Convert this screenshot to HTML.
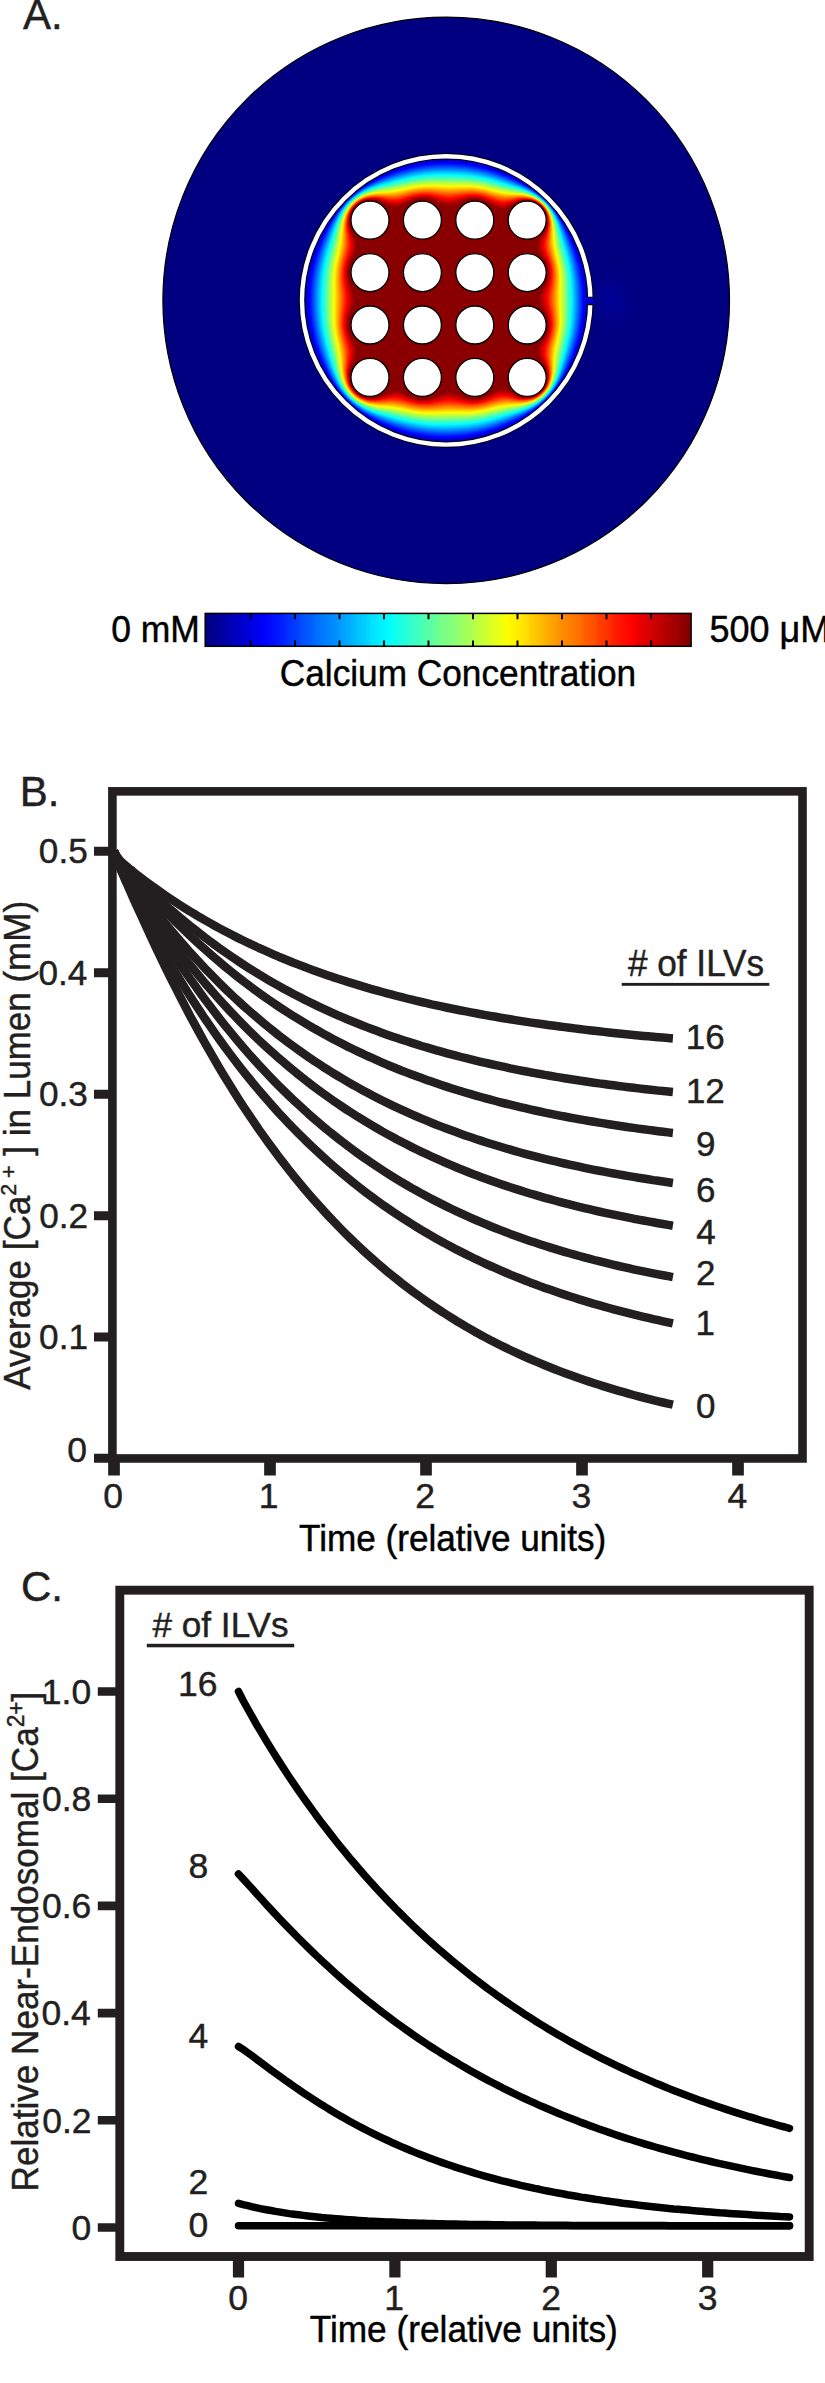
<!DOCTYPE html><html><head><meta charset="utf-8"><title>Figure</title><style>html,body{margin:0;padding:0;background:#fff;overflow:hidden}svg{display:block}text{font-family:'Liberation Sans', Arial, Helvetica, sans-serif;stroke-width:0.45px}</style></head><body>
<svg width="825" height="2383" viewBox="0 0 825 2383">
<rect width="825" height="2383" fill="#fff"/>
<text x="23.12" y="29.10" font-size="42" fill="#231f20" stroke="#231f20">A.</text>
<defs><clipPath id="cin"><circle cx="446.2" cy="300.4" r="142.2"/></clipPath>
<radialGradient id="glow" cx="0.5" cy="0.5" r="0.5"><stop offset="0" stop-color="#0000b0" stop-opacity="0.55"/><stop offset="1" stop-color="#000080" stop-opacity="0"/></radialGradient>
<filter id="sm" x="-5%" y="-5%" width="110%" height="110%"><feGaussianBlur stdDeviation="0.5"/></filter>
<linearGradient id="jetg" x1="0" y1="0" x2="1" y2="0"><stop offset="0" stop-color="#000080"/><stop offset="0.02" stop-color="#00008f"/><stop offset="0.03" stop-color="#00009f"/><stop offset="0.05" stop-color="#0000af"/><stop offset="0.06" stop-color="#0000bf"/><stop offset="0.08" stop-color="#0000cf"/><stop offset="0.09" stop-color="#0000df"/><stop offset="0.11" stop-color="#0000ef"/><stop offset="0.12" stop-color="#0000ff"/><stop offset="0.14" stop-color="#0010ff"/><stop offset="0.16" stop-color="#0020ff"/><stop offset="0.17" stop-color="#0030ff"/><stop offset="0.19" stop-color="#0040ff"/><stop offset="0.2" stop-color="#0050ff"/><stop offset="0.22" stop-color="#0060ff"/><stop offset="0.23" stop-color="#0070ff"/><stop offset="0.25" stop-color="#0080ff"/><stop offset="0.27" stop-color="#008fff"/><stop offset="0.28" stop-color="#009fff"/><stop offset="0.3" stop-color="#00afff"/><stop offset="0.31" stop-color="#00bfff"/><stop offset="0.33" stop-color="#00cfff"/><stop offset="0.34" stop-color="#00dfff"/><stop offset="0.36" stop-color="#00efff"/><stop offset="0.38" stop-color="#00ffff"/><stop offset="0.39" stop-color="#10ffef"/><stop offset="0.41" stop-color="#20ffdf"/><stop offset="0.42" stop-color="#30ffcf"/><stop offset="0.44" stop-color="#40ffbf"/><stop offset="0.45" stop-color="#50ffaf"/><stop offset="0.47" stop-color="#60ff9f"/><stop offset="0.48" stop-color="#70ff8f"/><stop offset="0.5" stop-color="#80ff80"/><stop offset="0.52" stop-color="#8fff70"/><stop offset="0.53" stop-color="#9fff60"/><stop offset="0.55" stop-color="#afff50"/><stop offset="0.56" stop-color="#bfff40"/><stop offset="0.58" stop-color="#cfff30"/><stop offset="0.59" stop-color="#dfff20"/><stop offset="0.61" stop-color="#efff10"/><stop offset="0.62" stop-color="#ffff00"/><stop offset="0.64" stop-color="#ffef00"/><stop offset="0.66" stop-color="#ffdf00"/><stop offset="0.67" stop-color="#ffcf00"/><stop offset="0.69" stop-color="#ffbf00"/><stop offset="0.7" stop-color="#ffaf00"/><stop offset="0.72" stop-color="#ff9f00"/><stop offset="0.73" stop-color="#ff8f00"/><stop offset="0.75" stop-color="#ff8000"/><stop offset="0.77" stop-color="#ff7000"/><stop offset="0.78" stop-color="#ff6000"/><stop offset="0.8" stop-color="#ff5000"/><stop offset="0.81" stop-color="#ff4000"/><stop offset="0.83" stop-color="#ff3000"/><stop offset="0.84" stop-color="#ff2000"/><stop offset="0.86" stop-color="#ff1000"/><stop offset="0.88" stop-color="#ff0000"/><stop offset="0.89" stop-color="#ef0000"/><stop offset="0.91" stop-color="#df0000"/><stop offset="0.92" stop-color="#cf0000"/><stop offset="0.94" stop-color="#bf0000"/><stop offset="0.95" stop-color="#af0000"/><stop offset="0.97" stop-color="#9f0000"/><stop offset="0.98" stop-color="#8f0000"/><stop offset="1" stop-color="#800000"/></linearGradient></defs>
<circle cx="446.2" cy="300.4" r="283.3" fill="#000080" stroke="#000" stroke-width="1.2"/>
<ellipse cx="612" cy="301" rx="40" ry="45" fill="url(#glow)"/>
<g clip-path="url(#cin)"><g filter="url(#sm)">
<circle cx="446.2" cy="300.4" r="143" fill="#00009e"/>
<path fill="#0000b5" d="M453.1 441.3 449.1 441.5 440.6 441.4 438.1 441.1 433.6 440.9 432.1 440.6 429.1 440.4 427.6 440.1 425.1 439.9 417.1 438.4 416.1 438.2 414.6 437.9 410.6 436.9 405.6 435.5 396.6 432.5 391.1 430.4 388.6 429.3 387.6 428.9 383.6 427.0 378.6 424.5 377.6 423.8 375.1 422.5 374.1 421.9 372.6 421.1 371.6 420.4 370.1 419.6 367.6 417.9 367.1 417.7 366.1 416.9 365.6 416.7 364.1 415.5 363.6 415.2 362.6 414.5 362.1 414.2 360.6 413.0 360.1 412.8 358.5 411.3 358.1 411.0 357.6 410.8 355.9 409.3 355.6 409.0 355.1 408.8 351.9 405.8 351.6 405.6 351.1 405.4 342.0 396.3 341.5 395.8 341.3 395.3 341.1 395.0 338.5 392.3 338.1 391.8 337.9 391.3 337.6 390.9 335.6 388.8 335.4 388.3 334.1 386.8 333.9 386.3 332.7 384.8 332.4 384.3 331.2 382.8 331.0 382.3 330.2 381.3 330.0 380.8 329.2 379.8 329.0 379.3 326.3 375.3 325.5 373.8 324.9 372.8 324.1 371.3 323.4 370.3 321.1 365.8 320.0 363.8 318.7 360.8 317.0 357.3 314.4 350.8 311.9 343.8 309.5 335.3 308.0 328.8 307.0 323.3 306.8 321.3 306.5 319.8 306.3 317.3 306.0 315.8 305.8 312.8 305.5 310.3 305.4 303.8 305.4 291.8 305.5 289.8 305.8 287.8 306.0 284.8 306.3 283.3 306.5 281.3 306.8 279.8 307.0 277.3 308.5 269.8 310.0 263.8 310.7 261.3 310.9 260.3 312.4 255.8 314.1 250.8 317.5 242.3 322.4 232.3 323.1 231.3 324.4 228.8 325.1 227.8 325.8 226.3 327.5 223.8 328.3 222.3 329.0 221.3 329.3 220.8 330.5 219.3 330.7 218.8 331.5 217.8 331.7 217.3 332.9 215.8 333.1 215.3 334.4 213.8 334.6 213.3 336.1 211.7 336.4 211.3 336.6 210.8 338.6 208.6 338.8 208.3 339.0 207.8 343.6 203.1 343.8 202.8 344.0 202.3 344.4 201.8 347.6 198.6 348.1 198.1 348.6 198.0 348.8 197.8 353.1 193.6 353.6 193.2 354.1 193.0 354.4 192.8 356.6 190.7 357.1 190.5 359.1 188.7 359.6 188.5 361.1 187.2 361.6 187.1 363.1 185.8 363.6 185.6 364.6 184.8 365.1 184.6 366.6 183.3 367.1 183.1 368.1 182.4 369.6 181.6 372.1 179.9 373.6 179.2 374.6 178.5 377.1 177.2 378.1 176.5 380.1 175.5 387.1 172.1 391.6 170.2 397.1 168.0 406.1 165.1 407.1 164.9 409.6 164.1 415.6 162.6 423.1 161.2 425.6 160.9 426.6 160.7 429.1 160.4 430.6 160.1 433.6 160.0 436.1 159.6 444.6 159.5 455.6 159.6 457.1 159.7 458.6 160.0 461.6 160.1 463.1 160.4 465.6 160.6 467.1 160.9 469.1 161.2 470.1 161.4 472.1 161.7 473.1 161.9 474.6 162.1 477.6 162.9 479.1 163.1 484.6 164.6 487.1 165.4 488.1 165.6 492.6 167.0 499.6 169.7 502.1 170.8 503.1 171.2 507.6 173.3 508.6 173.6 510.6 174.6 511.6 175.3 516.1 177.5 517.1 178.2 518.6 179.0 519.6 179.7 521.1 180.4 523.6 182.2 524.1 182.4 525.1 183.1 525.6 183.3 526.6 184.1 527.1 184.3 528.1 185.1 528.6 185.3 530.1 186.6 530.6 186.8 532.1 188.0 532.6 188.2 534.1 189.5 534.6 189.7 536.9 191.8 537.1 192.0 537.6 192.1 540.9 195.3 541.1 195.5 541.6 195.6 551.3 205.3 551.5 205.8 551.6 206.0 554.8 209.3 554.9 209.8 555.1 210.0 556.8 211.8 556.9 212.3 557.1 212.6 558.7 214.3 558.9 214.8 560.2 216.3 560.3 216.8 561.1 217.8 561.3 218.3 562.6 219.8 562.8 220.3 563.6 221.3 563.8 221.8 565.5 224.3 566.2 225.8 567.0 226.8 567.7 228.3 568.4 229.3 569.7 231.8 570.3 232.8 570.9 233.8 574.8 241.8 575.1 242.8 576.2 245.3 577.2 247.8 578.9 252.3 581.8 261.3 582.0 262.3 582.8 264.8 583.8 268.8 585.2 276.3 585.5 278.3 585.8 279.8 586.0 281.8 586.2 282.8 586.5 286.3 586.8 287.8 586.9 292.3 587.3 294.8 587.3 300.8 587.3 306.3 586.9 308.8 586.8 313.3 586.5 314.8 586.3 317.3 586.0 318.8 585.7 321.3 585.5 322.3 584.7 327.3 584.5 328.3 584.3 329.8 583.3 333.8 581.3 341.3 579.4 347.3 578.6 349.3 577.7 351.8 576.7 354.3 575.6 356.8 575.3 357.8 569.4 369.8 568.7 370.8 567.9 372.3 567.2 373.3 566.5 374.8 564.8 377.3 564.0 378.8 563.3 379.8 563.1 380.3 561.8 381.8 561.6 382.3 560.8 383.3 560.6 383.8 559.4 385.3 559.2 385.8 557.9 387.3 557.7 387.8 555.9 389.8 555.7 390.3 553.1 393.1 552.9 393.3 552.8 393.8 552.3 394.3 540.1 406.5 539.6 406.9 539.1 407.1 538.8 407.3 536.1 409.8 535.6 410.0 533.6 411.8 533.1 412.0 531.6 413.3 531.1 413.5 529.6 414.7 529.1 415.0 528.1 415.7 527.6 415.9 526.1 417.2 525.6 417.4 524.6 418.1 523.1 418.9 520.6 420.6 519.1 421.3 518.1 422.0 516.6 422.8 515.6 423.5 504.6 428.9 497.6 431.8 491.6 434.0 487.1 435.5 486.1 435.7 483.6 436.4 477.6 437.9 473.1 438.9 471.1 439.1 470.1 439.4 468.1 439.6 466.6 439.9 464.6 440.1 463.1 440.4 460.6 440.6 459.1 440.9 454.6 441.1 453.1 441.3Z"/>
<path fill="#0000c5" d="M454.6 440.3 452.1 440.6 450.1 440.6 441.1 440.6 433.6 440.1 425.6 439.1 422.1 438.6 417.1 437.6 411.1 436.3 405.6 434.8 397.6 432.2 391.1 429.7 387.6 428.2 384.6 426.8 379.6 424.4 375.6 422.2 370.5 419.3 365.6 416.2 360.1 412.3 358.6 411.1 357.6 410.4 356.1 409.1 355.1 408.4 352.2 405.8 350.6 404.6 342.3 396.3 341.1 394.7 338.5 391.8 337.8 390.8 336.0 388.8 334.6 386.8 331.6 382.7 326.9 375.3 323.5 369.3 320.4 363.3 317.7 357.3 316.3 353.8 313.7 346.8 312.2 342.3 310.3 335.3 308.8 328.8 307.8 322.8 306.8 315.8 306.3 310.3 306.2 303.8 306.2 292.8 306.3 290.3 306.9 284.3 307.9 277.3 309.3 269.8 310.7 263.8 311.9 259.8 313.1 255.8 314.8 250.8 318.2 242.3 322.0 234.3 324.4 229.8 328.8 222.3 332.2 217.3 335.0 213.3 336.3 211.8 337.0 210.8 338.7 208.8 339.8 207.3 343.6 203.3 344.7 201.8 347.6 198.9 348.1 198.4 349.1 197.8 353.6 193.5 354.6 192.8 356.6 191.0 357.6 190.4 359.1 189.1 360.1 188.4 363.1 186.2 368.1 182.8 375.1 178.7 381.1 175.6 388.1 172.3 396.6 168.9 404.6 166.2 409.1 164.9 415.6 163.4 423.1 161.9 430.6 160.9 436.1 160.4 443.1 160.3 454.6 160.3 461.1 160.9 465.6 161.4 472.1 162.4 479.1 163.9 484.6 165.3 491.6 167.4 499.1 170.1 503.1 171.8 508.6 174.2 515.1 177.6 518.6 179.5 521.1 181.0 525.6 183.8 528.6 185.7 529.6 186.5 530.6 187.1 533.6 189.4 534.6 190.0 536.6 191.8 537.6 192.4 538.1 192.8 540.7 195.3 541.6 195.8 542.1 196.3 550.6 204.8 551.1 205.3 551.3 205.8 551.6 206.2 554.5 209.3 555.1 210.3 556.4 211.8 557.1 212.8 558.4 214.3 559.0 215.3 559.8 216.3 561.4 218.8 562.2 219.8 565.0 224.3 567.9 229.3 570.3 233.8 573.9 241.3 575.8 245.8 578.2 252.3 581.0 260.8 582.6 266.8 584.0 273.8 585.0 279.8 586.0 287.8 586.2 292.3 586.5 294.8 586.6 300.8 586.5 306.3 586.2 308.8 586.0 313.3 585.0 320.8 584.0 327.3 582.6 333.8 580.6 341.3 578.7 347.3 576.3 353.8 574.4 358.3 569.9 367.8 567.6 372.0 563.6 378.8 560.3 383.8 558.0 386.8 557.4 387.8 556.1 389.3 555.4 390.3 553.1 392.8 552.5 393.8 552.0 394.3 546.1 400.3 540.1 406.1 538.6 407.2 536.1 409.5 535.1 410.1 533.6 411.4 529.6 414.3 526.1 416.6 520.6 420.0 514.6 423.4 506.6 427.3 503.6 428.7 500.1 430.1 493.1 432.8 487.6 434.6 481.6 436.2 475.1 437.7 467.1 439.1 459.1 440.1 454.6 440.3Z"/>
<path fill="#0000d4" d="M450.6 439.8 442.6 439.8 435.1 439.4 429.1 438.8 422.6 437.9 415.6 436.6 410.6 435.4 404.6 433.7 396.6 431.1 388.1 427.8 383.1 425.5 380.1 424.1 376.1 422.0 370.6 418.9 366.1 416.1 360.1 411.9 355.1 408.1 352.6 405.8 350.6 404.2 346.6 400.3 342.7 396.3 341.1 394.3 338.8 391.8 336.4 388.8 335.0 386.8 331.8 382.3 327.4 375.3 324.1 369.3 320.8 362.8 318.2 356.8 315.3 349.3 313.3 343.3 311.0 335.3 309.5 328.3 308.5 322.3 307.6 315.8 307.1 309.3 307.0 301.3 307.1 292.3 307.6 285.8 308.0 281.8 309.0 275.3 310.4 268.3 312.3 260.8 314.0 255.3 316.3 248.8 318.9 242.3 322.4 234.8 325.0 229.8 329.0 222.8 332.3 217.8 335.4 213.3 340.1 207.3 343.6 203.6 345.0 201.8 347.6 199.2 349.3 197.8 353.6 193.8 354.6 193.1 356.6 191.3 357.6 190.6 359.1 189.4 363.1 186.5 368.1 183.2 375.1 179.2 381.1 176.1 388.1 172.9 396.6 169.5 404.1 167.0 409.6 165.5 415.6 164.1 423.1 162.6 430.6 161.6 437.1 161.1 444.6 161.0 454.1 161.1 460.6 161.6 465.6 162.1 472.1 163.1 479.1 164.6 485.1 166.1 491.6 168.1 499.1 170.8 503.1 172.4 508.6 174.8 515.1 178.1 520.1 180.8 527.1 185.1 532.6 188.9 534.6 190.3 536.6 192.0 537.6 192.7 540.5 195.3 542.1 196.5 546.1 200.4 550.4 204.8 551.6 206.4 554.2 209.3 554.9 210.3 556.2 211.8 559.5 216.3 562.8 221.3 566.3 227.3 570.0 234.3 573.3 241.3 575.9 247.8 577.7 252.8 580.3 260.8 582.0 267.3 583.4 274.3 584.4 280.3 585.2 287.8 585.7 295.3 585.8 301.3 585.7 306.3 585.2 313.3 584.2 321.3 583.2 327.8 581.9 333.8 579.9 341.3 578.2 346.8 575.6 353.8 573.3 359.3 569.1 368.3 565.8 374.3 562.6 379.8 558.5 385.8 555.1 390.3 553.1 392.6 552.2 393.8 551.3 394.8 545.6 400.6 540.1 405.8 538.2 407.3 536.1 409.1 531.6 412.4 525.6 416.5 519.6 420.0 513.6 423.3 504.6 427.6 497.6 430.4 491.1 432.7 484.1 434.8 477.6 436.4 472.1 437.5 463.6 438.7 458.6 439.3 450.6 439.8Z"/>
<path fill="#0000e4" d="M454.1 438.8 448.1 439.1 441.1 439.0 433.6 438.5 425.6 437.6 418.6 436.4 412.1 435.0 406.1 433.4 398.6 431.1 391.6 428.5 384.6 425.6 379.1 423.0 371.1 418.7 366.6 416.0 360.6 411.9 355.1 407.7 352.6 405.5 351.1 404.3 347.4 400.8 343.0 396.3 339.2 391.8 335.4 386.8 331.9 381.8 327.9 375.3 324.6 369.3 321.4 362.8 318.7 356.3 316.2 349.8 314.0 343.3 312.1 336.3 310.5 329.3 309.4 323.3 308.6 316.8 308.0 310.3 307.8 303.8 307.8 294.3 308.0 289.8 308.6 283.3 309.5 276.8 310.8 269.8 312.4 263.3 314.4 256.3 316.6 249.8 319.4 242.8 322.8 235.3 325.6 229.8 329.5 222.8 332.7 217.8 335.8 213.3 340.5 207.3 343.6 203.9 345.3 201.8 347.6 199.5 349.6 197.8 353.6 194.0 359.1 189.7 363.6 186.5 368.6 183.3 375.1 179.7 381.1 176.6 388.1 173.5 395.1 170.7 401.6 168.5 408.6 166.4 415.6 164.7 422.6 163.4 430.1 162.4 436.1 161.9 443.6 161.7 453.6 161.8 460.1 162.2 465.1 162.8 472.1 163.8 478.6 165.1 484.6 166.6 491.1 168.6 499.1 171.4 508.1 175.2 514.6 178.4 520.1 181.3 527.1 185.5 532.6 189.2 534.6 190.6 536.6 192.2 537.6 192.9 540.3 195.3 542.1 196.7 546.1 200.6 550.2 204.8 551.6 206.6 554.0 209.3 557.8 214.3 561.8 220.3 564.5 224.8 567.7 230.8 569.7 234.8 571.4 238.3 574.3 245.3 576.6 251.3 579.0 258.8 580.7 264.8 581.9 270.3 583.2 277.3 584.0 283.3 584.6 289.8 585.0 296.3 585.0 303.3 584.6 311.8 584.1 316.8 583.1 323.8 582.0 330.3 580.3 337.3 578.3 344.3 575.9 351.3 573.4 357.8 569.3 366.8 567.0 371.3 563.1 378.3 559.9 383.3 556.8 387.8 554.8 390.3 553.1 392.3 551.5 394.3 546.6 399.3 540.6 405.1 536.1 408.8 533.1 411.0 529.1 413.8 525.6 416.0 520.6 418.9 514.1 422.5 507.6 425.5 501.1 428.3 494.6 430.8 488.1 432.9 481.6 434.7 475.1 436.2 468.1 437.4 460.6 438.3 454.1 438.8Z"/>
<path fill="#0000f3" d="M457.1 437.8 450.1 438.2 443.6 438.3 436.1 437.9 430.1 437.4 423.6 436.5 416.6 435.3 410.6 433.9 404.1 432.1 397.1 429.9 389.6 427.1 383.1 424.3 377.1 421.4 371.1 418.2 366.6 415.5 360.6 411.5 355.1 407.4 350.1 403.1 344.8 397.8 342.9 395.8 340.0 392.3 337.2 388.8 334.0 384.3 330.8 379.3 327.9 374.3 324.7 368.3 321.9 362.3 318.9 355.3 316.5 348.8 314.4 342.3 312.4 334.8 311.0 328.3 309.9 321.3 309.1 314.8 308.7 308.3 308.6 300.3 308.7 292.3 309.2 285.8 310.0 278.8 311.2 271.8 312.6 265.3 314.4 258.8 316.6 251.8 319.4 244.3 322.4 237.3 325.6 230.8 329.7 223.3 332.8 218.3 335.8 213.8 340.4 207.8 343.6 204.2 345.6 201.8 347.5 199.8 349.9 197.8 353.1 194.8 356.7 191.8 361.6 188.2 367.6 184.3 373.1 181.2 379.1 178.1 386.1 174.9 392.1 172.4 398.6 170.1 405.6 167.9 412.1 166.2 418.6 164.8 424.6 163.8 431.6 163.0 438.1 162.5 446.1 162.4 454.1 162.6 460.6 163.0 467.1 163.8 474.1 164.9 480.1 166.2 487.1 168.0 493.1 169.9 500.1 172.4 508.1 175.8 514.6 178.9 520.6 182.0 527.6 186.1 534.1 190.5 537.6 193.2 540.1 195.3 542.1 196.9 546.1 200.8 550.0 204.8 551.6 206.8 553.8 209.3 557.8 214.8 562.0 221.3 564.9 226.3 568.7 233.8 571.9 240.8 574.3 246.8 576.6 253.3 578.9 260.8 580.5 266.8 581.8 273.3 582.9 279.8 583.6 286.8 584.2 294.8 584.3 300.8 584.2 306.3 583.6 314.8 582.7 321.8 581.6 328.8 580.0 335.8 578.1 342.8 575.7 350.3 573.2 356.8 569.5 365.3 566.8 370.8 562.7 378.3 559.6 383.3 556.5 387.8 554.6 390.3 551.7 393.8 547.1 398.6 541.1 404.3 539.6 405.7 536.1 408.4 533.6 410.3 529.1 413.4 524.1 416.5 517.1 420.3 511.1 423.3 503.6 426.7 497.6 429.0 490.6 431.4 484.6 433.2 477.6 434.9 471.6 436.0 464.1 437.1 457.1 437.8Z"/>
<path fill="#0004ff" d="M452.6 437.3 446.1 437.5 439.6 437.3 432.1 436.8 424.6 435.9 417.6 434.7 411.6 433.4 405.1 431.7 398.1 429.6 391.1 427.0 384.1 424.2 377.6 421.1 371.1 417.7 366.6 415.1 361.1 411.5 355.6 407.4 351.1 403.7 347.1 399.8 343.2 395.8 339.5 391.3 335.8 386.3 332.4 381.3 328.9 375.3 325.8 369.3 322.7 362.8 319.8 355.8 317.4 349.3 315.3 342.8 313.5 336.3 312.1 329.8 311.0 323.3 310.1 316.8 309.6 310.3 309.4 303.3 309.4 294.8 309.7 289.3 310.3 282.8 311.2 276.3 312.5 269.3 314.0 262.8 315.8 256.3 318.0 249.8 320.7 242.8 323.7 235.8 326.9 229.3 330.4 222.8 333.5 217.8 337.6 211.8 341.1 207.3 345.6 202.1 347.8 199.8 353.6 194.6 359.1 190.3 363.6 187.2 368.6 184.1 374.1 181.1 380.6 177.9 388.1 174.6 394.6 172.1 401.6 169.8 408.6 167.8 415.1 166.2 422.1 164.9 429.1 164.0 436.1 163.4 443.1 163.2 452.1 163.2 457.6 163.5 464.6 164.2 471.6 165.2 478.1 166.4 484.6 168.0 490.6 169.7 498.6 172.5 506.6 175.7 514.1 179.1 520.1 182.2 527.1 186.2 532.1 189.4 534.6 191.1 537.6 193.4 542.1 197.1 546.1 201.0 549.8 204.8 553.5 209.3 557.5 214.8 561.4 220.8 563.9 225.3 567.2 231.8 570.4 238.8 573.1 245.3 575.5 251.8 577.7 258.8 579.4 265.3 580.7 271.3 581.9 278.3 582.7 284.8 583.3 291.8 583.5 298.3 583.5 304.8 583.1 312.3 582.4 318.8 581.5 325.3 580.4 331.3 578.7 338.3 576.9 344.8 574.5 351.8 571.8 358.8 568.3 366.8 565.1 373.3 561.8 379.3 557.9 385.3 554.3 390.3 551.0 394.3 546.1 399.3 540.6 404.5 536.1 408.1 532.6 410.7 526.6 414.5 521.1 417.7 514.1 421.3 507.1 424.5 500.6 427.2 493.6 429.7 487.1 431.8 480.6 433.5 474.1 434.8 467.1 436.0 459.6 436.8 452.6 437.3Z"/>
<path fill="#0013ff" d="M456.1 436.3 449.1 436.7 442.6 436.6 434.6 436.2 427.6 435.5 421.1 434.6 414.1 433.3 407.6 431.7 400.6 429.7 393.6 427.3 386.6 424.6 379.6 421.5 372.6 418.1 367.1 415.0 361.6 411.5 356.1 407.5 351.6 403.8 348.1 400.5 344.0 396.3 340.2 391.8 337.2 387.8 333.8 382.8 330.8 377.8 327.8 372.3 324.9 366.3 322.2 360.3 319.5 353.3 317.3 346.8 315.4 340.8 313.8 334.3 312.5 327.8 311.4 321.3 310.7 314.8 310.3 308.3 310.1 300.8 310.3 292.8 310.7 286.3 311.5 279.3 312.5 272.8 313.9 266.3 315.7 259.3 317.8 252.3 320.5 244.8 323.4 237.8 326.7 230.8 330.3 223.8 333.6 218.3 336.9 213.3 341.0 207.8 345.7 202.3 347.6 200.3 353.6 194.9 357.1 192.1 361.6 188.8 367.1 185.3 372.1 182.6 377.1 180.0 383.6 177.1 390.6 174.2 397.6 171.7 404.6 169.5 411.6 167.7 418.1 166.3 424.6 165.2 431.6 164.4 438.1 164.0 445.6 163.9 453.6 164.0 460.1 164.4 467.1 165.2 473.6 166.2 480.1 167.5 486.6 169.2 493.1 171.2 500.1 173.7 508.1 176.9 515.1 180.1 521.1 183.2 527.6 186.8 533.6 190.7 538.1 194.0 542.1 197.3 546.2 201.3 549.6 204.8 553.3 209.3 557.3 214.8 560.7 220.3 563.5 225.3 566.5 231.3 569.7 238.3 572.5 245.3 575.0 252.3 577.3 259.8 579.0 266.3 580.3 272.8 581.4 279.3 582.1 286.3 582.7 294.3 582.8 300.8 582.7 307.3 582.1 314.8 581.3 321.8 580.2 328.8 578.7 335.8 577.0 342.3 574.7 349.3 572.0 356.8 568.3 365.8 565.4 371.8 562.0 378.3 559.0 383.3 555.9 387.8 554.0 390.3 551.2 393.8 546.6 398.6 541.1 403.8 539.1 405.5 533.6 409.6 529.1 412.6 523.6 415.8 516.6 419.5 510.6 422.3 503.6 425.3 497.1 427.8 490.1 430.2 483.6 432.0 477.1 433.5 470.6 434.7 463.1 435.7 456.1 436.3Z"/>
<path fill="#0023ff" d="M451.1 435.8 444.6 435.9 437.6 435.7 430.6 435.1 423.6 434.3 417.1 433.2 411.1 431.9 404.6 430.2 397.6 428.0 390.6 425.6 383.6 422.8 376.6 419.6 370.6 416.5 365.6 413.7 360.6 410.4 355.6 406.8 350.8 402.8 347.1 399.2 343.6 395.5 339.8 390.8 336.2 385.8 333.0 380.8 329.9 375.3 326.8 369.3 323.9 362.8 321.3 356.3 318.8 349.3 316.7 342.8 315.0 336.3 313.6 329.8 312.5 323.3 311.7 316.8 311.1 309.8 310.9 302.3 311.0 294.3 311.3 287.8 312.1 280.8 313.1 273.8 314.5 266.8 316.2 259.8 318.2 253.3 320.8 245.8 323.8 238.3 327.2 230.8 330.8 223.8 334.3 217.8 337.9 212.3 341.3 207.8 345.6 202.7 348.1 200.1 353.6 195.1 357.6 192.0 362.1 188.8 367.6 185.4 372.1 183.0 377.6 180.3 383.6 177.6 390.1 175.0 397.1 172.5 404.1 170.3 410.6 168.6 416.6 167.3 423.1 166.2 429.6 165.3 436.1 164.8 443.1 164.6 451.6 164.7 458.1 165.0 464.6 165.6 471.1 166.5 477.6 167.7 484.1 169.2 490.6 171.0 498.1 173.5 506.1 176.7 513.6 179.9 520.6 183.3 527.1 186.8 532.6 190.3 537.6 193.9 542.1 197.5 546.1 201.3 549.8 205.3 553.5 209.8 557.0 214.8 560.4 220.3 562.9 224.8 566.0 231.3 569.1 238.3 571.9 245.3 574.4 252.3 576.5 259.3 578.2 265.8 579.6 272.3 580.6 278.8 581.3 285.3 581.8 292.3 582.1 298.8 582.0 305.3 581.6 312.3 580.9 319.3 580.0 325.8 578.9 331.8 577.4 338.3 575.6 344.8 573.3 351.8 570.4 359.3 567.1 367.3 564.0 373.8 561.1 379.3 557.4 385.3 554.2 389.8 550.5 394.3 545.6 399.3 540.6 404.0 536.1 407.5 532.6 410.0 527.1 413.4 521.1 416.7 513.6 420.4 506.1 423.7 499.1 426.4 492.1 428.8 485.6 430.8 479.1 432.3 472.6 433.6 465.6 434.6 458.6 435.4 451.1 435.8Z"/>
<path fill="#0032ff" d="M455.6 434.8 448.6 435.1 442.1 435.1 435.1 434.7 428.1 434.1 421.1 433.1 414.6 431.9 408.1 430.4 401.6 428.6 394.1 426.2 386.6 423.4 379.6 420.4 372.6 417.1 367.6 414.4 362.1 411.1 356.6 407.2 352.4 403.8 348.6 400.4 344.7 396.3 340.9 391.8 337.9 387.8 334.9 383.3 332.2 378.8 329.3 373.3 326.7 367.8 323.9 361.3 321.2 354.3 319.0 347.8 317.0 341.3 315.4 334.8 314.1 328.8 313.1 322.3 312.4 315.8 311.9 308.8 311.7 301.8 311.8 293.8 312.2 286.8 312.9 279.8 313.9 273.3 315.2 266.8 316.8 260.3 318.9 253.3 321.5 245.8 324.4 238.3 327.8 230.8 331.2 223.8 334.3 218.3 337.5 213.3 341.2 208.3 345.8 202.8 347.7 200.8 353.1 195.8 356.6 193.0 360.6 190.1 365.6 186.9 370.1 184.4 375.6 181.6 382.1 178.7 389.6 175.8 397.1 173.1 404.1 171.0 410.6 169.3 417.1 167.9 423.6 166.8 430.6 165.9 437.1 165.5 444.1 165.3 452.1 165.4 459.1 165.8 466.1 166.5 472.6 167.4 479.1 168.7 485.1 170.1 491.6 172.0 499.1 174.5 507.1 177.6 515.1 181.1 521.6 184.2 527.6 187.5 533.1 190.9 537.6 194.1 542.1 197.7 545.9 201.3 549.2 204.8 552.9 209.3 555.4 212.8 558.3 217.3 561.4 222.8 563.9 227.8 567.3 235.3 570.4 242.8 573.1 250.3 575.3 257.3 577.2 264.3 578.6 270.8 579.7 277.8 580.6 284.8 581.1 292.3 581.3 299.3 581.2 305.8 580.8 313.3 580.1 320.3 579.1 327.3 577.8 333.8 576.1 340.8 573.8 348.3 571.0 356.3 567.5 365.3 564.3 372.3 561.3 378.3 558.4 383.3 555.0 388.3 551.1 393.3 549.3 395.3 547.1 397.6 542.1 402.4 539.1 404.9 534.1 408.6 529.1 411.8 523.6 414.9 517.6 418.0 511.1 421.0 503.6 424.1 497.1 426.5 490.1 428.8 483.6 430.6 476.6 432.1 470.1 433.3 463.1 434.2 455.6 434.8Z"/>
<path fill="#0041ff" d="M449.1 434.3 442.6 434.3 435.6 434.0 428.6 433.4 422.1 432.6 415.6 431.4 409.6 430.1 403.1 428.4 396.1 426.2 389.1 423.8 382.1 421.0 375.6 418.1 369.6 415.1 364.1 412.0 359.6 409.1 355.6 406.1 350.6 401.9 346.9 398.3 343.7 394.8 340.1 390.3 336.6 385.3 333.5 380.3 330.6 374.8 327.7 368.8 324.9 362.3 322.2 355.3 319.8 348.3 317.9 341.8 316.1 334.8 314.8 328.3 313.8 321.8 313.1 315.3 312.6 308.3 312.5 300.8 312.6 293.3 313.0 286.8 313.7 279.8 314.7 273.3 315.9 266.8 317.5 260.3 319.6 253.3 322.3 245.3 325.2 237.8 328.5 230.3 331.9 223.3 335.3 217.3 338.5 212.3 341.8 207.8 346.0 202.8 348.4 200.3 354.1 195.2 358.1 192.1 362.6 189.1 367.6 186.1 372.1 183.8 377.6 181.2 384.1 178.4 391.1 175.8 398.1 173.4 405.1 171.3 411.6 169.7 418.1 168.3 424.6 167.3 431.1 166.6 437.6 166.2 444.6 166.0 452.6 166.1 459.1 166.5 465.6 167.1 472.1 168.0 478.1 169.1 484.6 170.6 490.6 172.3 498.1 174.8 506.6 178.0 514.6 181.4 521.6 184.6 527.1 187.5 533.1 191.1 537.1 193.9 542.1 197.9 546.1 201.7 549.5 205.3 553.0 209.8 556.8 215.3 559.7 220.3 562.3 225.3 565.3 231.8 568.2 238.8 570.9 245.8 573.3 252.8 575.4 259.8 577.0 266.3 578.3 272.8 579.3 279.8 580.0 286.8 580.5 293.8 580.6 300.8 580.5 307.3 580.0 314.3 579.3 320.8 578.4 327.3 577.2 333.3 575.7 339.8 573.8 346.3 571.2 354.3 568.0 362.8 565.3 369.3 562.0 376.3 559.0 381.8 555.8 386.8 552.9 390.8 550.9 393.3 549.1 395.3 544.6 399.8 540.1 403.9 535.6 407.3 531.1 410.3 525.6 413.4 519.6 416.5 512.1 419.9 504.1 423.2 497.1 425.8 490.1 428.1 483.6 429.9 477.1 431.3 470.6 432.4 463.6 433.4 456.6 434.0 449.1 434.3Z"/>
<path fill="#0051ff" d="M454.6 433.3 447.6 433.6 441.1 433.5 434.1 433.1 427.1 432.5 420.6 431.6 414.1 430.4 407.6 428.9 401.1 427.1 393.6 424.7 386.1 422.0 378.6 418.9 372.1 416.0 366.6 413.1 361.6 410.0 356.6 406.6 352.6 403.4 349.1 400.2 345.3 396.3 341.9 392.3 338.9 388.3 336.3 384.3 333.6 379.8 331.0 374.8 328.4 369.3 325.5 362.3 322.9 355.3 320.5 348.3 318.6 341.8 316.9 335.3 315.7 329.3 314.7 322.8 313.9 316.3 313.4 309.3 313.2 302.3 313.3 294.8 313.7 287.8 314.3 280.8 315.2 274.3 316.4 267.8 318.0 261.3 319.9 254.3 322.4 246.8 325.4 238.8 328.8 230.8 331.9 224.3 334.8 218.8 338.2 213.3 341.7 208.3 345.9 203.3 347.7 201.3 352.6 196.8 355.6 194.3 360.1 191.0 364.1 188.5 369.1 185.6 374.1 183.2 381.1 180.1 388.6 177.3 396.1 174.7 403.6 172.4 410.6 170.6 417.1 169.2 423.6 168.1 430.1 167.4 436.6 166.9 443.6 166.7 451.6 166.8 458.6 167.2 465.6 167.8 472.1 168.7 478.6 169.9 484.6 171.3 491.6 173.2 499.1 175.7 507.6 178.9 516.1 182.5 522.6 185.5 528.1 188.4 533.6 191.7 538.1 194.9 542.1 198.1 546.0 201.8 549.3 205.3 552.5 209.3 554.9 212.8 557.7 217.3 560.2 221.8 562.7 226.8 565.9 234.3 569.0 242.3 571.9 250.3 574.0 257.3 575.7 263.8 577.1 270.3 578.3 277.3 579.1 284.3 579.6 291.8 579.9 298.8 579.8 305.8 579.4 312.8 578.8 319.8 577.8 326.8 576.6 333.3 575.0 339.8 572.7 347.8 569.9 356.3 566.3 365.8 563.3 372.8 560.3 378.8 557.5 383.8 554.1 388.8 550.6 393.3 546.9 397.3 542.1 401.9 538.6 404.8 534.1 408.0 529.1 411.1 523.6 414.1 517.6 417.0 511.1 419.8 503.1 423.0 496.1 425.5 489.1 427.7 482.6 429.4 476.1 430.8 469.1 431.9 462.1 432.8 454.6 433.3Z"/>
<path fill="#0060ff" d="M458.6 432.3 451.6 432.7 445.1 432.8 438.6 432.6 431.6 432.2 425.1 431.5 418.6 430.5 412.6 429.4 406.1 427.8 398.6 425.7 390.6 423.1 383.1 420.3 376.1 417.4 370.1 414.5 364.6 411.5 360.1 408.7 355.6 405.5 351.6 402.2 348.5 399.3 345.2 395.8 341.9 391.8 338.9 387.8 336.3 383.8 333.8 379.3 331.2 374.3 328.5 368.3 325.7 361.3 323.0 353.8 320.7 346.8 318.9 340.3 317.4 334.3 316.3 328.3 315.3 321.8 314.6 314.8 314.1 307.8 314.0 299.8 314.2 291.8 314.7 284.8 315.4 278.3 316.5 271.3 317.8 264.8 319.6 257.8 321.9 250.3 324.7 242.3 327.8 234.3 330.9 227.3 333.8 221.3 337.2 215.3 340.6 210.3 342.8 207.3 347.1 202.2 349.5 199.8 354.1 195.7 357.6 193.0 361.6 190.3 365.6 187.9 370.1 185.5 376.1 182.7 382.6 180.0 390.6 177.1 398.6 174.5 405.6 172.5 412.1 170.9 418.1 169.7 424.6 168.7 431.1 168.0 438.1 167.6 446.1 167.4 454.1 167.6 461.1 168.1 468.1 168.8 474.6 169.8 481.1 171.1 488.1 172.8 495.6 175.1 504.1 178.1 513.1 181.7 520.6 184.9 526.6 187.9 532.1 191.0 536.6 194.0 541.1 197.5 543.1 199.2 546.8 202.8 549.5 205.8 552.6 209.8 555.3 213.8 557.8 217.8 560.4 222.8 563.3 229.3 566.4 236.8 569.4 244.8 572.1 252.8 573.9 259.3 575.6 265.8 576.7 271.8 577.7 278.3 578.5 285.3 579.0 292.8 579.1 300.3 579.0 307.3 578.6 314.3 577.9 321.3 576.9 328.3 575.6 334.8 573.7 342.3 571.3 350.3 568.2 359.3 564.8 368.3 562.0 374.8 559.2 380.3 555.9 385.8 552.8 390.3 550.0 393.8 546.2 397.8 541.6 402.0 538.1 404.9 533.6 408.0 529.1 410.7 523.6 413.7 517.6 416.5 510.1 419.6 501.1 423.1 494.1 425.5 487.1 427.5 480.1 429.2 473.1 430.6 466.1 431.6 458.6 432.3Z"/>
<path fill="#0070ff" d="M454.6 431.8 447.6 432.0 441.1 432.0 434.1 431.6 427.6 431.1 421.1 430.2 415.1 429.2 408.6 427.8 402.1 426.0 394.1 423.6 386.6 421.0 379.1 418.1 372.1 415.1 367.1 412.6 362.1 409.7 357.6 406.7 353.1 403.2 349.6 400.1 346.1 396.5 343.4 393.3 340.3 389.3 337.9 385.8 335.3 381.3 332.9 376.8 330.3 371.3 327.6 364.8 325.0 357.8 322.5 350.3 320.4 343.3 318.7 336.8 317.4 330.3 316.4 324.3 315.6 317.8 315.0 310.8 314.8 303.8 314.8 295.8 315.1 288.8 315.7 281.8 316.6 275.3 317.7 268.8 319.1 262.3 321.1 254.8 323.7 246.8 326.8 238.3 330.0 230.3 333.0 223.8 335.9 218.3 338.8 213.3 342.3 208.3 346.0 203.8 348.1 201.5 352.1 197.7 355.1 195.2 359.1 192.2 363.1 189.7 367.6 187.1 372.6 184.7 379.1 181.9 386.6 179.1 395.1 176.2 402.6 173.9 409.1 172.2 415.6 170.8 422.1 169.7 428.6 168.9 435.1 168.4 442.1 168.2 450.1 168.2 457.6 168.5 464.6 169.1 471.1 169.9 477.6 171.0 483.6 172.3 490.6 174.2 498.6 176.8 507.6 180.0 517.1 183.8 523.6 186.7 529.1 189.5 533.6 192.2 538.1 195.3 542.1 198.5 545.6 201.8 548.9 205.3 551.7 208.8 554.1 212.3 556.6 216.3 559.1 220.8 561.2 225.3 564.1 232.3 567.4 240.8 570.3 249.3 572.6 256.8 574.3 263.3 575.7 269.8 576.8 276.3 577.6 282.8 578.1 289.8 578.4 297.3 578.4 304.3 578.1 311.8 577.5 318.8 576.7 325.3 575.5 331.8 574.1 338.3 571.9 346.3 569.2 354.8 565.7 364.8 562.7 372.3 559.9 378.3 556.9 383.8 554.0 388.3 550.6 392.8 547.1 396.6 542.6 400.9 539.1 403.9 534.6 407.1 530.1 409.8 525.1 412.5 519.6 415.1 512.6 418.1 504.1 421.4 496.6 424.0 489.6 426.2 483.1 427.9 476.6 429.2 469.6 430.4 462.1 431.3 454.6 431.8Z"/>
<path fill="#007fff" d="M458.1 430.8 451.1 431.2 444.6 431.3 437.6 431.1 431.1 430.7 424.6 430.0 418.6 429.1 412.6 428.0 406.6 426.6 399.1 424.5 391.1 422.0 383.1 419.2 375.6 416.2 369.6 413.4 364.6 410.8 360.1 408.1 355.6 404.9 352.1 402.0 349.1 399.3 345.8 395.8 342.9 392.3 340.3 388.8 337.7 384.8 335.4 380.8 332.8 375.8 330.2 369.8 327.4 362.8 324.8 355.3 322.4 347.8 320.5 341.3 319.1 335.3 317.9 329.3 316.9 322.8 316.1 315.8 315.7 308.8 315.5 301.3 315.7 293.3 316.1 286.3 316.8 279.3 317.8 272.3 319.0 265.8 320.8 258.3 323.0 250.8 325.9 242.3 329.3 233.3 332.3 226.3 335.2 220.3 337.9 215.3 341.1 210.3 343.8 206.8 347.6 202.3 350.1 199.8 354.1 196.2 357.6 193.6 361.1 191.2 365.1 188.8 369.6 186.5 375.1 184.0 382.1 181.2 390.1 178.4 398.1 175.8 404.6 174.0 411.1 172.4 417.6 171.1 423.6 170.2 430.6 169.4 437.6 169.0 445.6 168.9 453.6 169.0 460.6 169.4 467.6 170.1 474.1 171.0 480.6 172.3 487.6 174.0 495.1 176.2 504.1 179.3 514.1 183.1 521.1 185.9 526.6 188.5 532.1 191.5 536.6 194.4 540.6 197.4 543.1 199.6 546.4 202.8 549.1 205.8 552.2 209.8 554.6 213.3 556.9 217.3 559.2 221.8 561.9 227.8 564.8 235.3 568.2 244.8 570.8 252.8 572.7 259.3 574.1 265.3 575.3 271.3 576.2 277.3 577.0 284.3 577.5 291.8 577.7 299.3 577.6 306.8 577.2 314.3 576.5 321.3 575.6 327.8 574.4 334.3 572.6 341.8 570.1 350.3 566.4 361.3 563.3 369.8 560.8 375.8 558.0 381.3 555.1 386.3 553.4 388.8 551.9 390.8 549.0 394.3 545.7 397.8 541.6 401.6 538.1 404.4 533.6 407.4 529.1 410.0 524.1 412.6 518.6 415.1 510.1 418.5 501.1 421.8 493.6 424.3 486.6 426.3 479.6 427.9 472.6 429.2 465.6 430.2 458.1 430.8Z"/>
<path fill="#008fff" d="M454.1 430.3 447.1 430.5 440.6 430.4 433.6 430.1 427.1 429.6 421.1 428.8 415.1 427.8 409.1 426.5 402.6 424.8 394.6 422.5 386.6 419.9 379.1 417.1 372.6 414.4 367.1 411.8 362.1 409.0 357.6 406.0 353.6 403.0 350.5 400.3 347.0 396.8 344.4 393.8 341.3 389.8 338.6 385.8 336.3 381.8 334.2 377.8 331.9 372.8 329.3 366.3 326.7 359.3 324.1 351.3 321.9 343.8 320.2 337.3 319.0 331.3 318.0 325.3 317.2 319.3 316.6 312.3 316.4 305.3 316.3 297.8 316.6 290.3 317.1 283.3 317.8 276.8 318.8 270.3 320.2 263.8 322.1 256.3 324.5 248.3 327.4 239.8 330.8 230.8 333.6 224.3 336.3 218.8 339.5 213.3 342.5 208.8 345.6 204.8 348.3 201.8 351.6 198.7 355.1 195.7 358.6 193.1 362.6 190.5 367.1 188.0 371.1 186.1 377.1 183.6 384.1 181.0 393.1 178.0 401.6 175.4 408.1 173.7 414.6 172.3 420.6 171.3 427.1 170.4 433.6 169.9 440.6 169.6 448.6 169.6 456.6 169.8 463.6 170.4 470.1 171.1 476.6 172.1 482.6 173.4 489.6 175.1 497.6 177.6 507.6 181.1 518.1 185.1 524.1 187.6 529.1 190.1 533.6 192.7 538.1 195.7 541.6 198.5 544.6 201.2 547.6 204.3 550.1 207.3 552.7 210.8 555.2 214.8 557.4 218.8 559.8 223.8 562.5 230.3 565.8 239.3 568.8 248.3 571.2 256.3 572.9 262.8 574.2 268.8 575.2 274.8 576.0 280.8 576.6 288.3 576.9 295.8 577.0 303.3 576.7 310.3 576.3 317.3 575.5 323.8 574.5 330.3 573.2 336.8 571.1 344.8 568.4 353.8 564.7 364.8 561.7 372.8 559.3 378.3 556.3 383.8 553.5 388.3 550.1 392.8 546.6 396.6 542.6 400.4 539.1 403.3 535.1 406.2 530.6 408.9 525.6 411.5 520.1 414.0 513.6 416.6 504.6 420.0 496.6 422.7 489.6 424.8 483.1 426.5 476.1 427.9 469.1 429.0 461.6 429.8 454.1 430.3Z"/>
<path fill="#009eff" d="M458.6 429.3 451.6 429.7 445.1 429.8 438.1 429.6 431.6 429.2 425.6 428.7 419.6 427.9 413.6 426.8 407.6 425.5 400.1 423.5 391.6 420.9 383.1 418.1 375.6 415.2 370.1 412.9 365.1 410.4 360.6 407.7 356.1 404.6 352.6 401.9 349.6 399.1 346.4 395.8 343.9 392.8 341.3 389.3 339.0 385.8 336.7 381.8 334.4 377.3 332.0 371.8 329.4 365.3 326.8 357.8 324.4 350.3 322.6 343.8 321.1 337.8 319.8 331.8 318.8 325.8 317.9 318.8 317.4 311.8 317.1 303.8 317.1 295.8 317.4 288.3 318.0 281.3 318.9 274.3 320.0 267.8 321.7 260.3 323.7 252.8 326.4 244.3 329.8 234.8 332.7 227.3 335.4 221.3 338.3 215.8 341.0 211.3 343.9 207.3 347.2 203.3 349.6 200.8 353.1 197.6 356.1 195.2 359.6 192.7 363.6 190.2 367.6 188.1 372.6 185.8 378.6 183.4 386.6 180.6 395.1 177.9 402.6 175.8 409.1 174.1 415.1 172.8 421.1 171.8 428.1 171.0 435.1 170.5 442.6 170.3 450.6 170.3 458.1 170.6 465.1 171.2 472.1 172.0 478.6 173.1 486.1 174.8 493.6 176.9 502.6 179.9 514.1 184.0 521.1 186.7 526.6 189.1 531.6 191.7 536.1 194.5 540.1 197.4 542.6 199.5 545.6 202.4 548.3 205.3 551.4 209.3 553.5 212.3 555.8 216.3 557.9 220.3 560.1 225.3 562.4 231.3 565.9 241.3 569.0 250.8 570.8 256.8 572.3 262.8 573.5 268.3 574.5 274.3 575.3 281.3 575.9 288.3 576.2 296.3 576.2 304.3 576.0 311.8 575.4 318.8 574.6 325.8 573.5 332.3 571.8 339.8 569.5 348.3 565.7 360.3 562.5 369.8 559.8 376.3 557.4 381.3 554.9 385.8 553.3 388.3 551.8 390.3 549.0 393.8 546.1 396.9 542.1 400.6 538.6 403.5 534.6 406.2 530.6 408.6 525.6 411.1 520.6 413.3 512.1 416.7 502.1 420.2 494.1 422.8 487.1 424.8 480.1 426.4 473.1 427.7 466.1 428.6 458.6 429.3Z"/>
<path fill="#00aeff" d="M454.1 428.8 447.1 429.0 440.6 428.9 434.1 428.7 427.6 428.2 421.6 427.4 415.6 426.5 409.6 425.2 403.6 423.8 395.6 421.6 386.6 418.7 379.1 416.1 372.6 413.6 367.1 411.0 362.6 408.6 358.1 405.8 354.1 402.8 350.6 399.8 347.6 396.8 345.0 393.8 342.3 390.3 339.9 386.8 337.6 382.8 335.5 378.8 333.5 374.3 330.9 367.8 328.4 360.8 325.7 352.3 323.5 344.8 322.0 338.8 320.7 332.8 319.6 326.8 318.9 320.8 318.2 313.8 317.9 306.8 317.8 298.8 318.0 291.3 318.5 284.3 319.1 277.8 320.1 271.3 321.3 264.8 323.1 257.3 325.4 249.3 328.7 239.3 332.2 229.8 334.7 223.8 337.3 218.3 340.1 213.3 343.0 208.8 345.7 205.3 348.4 202.3 351.6 199.2 355.1 196.2 358.6 193.6 362.1 191.4 366.1 189.2 370.1 187.3 375.6 185.0 382.6 182.5 392.1 179.4 401.1 176.8 407.6 175.1 413.6 173.8 419.6 172.7 425.6 171.9 432.1 171.3 439.1 171.0 447.1 171.0 455.1 171.2 462.1 171.6 468.6 172.2 475.1 173.2 481.1 174.3 488.1 176.0 496.1 178.3 507.6 182.2 518.6 186.1 524.6 188.5 529.1 190.7 533.6 193.1 537.6 195.8 541.1 198.4 543.6 200.6 546.6 203.6 549.0 206.3 551.6 209.8 553.9 213.3 556.1 217.3 558.3 221.8 560.5 227.3 563.2 234.8 567.0 246.3 569.7 255.3 571.3 261.3 572.6 267.3 573.6 272.8 574.4 278.8 575.0 285.8 575.4 293.8 575.5 301.8 575.4 309.3 575.0 316.3 574.3 322.8 573.4 329.3 572.2 335.3 570.4 342.8 567.9 351.8 563.8 364.8 560.9 372.8 558.4 378.8 555.8 383.8 553.0 388.3 550.0 392.3 547.1 395.6 543.6 399.1 539.6 402.4 536.1 404.9 532.1 407.4 527.6 409.8 522.6 412.0 516.6 414.4 507.1 417.9 497.6 421.1 490.6 423.2 483.6 425.0 476.6 426.4 469.6 427.5 462.1 428.3 454.1 428.8Z"/>
<path fill="#00bdff" d="M458.6 427.8 452.1 428.1 445.1 428.2 438.6 428.1 432.1 427.8 426.1 427.3 420.1 426.5 414.6 425.6 408.6 424.3 401.1 422.5 392.1 419.9 383.1 417.0 375.6 414.3 370.1 412.1 365.1 409.6 360.6 407.1 356.6 404.4 353.1 401.7 350.4 399.3 347.5 396.3 344.9 393.3 342.2 389.8 339.9 386.3 337.9 382.8 335.9 378.8 333.7 373.8 331.4 367.8 328.8 360.3 326.3 352.3 324.3 345.3 322.8 339.3 321.5 333.3 320.4 327.3 319.5 320.3 318.9 313.3 318.6 305.8 318.6 297.8 318.8 290.3 319.3 282.8 320.1 275.8 321.1 269.3 322.7 261.8 324.6 254.3 327.3 245.3 330.7 235.3 333.4 227.8 336.0 221.8 338.4 216.8 341.3 211.8 343.7 208.3 346.8 204.3 349.6 201.3 352.6 198.5 355.6 196.0 359.1 193.5 363.1 191.1 367.1 189.0 372.1 186.7 377.6 184.6 384.1 182.5 393.1 179.7 400.6 177.5 407.1 175.8 413.1 174.5 419.1 173.4 425.6 172.6 432.6 172.0 440.1 171.7 448.1 171.7 456.6 171.9 464.1 172.4 471.1 173.2 477.6 174.2 485.1 175.8 492.6 177.9 501.6 180.7 515.1 185.2 521.6 187.6 526.6 189.7 531.1 192.0 535.6 194.6 539.1 197.1 542.1 199.4 545.1 202.3 547.9 205.3 550.7 208.8 552.7 211.8 554.8 215.3 556.6 218.8 558.8 223.8 560.9 229.3 563.7 237.8 567.4 249.3 569.3 255.8 570.7 261.3 571.9 266.8 572.9 272.3 573.8 279.3 574.4 286.3 574.7 294.3 574.8 302.8 574.6 310.8 574.2 317.8 573.4 324.8 572.4 331.3 570.8 338.8 568.7 346.8 564.4 361.3 561.3 370.8 559.2 376.3 556.9 381.3 554.4 385.8 552.8 388.3 551.4 390.3 548.6 393.8 545.7 396.8 542.1 400.2 538.6 403.0 535.1 405.3 531.1 407.7 526.6 409.9 521.6 412.0 513.6 415.1 502.1 419.0 493.6 421.7 486.6 423.6 480.1 425.1 473.1 426.3 466.1 427.2 458.6 427.8Z"/>
<path fill="#00cdff" d="M454.1 427.3 447.1 427.5 440.6 427.5 434.1 427.2 428.1 426.8 422.1 426.1 416.6 425.3 410.6 424.1 404.6 422.7 396.1 420.4 386.6 417.6 378.6 415.0 372.6 412.7 367.6 410.5 362.6 407.9 358.6 405.5 354.6 402.6 351.6 400.1 348.7 397.3 346.0 394.3 343.6 391.3 341.2 387.8 339.1 384.3 337.0 380.3 335.2 376.3 333.0 370.8 330.7 364.3 327.8 355.3 325.4 346.8 323.7 340.3 322.4 334.3 321.4 328.8 320.5 322.8 319.9 315.8 319.5 308.8 319.3 301.3 319.5 293.3 319.8 286.3 320.4 279.3 321.2 272.8 322.4 266.3 324.1 258.8 326.3 250.8 329.4 240.8 333.0 230.3 335.3 224.3 337.7 218.8 340.4 213.8 342.9 209.8 345.5 206.3 348.1 203.1 350.6 200.6 354.1 197.5 357.6 194.8 361.1 192.5 364.6 190.5 368.6 188.6 373.6 186.5 380.1 184.2 389.1 181.4 399.6 178.4 406.1 176.7 412.1 175.3 418.1 174.2 423.6 173.5 430.1 172.8 437.1 172.5 444.6 172.4 453.1 172.5 460.6 172.8 467.1 173.4 473.6 174.2 479.6 175.2 486.6 176.8 494.1 178.9 507.1 183.0 519.1 187.1 524.6 189.2 529.1 191.2 533.6 193.6 537.1 195.8 540.6 198.4 543.1 200.5 545.9 203.3 548.6 206.3 551.2 209.8 553.4 213.3 555.4 216.8 557.2 220.8 559.3 225.8 561.3 231.8 565.9 246.3 568.4 254.8 569.9 260.8 571.2 266.3 572.1 271.3 572.8 276.8 573.5 283.8 573.9 291.3 574.1 299.8 574.0 307.8 573.7 314.8 573.2 321.3 572.3 327.8 571.3 333.8 569.6 341.3 567.3 349.8 562.8 364.8 560.2 372.8 558.0 378.3 555.5 383.3 552.9 387.8 550.0 391.8 547.4 394.8 544.1 398.1 540.6 401.2 537.1 403.8 533.1 406.2 529.1 408.4 524.6 410.4 519.1 412.6 509.6 415.9 498.1 419.7 490.6 421.9 483.6 423.6 476.6 425.0 469.6 426.1 462.1 426.8 454.1 427.3Z"/>
<path fill="#00dcff" d="M459.1 426.3 452.6 426.6 445.6 426.8 439.1 426.7 432.6 426.4 426.6 425.9 421.1 425.3 415.6 424.4 409.6 423.2 402.1 421.4 393.1 419.0 383.1 416.0 375.6 413.4 370.6 411.5 365.6 409.2 361.1 406.7 357.1 404.2 354.1 401.9 351.1 399.3 348.5 396.8 345.9 393.8 343.6 390.8 341.2 387.3 339.1 383.8 337.1 379.8 335.2 375.3 333.2 370.3 331.1 363.8 328.6 355.8 326.4 348.3 324.7 341.8 323.4 335.8 322.2 329.8 321.2 322.8 320.6 315.8 320.2 308.3 320.1 300.3 320.3 291.8 320.7 284.3 321.3 277.3 322.3 270.3 323.8 262.8 325.8 254.8 328.4 245.8 332.2 233.8 334.7 226.8 336.9 221.3 339.3 216.3 341.9 211.8 344.2 208.3 346.9 204.8 349.1 202.3 352.1 199.5 355.1 196.9 358.6 194.4 362.1 192.2 366.1 190.1 370.1 188.3 374.6 186.5 380.1 184.7 386.6 182.7 397.1 179.7 404.6 177.7 411.1 176.2 417.1 175.0 423.6 174.1 430.1 173.5 437.1 173.1 445.1 173.0 454.1 173.2 462.1 173.6 469.1 174.3 476.1 175.2 483.6 176.7 491.1 178.6 499.1 181.0 516.1 186.4 522.1 188.5 527.1 190.5 531.1 192.4 535.1 194.7 538.6 197.1 541.6 199.4 544.6 202.1 547.1 204.8 549.2 207.3 551.7 210.8 553.8 214.3 555.6 217.8 557.8 222.8 559.6 227.8 561.5 233.8 565.8 247.8 567.8 254.8 569.2 260.3 570.3 265.3 571.3 270.3 572.2 277.3 572.9 284.3 573.3 292.3 573.4 300.8 573.3 308.8 572.9 316.3 572.3 323.3 571.4 329.8 570.0 336.8 568.0 344.8 563.3 361.8 560.5 370.8 558.5 376.3 556.3 381.3 553.9 385.8 551.3 389.8 548.5 393.3 545.7 396.3 542.6 399.2 539.1 402.1 535.6 404.5 532.1 406.5 528.1 408.5 523.1 410.6 515.1 413.5 502.6 417.6 493.6 420.4 486.6 422.3 480.1 423.7 473.1 424.9 466.6 425.7 459.1 426.3Z"/>
<path fill="#00ebff" d="M454.6 425.8 447.6 426.0 441.1 426.0 434.6 425.8 428.6 425.4 423.1 424.8 417.6 424.1 412.1 423.1 406.1 421.8 397.6 419.6 387.1 416.6 379.1 414.2 373.1 412.1 368.1 410.0 363.1 407.6 359.1 405.2 355.1 402.4 352.1 399.9 349.3 397.3 346.6 394.3 344.2 391.3 342.1 388.3 340.0 384.8 338.2 381.3 336.4 377.3 334.4 372.3 332.4 366.3 329.8 357.8 327.1 348.3 325.4 341.8 324.1 336.3 323.1 330.8 322.3 325.3 321.5 318.8 321.1 311.8 320.9 304.3 320.9 295.8 321.1 288.3 321.6 281.3 322.4 274.8 323.4 268.3 324.9 260.8 327.0 252.8 330.2 241.8 333.9 230.3 336.1 224.3 338.2 219.3 340.4 214.8 343.1 210.3 345.6 206.8 348.0 203.8 350.4 201.3 353.6 198.4 356.6 196.0 360.1 193.7 363.6 191.6 367.6 189.7 372.6 187.6 378.1 185.7 385.1 183.6 397.1 180.3 404.1 178.4 410.1 177.0 415.6 175.9 421.1 175.1 427.6 174.4 434.1 173.9 441.6 173.7 450.1 173.8 458.1 174.1 465.1 174.5 471.6 175.2 478.1 176.2 485.1 177.7 492.1 179.5 499.6 181.7 519.6 188.0 525.1 190.0 529.1 191.7 533.1 193.8 536.6 195.9 540.1 198.4 542.6 200.4 545.6 203.3 547.8 205.8 550.5 209.3 552.4 212.3 554.4 215.8 556.0 219.3 557.8 223.8 559.7 229.3 567.0 254.3 568.5 259.8 569.6 264.8 570.5 269.3 571.2 274.3 571.9 280.8 572.4 288.3 572.7 296.8 572.7 305.3 572.5 312.8 572.0 319.3 571.3 325.8 570.4 331.8 568.9 338.8 567.0 346.3 561.9 364.8 559.4 372.8 557.4 378.3 555.3 382.8 552.7 387.3 549.9 391.3 547.4 394.3 544.1 397.7 540.6 400.7 537.6 402.9 534.1 405.1 530.1 407.2 526.1 409.1 521.1 411.0 513.1 413.7 497.6 418.6 490.1 420.7 483.6 422.3 477.1 423.6 470.1 424.6 462.6 425.3 454.6 425.8Z"/>
<path fill="#00fbff" d="M460.1 424.8 454.6 425.1 448.6 425.2 442.6 425.3 437.1 425.2 432.1 424.9 427.1 424.6 422.1 424.0 417.6 423.4 412.6 422.5 407.1 421.3 401.6 420.0 394.6 418.2 385.6 415.7 379.6 413.9 374.6 412.2 370.1 410.5 366.6 409.0 363.6 407.5 360.6 405.8 358.1 404.2 355.6 402.5 353.1 400.5 350.7 398.3 348.7 396.3 346.9 394.3 344.9 391.8 342.8 388.8 341.2 386.3 339.8 383.8 338.3 380.8 336.8 377.3 335.4 373.8 333.5 368.3 331.4 361.3 328.4 350.8 326.3 342.8 325.0 337.3 324.0 331.8 323.1 326.3 322.4 320.8 321.9 314.3 321.6 306.8 321.6 298.8 321.8 290.8 322.2 283.8 322.8 277.3 323.6 271.3 324.6 265.3 326.1 258.8 328.0 251.3 331.9 238.3 334.9 228.8 336.6 223.8 338.5 219.3 340.4 215.3 342.7 211.3 345.4 207.3 348.3 203.8 351.2 200.8 355.1 197.4 359.1 194.5 363.1 192.2 367.6 190.0 372.1 188.1 376.6 186.6 382.1 184.9 396.1 181.1 404.6 178.9 410.1 177.6 415.1 176.6 419.6 175.9 424.6 175.3 431.1 174.8 437.6 174.5 445.6 174.4 454.1 174.6 461.1 174.9 467.6 175.4 473.6 176.1 479.1 177.0 485.6 178.4 492.1 180.1 519.1 188.2 523.6 189.7 527.6 191.3 531.1 192.9 534.6 194.8 538.1 197.1 541.6 199.8 544.9 202.8 548.0 206.3 551.0 210.3 553.1 213.8 555.3 218.3 557.2 222.8 558.4 226.3 559.8 230.8 566.3 253.8 568.2 261.3 569.6 267.8 570.7 275.3 571.5 283.8 571.9 293.8 572.0 304.8 571.7 313.8 571.2 321.3 570.2 328.8 568.9 336.3 566.6 345.8 560.3 368.8 559.2 372.3 558.0 375.8 556.9 378.8 555.5 381.8 553.4 385.8 550.8 389.8 548.1 393.3 544.6 397.0 541.1 400.1 539.1 401.6 537.1 403.0 533.1 405.4 528.6 407.6 523.1 409.9 516.6 412.1 497.6 417.9 488.1 420.6 481.1 422.2 474.6 423.3 467.6 424.2 460.1 424.8Z"/>
<path fill="#0bfff4" d="M455.6 424.3 448.6 424.5 441.6 424.5 435.6 424.4 429.6 424.1 424.1 423.6 419.1 422.9 413.6 422.0 408.1 420.9 399.6 418.9 387.6 415.7 379.6 413.4 373.6 411.5 368.6 409.5 364.1 407.4 360.1 405.2 356.1 402.6 353.1 400.2 350.5 397.8 348.1 395.3 345.6 392.3 343.4 389.3 341.2 385.8 339.4 382.3 337.8 378.8 336.0 374.3 334.1 368.8 332.2 362.3 329.4 352.3 327.5 344.8 326.1 339.3 325.0 333.8 324.1 328.3 323.3 321.8 322.7 314.8 322.4 307.3 322.3 299.3 322.5 290.8 322.9 283.3 323.6 276.3 324.5 269.8 325.8 262.8 327.7 254.8 330.8 243.8 335.0 229.8 336.8 224.3 338.8 219.3 341.0 214.8 343.3 210.8 345.7 207.3 348.1 204.3 350.6 201.6 353.6 198.9 356.6 196.5 359.6 194.5 363.1 192.4 366.6 190.7 370.1 189.2 373.6 188.0 378.1 186.5 383.6 185.0 399.1 180.9 406.1 179.1 412.6 177.7 418.6 176.7 424.6 175.9 431.1 175.4 438.1 175.2 446.6 175.1 455.6 175.3 463.6 175.7 470.1 176.3 476.6 177.2 483.1 178.4 490.1 180.2 520.1 188.9 524.6 190.4 528.6 192.0 532.6 193.9 536.1 195.9 539.1 198.0 542.1 200.4 544.7 202.8 547.0 205.3 549.4 208.3 551.4 211.3 553.1 214.3 554.9 217.8 556.7 222.3 558.4 227.3 565.6 253.3 566.9 258.3 568.0 262.8 568.9 267.3 569.5 271.3 570.3 277.8 570.9 284.8 571.2 293.3 571.3 302.8 571.2 310.8 570.8 317.8 570.2 324.3 569.4 330.3 568.2 336.3 566.6 343.3 560.7 365.8 558.7 372.8 556.8 378.3 554.8 382.8 552.6 386.8 549.9 390.8 547.4 393.8 544.6 396.7 541.6 399.4 538.1 402.1 534.6 404.3 531.1 406.2 527.1 408.0 522.6 409.7 515.6 412.0 496.6 417.6 489.6 419.5 483.6 421.0 477.1 422.2 470.6 423.2 463.6 423.8 455.6 424.3Z"/>
<path fill="#1bffe4" d="M445.1 423.8 437.6 423.7 430.6 423.4 424.1 422.9 417.6 422.0 411.6 421.0 405.6 419.7 398.6 418.0 386.6 414.9 379.6 412.9 374.6 411.4 370.1 409.8 366.1 408.1 362.1 406.1 358.6 404.0 355.1 401.5 352.1 399.0 349.6 396.6 347.1 393.8 344.7 390.8 342.7 387.8 341.0 384.8 339.2 381.3 337.5 377.3 336.0 373.3 334.2 367.3 331.8 358.8 328.5 346.3 326.6 338.3 325.4 332.3 324.5 326.8 323.9 321.3 323.4 315.3 323.2 308.3 323.1 300.8 323.2 292.8 323.5 285.8 323.9 279.8 324.6 273.8 325.4 268.3 326.5 262.8 328.0 256.3 330.3 247.8 334.8 231.8 337.2 224.3 339.2 219.3 341.3 214.8 343.6 210.8 346.3 206.8 348.8 203.8 351.1 201.4 354.1 198.7 357.1 196.4 360.1 194.4 363.6 192.4 367.1 190.8 371.1 189.2 376.1 187.5 381.6 186.0 401.1 181.0 408.6 179.2 414.1 178.1 419.6 177.2 424.6 176.6 430.1 176.1 436.6 175.9 444.1 175.8 453.1 175.9 460.6 176.2 466.6 176.6 472.1 177.2 477.1 177.9 482.1 178.8 487.1 180.0 492.6 181.4 506.0 185.3 518.1 188.7 524.1 190.5 528.6 192.3 532.6 194.1 536.6 196.5 540.1 198.9 542.9 201.3 545.5 203.8 547.7 206.3 549.9 209.3 551.8 212.3 553.4 215.3 555.0 218.8 556.4 222.3 557.6 225.8 558.7 229.8 562.0 242.3 565.5 255.3 567.1 261.8 568.2 267.3 569.0 272.3 569.7 277.8 570.1 283.3 570.4 290.3 570.6 298.8 570.6 307.3 570.4 314.3 570.0 319.8 569.5 325.3 568.7 330.3 567.7 335.8 566.1 342.8 560.1 366.8 558.7 371.8 557.4 375.8 555.4 380.8 554.2 383.3 552.9 385.8 550.4 389.8 548.9 391.8 547.2 393.8 544.3 396.8 541.1 399.6 537.6 402.2 534.1 404.3 530.6 406.1 526.1 408.0 521.6 409.6 515.6 411.5 491.1 418.5 484.6 420.1 478.1 421.4 471.1 422.4 463.6 423.1 454.6 423.6 445.1 423.8Z"/>
<path fill="#2affd5" d="M456.6 422.8 445.1 423.1 434.6 422.9 430.1 422.7 425.6 422.3 421.1 421.9 417.1 421.3 411.6 420.3 406.1 419.2 389.6 415.1 377.6 411.9 373.1 410.5 369.6 409.2 366.6 408.0 364.1 406.8 361.6 405.5 359.1 404.0 356.6 402.3 354.1 400.4 352.1 398.7 350.1 396.8 348.2 394.8 346.5 392.8 344.7 390.3 343.0 387.8 341.6 385.3 340.0 382.3 338.7 379.3 337.5 376.3 335.8 371.3 334.2 365.8 330.4 351.3 328.3 342.8 327.0 337.3 326.1 332.3 325.4 327.8 324.8 322.8 324.2 316.3 323.9 309.3 323.8 301.3 323.9 292.8 324.2 285.8 324.7 279.3 325.3 273.3 326.2 267.8 327.3 261.8 329.0 254.8 334.3 235.3 336.2 228.8 337.8 223.8 339.3 219.8 340.8 216.3 342.6 212.8 345.1 208.8 347.7 205.3 350.6 202.1 354.1 198.9 357.6 196.3 361.6 193.8 365.6 191.7 370.1 189.9 374.6 188.3 379.6 186.9 405.6 180.5 410.6 179.4 415.1 178.5 419.1 177.9 423.6 177.3 429.6 176.8 436.1 176.6 443.6 176.5 452.6 176.6 460.1 176.9 466.6 177.3 472.1 177.8 477.6 178.6 483.1 179.7 489.1 181.1 505.9 185.8 520.1 189.6 524.1 190.8 527.6 192.1 530.6 193.4 533.6 194.9 537.6 197.3 541.1 199.9 544.3 202.8 547.1 205.8 549.7 209.3 551.9 212.8 553.9 216.8 555.6 220.8 556.8 224.3 557.9 228.3 561.4 242.3 565.2 256.3 566.7 262.8 567.9 268.8 568.9 276.3 569.5 284.3 569.8 294.3 569.9 306.3 569.7 314.8 569.2 321.8 568.4 328.8 567.1 335.8 565.6 342.3 558.6 370.8 557.4 374.8 556.4 377.8 555.2 380.8 554.0 383.3 551.8 387.3 550.5 389.3 549.0 391.3 546.1 394.7 543.1 397.7 539.6 400.5 536.1 402.9 532.1 405.1 527.6 407.1 522.6 408.9 517.1 410.6 493.1 417.3 484.6 419.5 478.1 420.7 471.6 421.7 464.6 422.3 456.6 422.8Z"/>
<path fill="#3affc5" d="M448.1 422.3 441.1 422.3 435.1 422.2 429.6 422.0 424.1 421.5 419.1 420.9 414.1 420.1 409.1 419.2 403.1 417.8 380.1 412.1 375.1 410.7 370.6 409.2 366.1 407.4 361.6 405.2 357.6 402.8 354.1 400.2 351.4 397.8 348.9 395.3 346.8 392.8 344.6 389.8 342.7 386.8 341.1 383.8 339.5 380.3 338.1 376.8 336.5 372.3 335.0 366.8 328.8 342.3 327.6 336.8 326.7 331.8 326.0 327.3 325.4 322.3 324.9 315.8 324.6 308.8 324.6 300.3 324.7 291.8 325.0 284.8 325.4 278.8 326.1 272.8 326.9 267.3 328.1 261.3 329.8 254.3 335.6 232.3 337.5 225.8 339.2 220.8 340.9 216.8 342.9 212.8 345.4 208.8 347.6 205.8 350.1 202.9 352.6 200.5 355.6 198.0 358.6 195.8 361.6 194.0 365.1 192.2 368.6 190.7 373.1 189.2 378.6 187.6 405.6 181.1 410.6 180.0 415.1 179.1 419.6 178.4 424.1 177.9 430.1 177.4 437.1 177.2 445.6 177.2 455.6 177.4 462.6 177.7 468.6 178.1 474.1 178.7 479.1 179.5 484.1 180.5 489.1 181.7 505.1 186.1 518.1 189.4 523.1 190.8 527.1 192.2 531.1 193.9 534.6 195.6 538.1 197.8 541.1 200.1 543.6 202.3 546.0 204.8 548.1 207.3 550.2 210.3 552.0 213.3 553.5 216.3 554.9 219.8 556.3 223.8 557.4 227.8 560.9 242.3 565.5 259.8 566.5 264.3 567.2 268.3 567.8 272.3 568.3 276.8 568.8 282.8 569.1 290.3 569.2 300.8 569.1 310.3 568.9 316.3 568.6 321.8 567.9 327.3 567.2 332.3 565.6 339.8 561.9 354.8 559.0 367.8 558.0 371.8 556.9 375.3 555.1 380.3 553.0 384.8 550.6 388.8 548.0 392.3 545.6 395.0 542.6 397.9 539.6 400.3 536.6 402.3 533.1 404.3 529.6 406.0 525.6 407.6 521.1 409.0 491.1 417.2 485.6 418.6 480.1 419.7 473.1 420.8 466.1 421.5 457.6 422.0 448.1 422.3Z"/>
<path fill="#49ffb6" d="M458.1 421.3 446.1 421.6 435.1 421.5 430.6 421.3 426.1 421.0 422.1 420.6 418.1 420.1 410.6 418.8 401.6 416.8 379.6 411.6 374.6 410.2 370.6 408.9 367.6 407.7 365.1 406.7 362.6 405.4 360.1 404.0 357.6 402.5 355.6 401.0 353.4 399.3 351.2 397.3 349.2 395.3 347.5 393.3 346.0 391.3 344.2 388.8 342.7 386.3 341.4 383.8 340.2 381.3 339.2 378.8 337.4 373.8 335.8 368.3 329.8 343.8 328.6 338.3 327.7 333.8 326.9 328.8 326.3 324.3 325.8 318.3 325.4 311.8 325.3 304.3 325.3 295.3 325.5 287.8 325.9 281.3 326.4 275.3 327.2 269.8 328.2 263.8 329.7 257.3 337.0 228.8 338.4 224.3 339.7 220.3 341.2 216.8 342.6 213.8 345.0 209.8 347.4 206.3 350.0 203.3 353.1 200.3 356.6 197.4 360.1 195.1 364.1 193.0 368.1 191.2 372.6 189.7 377.6 188.2 405.6 181.7 410.1 180.7 414.6 179.8 418.6 179.2 422.6 178.7 428.1 178.2 434.1 177.9 441.1 177.8 450.6 177.9 458.6 178.1 465.1 178.5 470.6 178.9 476.1 179.6 481.6 180.6 487.1 181.8 492.1 183.0 505.6 186.8 520.6 190.4 524.1 191.4 527.1 192.5 530.1 193.6 533.1 195.0 536.6 197.0 540.1 199.4 543.1 202.0 545.9 204.8 548.3 207.8 550.6 211.3 552.5 214.8 554.3 218.8 555.9 223.3 557.2 228.3 560.5 242.8 565.0 260.3 566.0 264.8 566.7 268.8 567.6 275.8 568.1 283.3 568.4 292.8 568.5 306.3 568.3 314.8 567.9 321.8 567.2 328.3 566.1 334.8 564.8 340.8 561.3 355.3 558.8 366.8 557.7 371.3 556.8 374.8 555.8 377.8 554.8 380.3 553.5 383.3 551.3 387.3 549.0 390.8 546.5 393.8 543.5 396.8 540.1 399.7 536.6 402.1 533.1 404.1 528.6 406.1 524.6 407.6 519.6 409.1 505.6 412.7 491.6 416.5 484.6 418.2 478.1 419.4 472.1 420.3 465.6 420.9 458.1 421.3Z"/>
<path fill="#59ffa6" d="M450.1 420.8 439.1 420.9 430.6 420.6 423.1 420.1 415.6 419.1 410.6 418.2 405.6 417.1 380.1 411.2 373.6 409.5 370.6 408.5 367.6 407.4 365.1 406.3 362.6 405.1 360.1 403.8 358.1 402.5 356.1 401.1 353.7 399.3 352.0 397.8 350.0 395.8 348.2 393.8 346.6 391.8 345.2 389.8 343.6 387.3 342.2 384.8 341.0 382.3 339.9 379.8 338.8 376.8 337.5 372.8 336.2 367.8 329.8 340.8 328.7 335.8 327.9 331.3 327.3 327.3 326.8 322.8 326.4 316.8 326.1 309.8 326.0 300.8 326.2 291.3 326.4 284.8 326.8 278.8 327.3 273.3 328.1 267.8 329.2 262.3 330.4 256.8 337.8 227.3 339.2 222.8 340.4 219.3 341.9 215.8 343.4 212.8 345.9 208.8 348.5 205.3 351.1 202.4 354.1 199.6 357.6 197.0 361.1 194.8 365.1 192.8 369.6 191.0 373.6 189.7 378.1 188.5 392.7 185.3 408.1 181.7 416.1 180.2 423.6 179.2 429.1 178.8 435.6 178.6 443.6 178.5 454.6 178.7 461.6 178.9 467.6 179.3 472.6 179.8 477.6 180.4 482.1 181.2 487.1 182.4 505.1 187.1 521.6 191.0 525.1 192.0 528.1 193.1 530.6 194.1 533.6 195.5 537.1 197.5 540.6 200.0 543.8 202.8 546.6 205.8 548.8 208.8 551.0 212.3 553.0 216.3 554.6 220.3 555.6 223.3 556.5 226.8 560.1 243.3 564.3 259.8 565.5 265.3 566.3 270.3 567.1 277.3 567.5 284.8 567.8 295.8 567.8 309.8 567.6 316.8 567.2 323.3 566.4 329.3 565.3 335.8 564.2 340.8 561.0 354.3 558.2 367.8 557.0 372.8 556.0 376.3 555.0 379.3 553.7 382.3 552.5 384.8 551.4 386.8 550.2 388.8 547.6 392.3 544.9 395.3 541.6 398.3 538.1 400.9 534.6 403.0 530.6 405.0 526.6 406.6 523.1 407.7 518.6 408.9 505.6 412.1 489.6 416.4 485.1 417.4 481.1 418.2 474.6 419.3 467.6 420.0 459.6 420.5 450.1 420.8Z"/>
<path fill="#68ff97" d="M459.6 419.8 446.6 420.1 435.1 420.1 426.6 419.7 419.1 418.9 412.6 417.9 405.1 416.4 379.1 410.5 374.6 409.4 370.6 408.2 367.6 407.1 365.1 406.0 362.6 404.8 360.6 403.8 358.1 402.2 356.1 400.9 354.1 399.3 352.1 397.6 350.3 395.8 348.5 393.8 346.9 391.8 345.5 389.8 344.2 387.8 342.8 385.3 341.5 382.8 340.5 380.3 338.8 375.8 337.2 370.3 331.0 343.3 329.8 337.8 328.9 333.3 328.2 328.8 327.7 324.8 327.2 319.3 326.9 312.8 326.8 305.3 326.8 296.3 327.0 288.3 327.3 281.8 327.7 276.3 328.3 270.8 329.2 265.3 330.5 259.3 334.6 242.6 338.0 228.3 339.1 224.3 340.2 220.8 341.6 217.3 342.9 214.3 344.8 210.8 347.2 207.3 349.6 204.2 352.5 201.3 355.6 198.7 359.1 196.2 362.6 194.2 366.6 192.4 369.1 191.4 372.1 190.5 375.1 189.6 378.6 188.8 392.9 185.8 410.6 181.8 416.6 180.7 422.1 180.0 427.1 179.5 432.6 179.3 438.6 179.2 447.1 179.3 457.1 179.4 464.1 179.7 469.6 180.1 475.1 180.7 480.1 181.5 485.6 182.6 490.6 183.8 505.1 187.7 521.1 191.2 524.1 192.0 527.1 193.0 529.6 193.9 532.1 195.0 535.6 196.8 539.1 199.1 542.1 201.4 545.1 204.3 547.6 207.3 549.7 210.3 551.6 213.8 553.2 217.3 554.8 221.8 556.2 226.8 559.6 243.3 564.1 261.8 565.0 265.8 565.5 269.3 566.3 275.8 566.8 283.3 567.0 291.8 567.1 307.3 567.0 315.3 566.7 321.8 566.0 327.8 565.1 333.8 563.8 339.8 560.4 354.3 557.8 367.8 556.8 372.3 556.0 375.3 555.0 378.3 554.1 380.8 553.0 383.3 551.2 386.8 548.9 390.3 546.5 393.3 543.6 396.3 540.6 398.9 537.1 401.3 533.1 403.6 529.1 405.3 525.1 406.7 520.6 408.0 506.1 411.4 490.6 415.5 484.1 417.0 478.6 418.0 472.6 418.9 466.6 419.4 459.6 419.8Z"/>
<path fill="#78ff87" d="M452.6 419.3 440.1 419.4 431.6 419.3 424.1 418.8 417.1 418.0 412.6 417.3 408.1 416.4 392.6 412.9 379.1 410.1 373.6 408.7 368.6 407.1 366.1 406.1 363.6 405.0 361.1 403.8 359.1 402.6 357.1 401.3 355.1 399.8 353.1 398.2 351.1 396.3 349.6 394.7 347.9 392.8 346.4 390.8 345.1 388.8 343.9 386.8 342.5 384.3 341.4 381.8 340.4 379.3 338.9 374.8 337.5 369.8 334.1 354.1 331.1 340.8 329.4 332.3 328.8 328.3 328.3 324.3 327.8 318.3 327.6 311.8 327.5 303.3 327.6 292.8 327.8 285.8 328.1 279.8 328.6 274.3 329.2 269.3 330.1 264.3 331.1 259.3 335.1 242.8 338.8 226.8 339.7 223.3 340.9 219.8 342.1 216.8 343.4 213.8 345.7 209.8 348.1 206.3 350.7 203.3 353.6 200.5 357.1 197.8 360.6 195.5 364.1 193.7 368.1 192.1 372.1 190.8 376.6 189.6 393.1 186.3 409.1 182.7 416.1 181.4 422.6 180.5 428.1 180.1 434.1 179.9 441.1 179.9 453.1 180.0 460.6 180.2 466.1 180.4 471.1 180.8 476.1 181.4 480.6 182.1 485.1 183.1 490.1 184.3 504.6 188.1 509.6 189.2 518.6 191.0 522.1 191.8 525.1 192.6 527.6 193.4 530.1 194.3 532.6 195.4 536.1 197.3 539.6 199.6 542.6 202.1 545.3 204.8 547.8 207.8 549.8 210.8 551.7 214.3 553.4 218.3 554.7 222.3 555.7 226.3 558.8 242.3 560.0 247.3 563.4 261.3 564.4 265.8 565.1 270.3 565.8 276.8 566.2 283.8 566.4 291.8 566.4 310.3 566.3 316.8 565.9 322.8 565.3 328.3 564.4 334.3 563.3 339.3 559.9 354.3 557.3 368.3 556.3 372.8 555.5 375.8 554.6 378.8 553.4 381.8 552.3 384.3 550.4 387.8 548.0 391.3 545.1 394.6 542.1 397.4 539.1 399.8 535.6 402.0 531.6 404.0 527.6 405.6 524.1 406.7 520.6 407.6 506.1 410.9 489.1 415.2 481.1 417.0 475.1 417.9 468.6 418.6 461.6 419.0 452.6 419.3Z"/>
<path fill="#87ff78" d="M462.1 418.3 449.1 418.6 436.1 418.7 428.1 418.5 420.6 417.8 414.6 417.0 408.6 415.9 393.1 412.5 378.6 409.5 374.6 408.6 371.6 407.8 366.6 406.0 364.1 405.0 361.6 403.7 359.6 402.6 357.6 401.4 355.6 399.9 353.6 398.3 351.9 396.8 350.1 395.0 348.6 393.3 347.1 391.3 345.7 389.3 344.2 386.8 342.8 384.3 341.9 382.3 340.7 379.3 339.7 376.3 338.8 373.3 337.8 369.3 334.8 354.8 331.0 337.3 329.9 331.3 329.1 325.8 328.6 320.3 328.4 314.8 328.2 308.3 328.2 299.8 328.3 290.3 328.5 283.8 328.9 277.8 329.5 272.3 330.3 266.8 331.4 260.8 335.6 243.1 338.9 227.8 339.8 224.3 340.9 220.8 341.9 217.8 343.0 215.3 344.7 211.8 346.9 208.3 349.2 205.3 351.9 202.3 355.1 199.5 358.1 197.3 361.6 195.2 365.1 193.5 367.6 192.5 370.6 191.5 373.6 190.7 376.6 190.0 393.3 186.8 411.6 182.8 416.6 181.9 421.6 181.2 425.6 180.9 430.1 180.6 435.1 180.5 441.1 180.5 462.6 180.9 468.6 181.2 474.1 181.8 479.1 182.5 484.1 183.4 489.1 184.6 499.6 187.4 504.6 188.6 521.6 192.0 524.6 192.7 527.1 193.5 531.6 195.2 535.1 196.9 538.6 199.1 541.6 201.4 544.1 203.7 546.4 206.3 548.7 209.3 550.5 212.3 552.2 215.8 553.8 220.3 555.2 225.3 556.0 229.3 557.5 238.3 558.4 242.8 559.5 247.8 562.7 260.8 563.7 265.3 564.4 269.3 565.1 275.3 565.5 282.3 565.6 288.8 565.8 308.3 565.7 315.3 565.4 321.3 564.9 327.3 564.0 332.8 562.8 338.8 559.4 353.8 558.5 358.8 556.9 368.3 556.0 372.8 555.2 375.8 554.5 378.3 552.8 382.8 551.0 386.3 548.8 389.8 546.5 392.8 543.6 395.8 540.6 398.4 537.1 400.9 533.6 402.8 529.6 404.6 525.6 405.9 521.6 407.0 505.1 410.6 489.6 414.5 483.6 415.8 478.6 416.7 473.6 417.4 468.1 418.0 462.1 418.3Z"/>
<path fill="#97ff68" d="M455.1 417.8 441.1 418.0 433.1 418.0 425.6 417.6 419.1 417.0 414.6 416.3 410.1 415.5 393.1 411.9 378.6 409.1 374.1 408.1 370.1 407.0 367.6 406.1 365.1 405.1 362.6 404.0 360.6 402.9 358.6 401.7 356.6 400.4 354.6 398.9 352.7 397.3 351.1 395.7 349.3 393.8 347.7 391.8 346.3 389.8 345.0 387.8 343.9 385.8 342.9 383.8 341.8 381.3 340.9 378.8 339.9 375.8 339.1 372.8 338.3 369.3 335.3 354.3 331.4 336.3 330.5 330.8 329.8 325.3 329.3 319.8 329.0 313.8 328.9 306.8 329.0 295.3 329.1 287.8 329.3 281.8 329.7 276.3 330.2 271.3 331.0 266.3 331.9 261.3 336.1 243.3 339.5 226.8 340.4 223.3 341.3 220.3 342.4 217.3 343.5 214.8 345.3 211.3 347.5 207.8 349.8 204.8 352.6 201.9 355.6 199.3 359.1 196.9 362.6 194.9 366.1 193.4 368.6 192.5 371.1 191.7 376.6 190.3 393.5 187.3 407.6 184.2 412.6 183.2 417.6 182.3 422.1 181.8 426.1 181.5 430.6 181.3 441.1 181.2 463.6 181.6 469.6 181.9 475.1 182.5 480.1 183.2 485.6 184.3 490.1 185.4 500.1 188.1 505.6 189.3 510.1 190.2 518.6 191.7 522.6 192.5 527.6 193.9 532.1 195.6 535.6 197.4 538.6 199.2 541.6 201.5 544.5 204.3 547.1 207.3 549.1 210.3 550.8 213.3 552.4 216.8 553.7 220.8 554.9 225.3 555.7 229.3 557.1 238.5 558.0 243.3 559.1 248.3 562.4 261.8 563.3 266.3 563.9 270.3 564.5 276.3 564.9 282.8 565.1 311.8 565.0 317.8 564.7 323.3 564.1 328.3 563.3 333.8 562.2 338.8 559.9 348.8 558.9 353.8 558.0 358.8 556.4 368.8 555.6 373.3 554.8 376.3 553.9 379.3 553.0 381.8 551.9 384.3 549.9 387.8 547.5 391.3 544.9 394.3 542.1 397.0 539.1 399.3 535.6 401.5 532.1 403.3 528.1 404.8 525.1 405.8 521.6 406.7 505.1 410.0 488.1 414.2 480.6 415.8 475.1 416.6 469.1 417.2 463.1 417.6 455.1 417.8Z"/>
<path fill="#a6ff59" d="M440.1 417.3 432.6 417.3 426.6 417.0 421.1 416.6 415.6 415.9 408.6 414.6 392.6 411.2 377.1 408.4 372.6 407.3 368.6 406.1 364.6 404.6 360.6 402.6 357.1 400.5 353.6 397.8 350.6 394.9 348.0 391.8 345.6 388.3 343.4 384.3 342.3 381.8 341.2 378.8 340.3 375.8 339.4 372.3 338.4 367.8 335.8 353.8 332.9 340.3 331.8 334.8 330.8 328.3 330.1 322.3 329.8 315.8 329.7 308.3 329.8 291.3 330.0 282.8 330.4 275.3 331.2 268.8 331.9 264.8 332.8 260.3 336.9 242.3 340.0 226.3 341.5 220.8 343.1 216.3 344.7 212.8 346.7 209.3 349.1 206.0 351.6 203.1 354.6 200.4 357.6 198.1 361.1 196.0 364.6 194.3 367.1 193.3 369.6 192.4 372.6 191.6 375.6 190.9 379.6 190.1 388.6 188.7 393.6 187.8 412.6 183.7 416.6 183.1 420.6 182.5 424.1 182.2 428.1 182.0 437.1 181.8 463.6 182.2 469.6 182.5 474.6 183.0 479.6 183.7 485.1 184.8 489.6 185.9 500.1 188.6 505.3 189.8 509.6 190.6 518.6 192.0 522.6 192.8 527.1 194.0 531.6 195.6 535.1 197.3 538.1 199.1 541.1 201.3 543.9 203.8 546.1 206.3 548.3 209.3 550.1 212.3 551.8 215.8 553.3 220.3 554.5 224.8 555.2 228.8 556.6 238.3 557.5 243.3 558.5 248.3 561.0 258.3 562.0 262.8 562.9 267.8 563.6 272.3 564.0 277.3 564.2 282.8 564.4 310.8 564.3 318.8 563.9 325.3 563.3 329.8 562.5 334.8 561.5 339.3 559.2 349.3 558.1 354.8 557.4 359.3 556.2 368.3 555.5 372.3 554.2 377.3 553.5 379.8 552.5 382.3 551.6 384.3 550.6 386.3 548.4 389.8 546.9 391.8 545.6 393.3 544.1 394.9 542.6 396.3 541.1 397.6 539.1 399.1 535.6 401.3 531.6 403.2 527.1 404.9 524.1 405.7 520.6 406.5 508.6 408.7 503.6 409.8 485.6 414.2 481.1 415.1 477.1 415.7 471.1 416.4 464.1 416.8 456.6 417.1 440.1 417.3Z"/>
<path fill="#b5ff4a" d="M459.1 416.3 440.1 416.6 433.6 416.6 426.6 416.4 420.6 415.9 416.1 415.3 411.1 414.4 393.6 410.8 377.1 408.0 373.6 407.2 370.6 406.4 366.1 404.9 363.6 403.9 361.6 402.9 359.6 401.8 357.6 400.6 355.6 399.1 353.9 397.8 352.3 396.3 350.6 394.6 349.0 392.8 347.5 390.8 346.2 388.8 345.0 386.8 343.0 382.8 342.0 380.3 341.0 377.3 340.2 374.3 339.4 370.8 336.4 353.8 332.5 335.3 331.7 330.3 331.1 325.8 330.7 321.3 330.5 316.8 330.4 305.8 330.6 283.8 330.9 277.8 331.4 272.3 332.0 267.8 332.9 262.8 333.8 258.3 337.2 243.8 340.4 226.3 341.1 223.3 341.9 220.3 342.8 217.8 343.8 215.3 345.5 211.8 347.3 208.8 349.5 205.8 352.1 202.9 355.1 200.2 358.1 198.0 361.1 196.2 364.6 194.5 367.1 193.5 369.6 192.7 372.6 191.9 375.6 191.2 379.6 190.5 392.6 188.6 397.6 187.6 412.1 184.4 417.1 183.6 421.6 183.0 428.6 182.6 436.6 182.5 464.1 182.9 469.1 183.1 474.1 183.5 479.1 184.2 484.6 185.3 489.1 186.3 499.6 189.1 505.1 190.3 509.6 191.1 519.1 192.5 522.6 193.1 527.1 194.2 529.6 195.0 531.6 195.8 535.1 197.4 538.1 199.2 541.1 201.5 543.6 203.7 545.9 206.3 548.1 209.3 549.9 212.3 551.3 215.3 552.3 217.8 553.0 219.8 553.6 222.3 554.2 224.8 554.9 228.8 556.2 238.8 557.0 243.8 558.1 248.8 561.3 262.3 562.2 266.8 562.8 270.8 563.3 276.3 563.6 281.8 563.6 299.3 563.8 312.8 563.7 318.3 563.5 323.3 563.0 327.8 562.3 332.3 561.4 337.3 558.9 348.3 557.9 353.3 557.0 358.8 555.7 368.8 554.8 373.8 554.2 376.3 553.4 379.3 552.5 381.8 551.6 383.8 549.8 387.3 547.9 390.3 545.4 393.3 542.6 396.1 539.6 398.5 536.6 400.5 533.1 402.3 529.1 403.9 525.6 405.0 522.1 405.9 504.6 409.0 499.6 410.1 487.6 413.1 481.1 414.4 476.1 415.2 471.1 415.7 465.6 416.1 459.1 416.3Z"/>
<path fill="#c5ff3a" d="M444.6 415.8 435.6 415.9 429.1 415.8 423.1 415.5 417.6 414.9 410.1 413.6 398.1 411.1 393.1 410.1 376.6 407.5 372.6 406.6 369.1 405.7 365.1 404.2 361.1 402.4 357.6 400.3 354.6 398.1 351.6 395.3 348.9 392.3 346.4 388.8 344.5 385.3 343.3 382.8 342.2 379.8 341.2 376.8 340.3 373.3 339.4 368.3 337.8 358.3 336.9 353.3 333.0 334.8 332.2 329.3 331.6 323.8 331.2 318.3 331.1 311.8 331.3 283.3 331.7 276.3 332.3 270.3 333.0 265.8 333.8 261.3 336.9 247.8 337.9 242.8 340.1 229.8 340.9 225.8 342.1 220.8 343.6 216.3 345.2 212.8 347.2 209.3 349.3 206.3 351.9 203.3 354.6 200.8 357.6 198.5 361.1 196.4 364.6 194.7 367.1 193.8 369.6 193.0 372.1 192.3 375.1 191.7 379.1 191.0 388.6 189.7 393.1 189.0 398.1 188.0 411.6 185.1 416.1 184.3 420.6 183.7 427.6 183.2 435.1 183.1 448.6 183.4 464.6 183.5 469.6 183.8 474.6 184.2 479.6 184.9 484.6 185.8 489.1 186.9 499.1 189.5 504.6 190.7 509.6 191.5 519.1 192.8 523.1 193.5 527.6 194.6 531.6 196.0 535.1 197.6 538.1 199.4 541.1 201.6 543.6 203.9 545.8 206.3 548.0 209.3 549.7 212.3 551.4 215.8 552.7 219.8 553.8 224.3 554.5 228.3 555.7 238.8 556.5 243.8 557.6 249.2 560.9 262.8 561.7 267.3 562.3 271.8 562.8 277.3 563.0 283.8 562.9 298.3 563.1 315.8 563.0 320.8 562.7 325.3 562.1 329.8 561.3 334.8 558.2 348.8 557.2 353.8 556.5 358.8 555.3 368.8 554.7 372.8 553.6 377.8 552.8 380.3 552.0 382.3 551.2 384.3 550.2 386.3 548.0 389.8 545.6 392.9 544.3 394.3 542.7 395.8 539.6 398.3 536.1 400.6 534.1 401.6 532.1 402.5 528.1 404.0 524.6 405.0 521.1 405.7 508.6 407.7 503.6 408.6 499.1 409.6 486.1 412.8 481.6 413.7 477.6 414.4 472.1 415.0 466.1 415.4 460.1 415.6 444.6 415.8Z"/>
<path fill="#d4ff2b" d="M464.1 414.8 433.6 415.2 427.1 415.1 421.6 414.7 417.6 414.3 413.1 413.6 394.6 409.8 389.6 409.0 378.1 407.4 374.6 406.7 371.6 406.0 369.1 405.3 366.6 404.5 362.6 402.9 360.6 401.8 358.6 400.7 355.1 398.2 353.4 396.8 351.9 395.3 350.4 393.8 348.8 391.8 346.4 388.3 345.3 386.3 344.3 384.3 343.2 381.8 342.2 378.8 341.3 375.8 340.5 372.3 339.7 367.8 337.8 354.8 336.7 349.3 333.9 335.8 333.0 330.8 332.5 326.3 331.9 319.3 331.8 310.8 332.0 283.8 332.2 278.3 332.6 273.3 333.2 268.3 334.1 262.8 337.5 247.8 338.5 242.8 339.3 238.3 340.5 229.8 341.2 225.8 342.4 220.8 343.9 216.3 345.4 212.8 347.1 209.8 349.1 206.8 351.6 203.9 354.1 201.5 357.1 199.1 360.1 197.2 363.1 195.6 365.6 194.6 368.1 193.7 371.1 192.9 374.1 192.2 378.6 191.4 388.6 190.2 393.6 189.5 398.6 188.5 412.1 185.6 416.6 184.8 421.1 184.3 427.1 183.8 433.6 183.7 449.1 184.1 465.1 184.2 469.6 184.4 473.6 184.7 479.1 185.4 484.1 186.3 488.6 187.3 499.1 190.1 504.6 191.2 509.6 192.0 519.1 193.1 523.1 193.8 527.1 194.7 531.1 196.0 534.1 197.3 537.1 198.9 540.1 201.0 542.6 203.1 544.7 205.3 546.8 207.8 548.7 210.8 550.3 213.8 551.3 216.3 552.0 218.3 552.8 220.8 553.3 223.3 554.2 228.3 555.2 238.8 556.0 244.3 557.2 249.8 560.0 261.3 561.0 266.3 561.6 270.3 562.0 274.3 562.2 278.3 562.3 282.8 562.2 298.8 562.5 316.8 562.3 321.8 561.9 326.8 561.4 330.8 560.7 334.8 557.7 348.3 556.7 353.3 556.0 358.8 554.9 369.3 554.3 373.3 553.7 376.3 553.0 378.8 552.2 381.3 551.4 383.3 549.7 386.8 547.8 389.8 545.4 392.8 543.1 395.2 540.1 397.7 537.1 399.8 533.6 401.6 530.1 403.0 526.1 404.3 522.1 405.2 518.1 405.8 508.1 407.2 502.6 408.2 498.1 409.3 487.6 411.9 481.1 413.2 477.1 413.8 473.1 414.3 468.6 414.6 464.1 414.8Z"/>
<path fill="#e4ff1b" d="M446.6 414.3 436.1 414.5 430.1 414.5 424.1 414.3 418.6 413.8 415.1 413.3 411.1 412.6 398.6 410.0 393.6 409.0 388.7 408.3 379.1 407.1 375.6 406.5 371.6 405.7 368.1 404.7 366.1 404.0 363.6 403.0 361.6 402.1 359.6 401.0 356.1 398.7 354.3 397.3 352.7 395.8 349.9 392.8 348.7 391.3 347.3 389.3 346.1 387.3 345.0 385.3 343.3 381.3 341.9 376.8 340.8 371.8 340.1 367.8 338.4 354.8 337.3 349.3 334.3 334.8 333.5 329.8 333.0 324.8 332.6 319.8 332.5 314.3 332.6 298.3 332.6 285.3 332.9 277.8 333.5 270.8 334.0 266.8 334.8 262.3 337.9 248.8 338.9 243.8 339.7 238.8 341.1 228.8 341.8 224.8 343.0 219.8 343.8 217.3 344.8 214.8 346.5 211.3 348.3 208.3 350.6 205.3 353.1 202.6 356.1 200.1 359.1 198.0 362.6 196.1 366.1 194.6 370.1 193.4 374.6 192.4 378.6 191.8 388.6 190.7 393.6 190.0 398.6 189.1 408.6 186.9 413.1 186.0 418.1 185.2 422.6 184.7 427.1 184.4 431.6 184.4 449.1 184.8 464.6 184.8 470.6 185.0 475.6 185.5 480.1 186.1 484.6 187.0 488.6 187.9 498.6 190.5 504.1 191.7 509.1 192.4 519.6 193.5 523.6 194.1 528.1 195.2 532.1 196.6 535.1 198.0 538.1 199.7 541.1 202.0 543.6 204.3 545.8 206.8 548.0 209.8 549.6 212.8 551.1 216.3 551.8 218.3 552.5 220.8 553.4 225.3 553.9 229.3 554.9 239.8 555.7 245.3 556.6 249.8 558.9 259.3 559.8 263.3 560.6 267.8 561.2 271.8 561.5 276.3 561.7 280.8 561.5 298.8 561.9 317.3 561.6 323.8 561.0 329.8 559.9 335.8 557.2 347.8 556.2 353.3 555.5 358.8 554.6 369.3 553.9 373.8 553.2 377.3 552.3 380.3 551.2 383.3 549.8 386.3 547.9 389.3 545.7 392.3 543.3 394.8 540.6 397.1 537.6 399.2 534.6 400.9 531.1 402.4 527.1 403.7 524.1 404.4 520.6 405.1 509.1 406.6 503.6 407.4 498.6 408.5 485.6 411.7 481.1 412.6 477.1 413.2 472.1 413.7 466.6 414.1 446.6 414.3Z"/>
<path fill="#f3ff0c" d="M438.1 413.8 432.1 413.9 427.1 413.8 422.1 413.5 417.6 413.0 411.1 412.0 399.1 409.4 394.1 408.5 389.0 407.8 379.1 406.7 375.1 406.1 371.6 405.4 368.1 404.4 364.1 403.0 360.6 401.3 357.1 399.2 354.1 396.8 351.5 394.3 348.9 391.3 346.9 388.3 345.0 384.8 344.0 382.3 343.1 379.8 342.2 376.8 341.5 373.8 340.7 368.8 339.4 358.3 338.7 353.3 337.9 348.8 335.6 338.3 334.7 333.3 334.0 328.3 333.5 323.8 333.3 319.3 333.2 313.8 333.4 299.3 333.4 281.3 333.6 275.8 334.2 270.3 334.7 266.3 335.5 262.3 338.4 249.3 339.5 243.8 340.2 238.8 341.4 228.8 342.2 224.3 342.7 221.8 343.4 219.3 344.2 216.8 345.2 214.3 346.7 211.3 348.5 208.3 350.8 205.3 353.2 202.8 356.1 200.3 359.1 198.2 362.1 196.6 365.6 195.1 367.6 194.4 370.1 193.7 374.6 192.7 378.6 192.2 388.6 191.2 393.6 190.6 399.1 189.6 413.1 186.6 417.6 185.8 421.6 185.4 427.1 185.0 432.6 185.0 449.1 185.5 466.6 185.4 471.1 185.6 475.1 186.0 479.6 186.6 484.1 187.4 488.6 188.5 498.1 191.0 503.6 192.1 509.1 192.9 519.6 193.8 524.1 194.5 528.6 195.6 531.1 196.4 533.1 197.2 536.1 198.7 539.1 200.6 541.6 202.6 543.9 204.8 546.1 207.3 548.1 210.3 549.7 213.3 550.9 216.3 551.8 218.8 552.3 220.8 553.1 225.3 553.6 229.3 554.4 239.8 555.1 245.3 556.1 250.3 558.4 259.3 559.4 263.8 560.2 268.3 560.7 272.8 560.9 276.3 561.1 280.3 560.8 298.8 561.3 316.3 561.2 320.8 560.9 325.3 560.5 329.3 559.7 333.8 558.8 338.3 556.6 347.8 555.6 353.3 555.0 358.8 554.2 369.3 553.6 373.8 553.0 376.8 552.4 379.3 551.6 381.8 550.8 383.8 549.0 387.3 547.0 390.3 544.6 393.3 543.1 394.8 541.6 396.1 538.6 398.4 536.6 399.6 535.1 400.4 533.1 401.4 531.1 402.2 527.1 403.4 524.1 404.1 520.6 404.7 509.1 406.0 503.6 406.9 498.6 407.9 488.6 410.4 484.6 411.3 480.1 412.2 475.6 412.8 471.1 413.2 466.1 413.4 449.1 413.5 438.1 413.8Z"/>
<path fill="#fffb00" d="M463.6 412.8 449.1 412.8 431.6 413.2 426.6 413.1 422.1 412.9 417.6 412.4 413.1 411.7 399.1 408.8 394.1 407.9 389.1 407.3 377.6 406.1 374.1 405.5 371.1 404.9 366.6 403.6 362.6 402.1 359.1 400.2 357.1 398.9 355.6 397.8 352.6 395.2 351.1 393.6 349.6 391.8 348.5 390.3 347.2 388.3 345.3 384.8 344.3 382.3 343.4 379.8 342.5 376.8 341.9 373.8 341.1 368.8 340.0 358.8 339.4 353.8 338.4 348.3 335.6 334.8 334.8 330.3 334.4 326.3 334.0 320.8 333.9 314.3 334.1 298.8 334.0 281.8 334.2 277.3 334.5 272.8 335.0 268.3 335.9 263.3 339.0 249.3 340.1 243.8 340.8 238.8 341.8 228.8 342.4 224.8 343.4 220.3 344.7 216.3 345.9 213.3 347.5 210.3 349.4 207.3 351.6 204.7 353.9 202.3 356.6 200.1 359.6 198.1 362.6 196.6 365.1 195.5 367.6 194.6 370.6 193.8 373.6 193.2 378.1 192.6 388.6 191.7 394.1 191.0 399.6 190.0 413.1 187.1 417.6 186.4 421.6 186.0 426.1 185.7 431.1 185.6 449.1 186.1 467.1 186.1 470.6 186.2 474.1 186.4 478.6 187.0 483.6 187.9 488.1 188.9 498.1 191.5 503.1 192.6 508.6 193.3 518.1 194.0 522.1 194.5 526.6 195.3 529.1 196.0 531.1 196.6 534.1 197.8 537.1 199.4 539.6 201.1 542.1 203.2 544.2 205.3 546.3 207.8 547.9 210.3 549.5 213.3 550.6 215.8 551.4 218.3 552.0 220.8 552.6 223.8 553.2 228.3 553.8 238.8 554.3 243.8 555.3 249.3 558.1 260.8 559.4 266.8 559.9 270.3 560.2 273.3 560.4 276.8 560.5 280.3 560.1 298.8 560.2 303.8 560.6 313.8 560.6 318.3 560.5 322.3 560.3 326.3 559.8 330.3 559.1 334.3 556.1 347.3 555.1 352.8 554.5 358.3 553.8 369.8 553.3 374.3 552.8 376.8 552.1 379.3 551.3 381.8 550.5 383.8 549.1 386.8 547.2 389.8 545.1 392.5 542.6 395.0 539.6 397.5 536.6 399.4 533.6 400.9 530.1 402.3 526.1 403.4 522.1 404.2 518.1 404.7 508.6 405.6 502.6 406.5 497.6 407.5 486.1 410.4 479.6 411.6 476.1 412.1 472.1 412.5 468.1 412.7 463.6 412.8Z"/>
<path fill="#ffec00" d="M440.6 412.3 433.6 412.5 428.6 412.6 423.6 412.4 419.1 412.0 415.6 411.5 412.1 410.9 400.1 408.4 395.1 407.5 389.6 406.8 376.6 405.6 372.6 404.9 368.6 404.0 364.6 402.6 361.1 401.1 358.1 399.3 355.1 397.1 352.5 394.8 349.8 391.8 347.7 388.8 345.8 385.3 344.5 382.3 343.5 379.3 342.7 376.3 342.1 372.8 341.5 368.8 340.5 358.3 339.9 353.3 338.9 347.8 336.4 335.8 335.4 329.8 334.8 323.3 334.6 319.8 334.5 315.8 334.9 298.8 334.7 280.8 334.9 275.8 335.3 271.3 335.8 267.3 336.6 262.8 339.5 249.8 340.6 244.3 341.3 238.8 342.3 228.3 342.9 223.8 343.5 221.3 344.1 218.8 344.9 216.3 345.7 214.3 347.1 211.3 349.0 208.3 351.3 205.3 353.6 202.8 356.1 200.7 359.1 198.6 362.1 197.0 365.6 195.5 369.6 194.3 373.6 193.5 378.1 192.9 388.6 192.2 394.1 191.6 399.6 190.6 413.1 187.7 417.6 187.0 421.6 186.5 426.1 186.3 430.6 186.2 449.1 186.8 467.6 186.7 471.6 186.8 475.1 187.1 479.6 187.7 484.1 188.5 488.1 189.5 497.6 192.0 502.1 193.0 505.1 193.4 508.1 193.8 518.6 194.4 523.1 194.9 526.1 195.4 528.6 196.0 531.1 196.8 533.1 197.6 536.1 199.0 538.6 200.6 541.1 202.5 543.6 204.8 545.7 207.3 547.5 209.8 549.1 212.8 550.4 215.8 551.0 217.8 551.7 220.3 552.2 222.8 552.6 225.3 552.9 229.3 553.4 239.8 554.0 245.3 555.0 250.3 557.3 259.8 558.2 263.8 559.0 268.3 559.5 272.3 559.8 276.3 559.9 280.8 559.4 294.3 559.4 299.8 560.0 317.8 560.0 321.8 559.8 325.3 559.3 329.3 558.6 333.8 557.8 337.8 555.5 347.3 554.5 352.8 554.0 358.3 553.5 369.8 553.0 374.3 552.5 376.8 551.9 379.3 551.3 381.3 550.3 383.8 548.6 387.3 546.6 390.3 544.1 393.3 541.5 395.8 538.6 398.0 537.1 398.9 535.1 400.0 531.6 401.5 527.6 402.8 524.6 403.4 521.1 404.0 517.6 404.3 509.1 405.0 503.6 405.7 498.1 406.8 488.6 409.2 484.1 410.2 479.6 411.0 475.6 411.6 471.6 411.9 467.1 412.1 450.1 412.1 440.6 412.3Z"/>
<path fill="#ffdc00" d="M435.6 411.8 430.6 411.9 426.1 411.9 422.1 411.6 418.1 411.2 411.6 410.2 400.6 407.9 395.6 407.0 389.6 406.2 380.1 405.5 376.1 405.1 371.6 404.4 367.6 403.4 364.1 402.2 360.6 400.5 357.6 398.7 354.6 396.5 352.1 394.1 349.7 391.3 347.7 388.3 345.8 384.8 344.8 382.3 343.8 379.3 343.1 376.3 342.4 372.8 341.9 368.3 341.0 357.8 340.4 352.8 339.4 347.3 336.9 335.3 335.9 329.3 335.4 322.8 335.2 316.3 335.6 298.8 335.4 279.8 335.6 275.3 335.9 270.8 336.5 266.8 337.2 262.8 340.1 249.8 341.1 244.3 341.8 238.8 342.6 228.3 343.3 223.3 344.0 220.3 344.7 217.8 345.5 215.3 346.4 213.3 347.9 210.3 349.9 207.3 351.9 204.8 354.1 202.6 356.6 200.6 359.6 198.6 362.6 197.0 365.6 195.8 367.6 195.1 370.1 194.5 372.6 194.0 375.1 193.6 379.6 193.2 389.6 192.6 395.6 191.9 400.1 191.1 409.6 189.0 413.6 188.2 418.1 187.5 422.1 187.1 426.1 186.8 430.1 186.8 448.1 187.5 453.6 187.5 466.6 187.3 471.1 187.4 475.1 187.7 479.6 188.2 484.1 189.1 488.1 190.1 497.6 192.6 503.1 193.7 505.6 194.0 508.6 194.3 520.1 194.8 522.6 195.1 525.1 195.5 527.6 196.0 530.1 196.7 532.1 197.4 534.1 198.2 536.6 199.5 539.1 201.1 541.6 203.1 543.9 205.3 545.9 207.8 547.9 210.8 549.2 213.3 550.4 216.3 551.0 218.3 551.6 220.8 552.3 225.3 552.6 229.8 552.9 239.8 553.1 242.8 553.4 245.3 554.4 250.3 556.9 260.3 557.8 264.3 558.6 268.8 559.0 272.8 559.2 276.8 559.2 280.8 558.8 293.3 558.7 298.3 558.8 303.3 559.4 317.3 559.4 321.8 559.2 325.8 558.7 329.8 558.0 333.8 557.2 337.8 554.9 347.3 554.0 352.8 553.5 358.3 553.1 369.8 552.9 372.3 552.6 374.8 552.0 377.8 551.4 380.3 550.5 382.8 549.7 384.8 548.7 386.8 547.8 388.3 545.7 391.3 543.4 393.8 540.6 396.3 537.6 398.4 534.6 400.0 531.1 401.5 527.1 402.6 524.1 403.2 520.6 403.7 508.6 404.5 503.1 405.2 497.6 406.3 488.1 408.7 484.1 409.6 479.6 410.4 475.1 411.0 471.6 411.3 467.6 411.4 449.6 411.3 435.6 411.8Z"/>
<path fill="#ffcd00" d="M467.6 410.8 450.1 410.6 444.6 410.7 431.1 411.3 426.6 411.3 422.6 411.1 418.1 410.6 413.6 410.0 409.6 409.2 400.1 407.1 394.6 406.2 389.1 405.6 377.1 404.9 374.1 404.5 371.1 404.0 367.1 403.0 363.1 401.5 359.6 399.7 356.6 397.8 353.6 395.3 352.1 393.8 350.8 392.3 348.6 389.3 347.4 387.3 346.6 385.8 345.5 383.3 344.4 380.3 343.6 377.3 343.0 374.3 342.4 369.3 341.6 358.3 341.0 352.8 340.1 347.3 337.3 334.3 336.7 330.3 336.2 326.3 335.9 321.8 335.9 317.3 336.3 299.8 336.3 294.3 336.0 281.3 336.1 277.3 336.3 273.3 336.8 268.8 337.6 263.8 338.4 259.8 340.6 250.3 341.6 245.3 342.2 239.8 342.9 229.8 343.3 225.8 344.0 221.3 344.6 218.8 345.2 216.8 346.4 213.8 347.9 210.8 349.7 207.8 351.6 205.4 353.6 203.3 356.1 201.1 358.6 199.4 361.6 197.7 364.1 196.6 366.6 195.7 369.6 194.9 372.6 194.3 377.6 193.7 389.1 193.2 394.6 192.7 400.1 191.7 409.6 189.6 413.6 188.7 417.6 188.1 421.6 187.7 426.1 187.4 430.6 187.4 444.1 188.1 449.6 188.2 454.1 188.2 466.1 187.9 470.1 187.9 473.6 188.1 478.1 188.6 483.1 189.4 487.6 190.5 497.6 193.2 502.6 194.2 505.1 194.5 508.1 194.8 518.1 195.0 522.1 195.3 526.6 196.0 530.6 197.0 533.6 198.1 536.1 199.4 538.6 200.9 541.1 202.8 543.3 204.8 545.4 207.3 547.1 209.8 548.5 212.3 549.6 214.8 550.5 217.3 551.3 220.3 551.7 222.8 552.0 225.3 552.2 227.8 552.3 238.8 552.5 241.8 552.7 244.3 553.1 246.8 553.7 249.8 556.5 260.8 557.6 266.3 558.1 269.3 558.4 272.3 558.6 275.3 558.7 278.3 558.6 282.8 558.1 293.3 557.9 298.3 558.1 303.8 558.8 317.3 558.8 321.8 558.6 325.8 558.1 329.8 557.5 333.8 556.6 337.8 554.4 346.8 553.6 351.3 553.2 354.3 553.0 357.3 552.9 368.3 552.5 373.3 552.1 376.3 551.5 378.8 550.8 381.3 549.9 383.8 548.5 386.8 546.6 389.8 544.6 392.3 542.1 394.8 539.6 396.9 536.6 398.8 533.6 400.3 530.6 401.4 526.6 402.5 522.1 403.2 518.1 403.5 508.6 404.0 503.6 404.5 498.1 405.6 486.6 408.5 481.1 409.6 478.1 410.1 474.6 410.5 471.1 410.7 467.6 410.8Z"/>
<path fill="#ffbd00" d="M438.1 410.3 432.6 410.6 428.1 410.7 423.6 410.5 419.6 410.2 416.1 409.8 412.6 409.2 400.6 406.6 395.1 405.7 389.6 405.1 380.1 404.7 376.1 404.4 372.1 403.8 368.1 403.0 364.6 401.8 361.1 400.3 358.1 398.6 355.1 396.4 352.6 394.1 350.2 391.3 348.2 388.3 346.6 385.3 345.5 382.8 344.5 379.8 343.8 376.8 343.3 373.8 342.8 369.3 342.2 358.8 341.8 353.8 340.9 348.3 338.3 336.3 337.4 330.8 336.9 327.3 336.7 324.3 336.5 317.8 337.1 300.3 337.1 294.8 336.7 280.3 336.8 275.8 337.1 271.3 337.6 267.3 338.3 263.3 341.3 250.3 342.3 244.8 342.8 239.3 343.4 227.8 343.9 223.3 344.5 220.3 345.2 217.8 346.0 215.3 346.8 213.3 348.4 210.3 350.0 207.8 351.9 205.3 354.4 202.8 357.1 200.6 359.6 199.0 362.6 197.4 365.6 196.2 367.6 195.6 370.1 195.0 372.6 194.5 375.1 194.2 379.6 193.9 389.6 193.7 392.6 193.5 395.6 193.1 400.6 192.2 409.6 190.1 413.6 189.3 417.6 188.7 421.6 188.2 426.1 188.0 430.6 188.0 444.1 188.8 449.1 188.9 454.1 188.9 467.1 188.4 471.1 188.5 475.1 188.8 479.1 189.3 483.6 190.1 487.6 191.0 497.1 193.6 502.1 194.7 504.6 195.0 507.6 195.2 518.6 195.4 521.1 195.5 523.6 195.7 526.1 196.1 529.1 196.8 531.6 197.6 534.1 198.5 537.1 200.1 539.6 201.8 542.1 203.8 544.0 205.8 546.0 208.3 547.6 210.8 548.8 213.3 550.0 216.3 550.6 218.3 551.1 220.8 551.5 222.8 551.8 225.3 551.9 229.8 551.8 239.8 552.0 242.8 552.3 245.8 553.3 250.8 555.8 260.3 556.7 264.3 557.4 268.3 557.8 272.3 558.1 276.3 558.1 280.3 557.3 293.3 557.2 298.8 557.4 304.3 558.2 317.3 558.2 321.3 558.1 325.3 557.7 329.3 557.0 333.3 556.1 337.3 553.8 346.8 553.2 349.8 552.9 352.3 552.6 355.3 552.4 358.3 552.5 369.8 552.3 372.8 552.0 375.3 551.5 377.8 550.9 380.3 550.3 382.3 549.3 384.8 547.7 387.8 545.7 390.8 543.5 393.3 542.1 394.6 540.6 395.9 537.6 398.0 534.6 399.6 531.1 401.0 527.6 402.0 524.6 402.6 521.1 403.0 517.6 403.2 508.6 403.5 505.6 403.7 503.1 404.0 497.6 405.1 487.6 407.6 483.6 408.5 479.1 409.3 475.1 409.8 471.1 410.1 467.1 410.2 454.1 409.9 449.1 409.9 444.6 410.0 438.1 410.3Z"/>
<path fill="#ffae00" d="M434.6 409.8 430.1 410.0 426.6 410.0 422.6 409.9 419.1 409.6 416.1 409.2 412.6 408.6 400.6 406.0 395.6 405.1 392.6 404.8 389.6 404.6 379.6 404.3 375.6 404.0 371.1 403.4 367.1 402.4 363.6 401.2 360.6 399.8 357.6 398.0 354.7 395.8 352.2 393.3 350.1 390.8 348.1 387.8 346.6 384.8 345.8 382.8 345.0 380.3 344.3 377.8 343.7 374.8 343.2 369.8 342.8 358.3 342.3 352.8 341.4 347.3 338.5 333.8 337.8 329.8 337.5 326.3 337.2 321.8 337.1 317.3 337.7 303.3 337.8 297.8 337.3 279.3 337.4 275.8 337.6 272.8 337.9 269.8 338.3 266.3 339.4 260.8 342.0 249.8 342.9 244.3 343.4 238.8 343.7 228.3 344.3 223.3 344.8 220.3 345.6 217.3 346.4 214.8 347.5 212.3 349.2 209.3 350.9 206.8 353.1 204.3 355.1 202.4 357.6 200.5 360.1 198.9 363.1 197.4 366.1 196.3 368.1 195.7 370.6 195.2 375.1 194.5 379.6 194.3 389.6 194.2 392.6 194.0 395.6 193.7 400.6 192.8 409.6 190.7 413.6 189.9 418.1 189.1 422.1 188.7 426.1 188.6 430.6 188.6 443.6 189.5 449.1 189.7 454.1 189.6 467.1 189.0 471.1 189.1 475.1 189.3 479.6 189.9 483.6 190.6 487.6 191.6 496.6 194.1 501.6 195.2 504.6 195.6 507.6 195.8 510.6 195.8 518.6 195.7 521.1 195.8 523.6 196.0 526.6 196.4 529.6 197.1 532.1 197.9 534.6 198.9 537.1 200.3 539.6 201.9 541.9 203.8 543.8 205.8 545.8 208.3 547.4 210.8 548.7 213.3 549.8 216.3 550.4 218.3 550.9 220.8 551.3 223.3 551.5 225.3 551.6 229.8 551.3 239.8 551.4 242.8 551.8 245.8 552.2 248.3 552.7 250.8 555.2 260.3 556.1 264.3 556.9 268.3 557.3 272.3 557.5 276.3 557.5 280.3 556.6 293.3 556.5 298.8 556.7 304.3 557.4 313.8 557.6 317.8 557.7 321.8 557.5 325.8 557.1 329.3 556.4 333.3 555.6 337.3 553.2 346.8 552.6 349.8 552.3 352.3 552.0 354.8 551.9 357.8 552.1 369.8 552.0 372.8 551.7 375.3 551.2 378.3 550.5 380.8 549.7 383.3 548.9 385.3 547.2 388.3 545.1 391.3 542.8 393.8 540.1 396.1 537.1 398.1 534.1 399.6 531.1 400.8 527.6 401.7 524.6 402.3 521.1 402.6 517.6 402.8 508.6 402.9 505.6 403.1 503.1 403.4 500.6 403.8 497.6 404.4 487.6 407.0 483.6 407.9 479.1 408.7 475.1 409.2 471.1 409.5 467.1 409.5 454.1 409.1 448.6 409.1 443.6 409.3 434.6 409.8Z"/>
<path fill="#ff9e00" d="M431.6 409.3 425.1 409.4 422.1 409.2 419.1 409.0 416.1 408.6 412.6 408.0 401.1 405.4 395.6 404.5 392.6 404.2 389.6 404.0 379.6 403.8 375.6 403.6 371.1 403.0 368.6 402.5 366.6 402.0 363.1 400.7 360.1 399.3 357.1 397.4 354.6 395.4 352.1 392.9 350.0 390.3 348.1 387.3 346.6 384.3 345.9 382.3 345.1 379.8 344.5 377.3 344.1 374.8 343.6 369.8 343.3 358.3 343.1 355.3 342.8 352.3 341.9 346.8 339.1 333.8 338.4 329.8 338.0 325.8 337.8 321.8 337.8 317.3 338.5 303.8 338.6 298.3 338.5 293.3 338.0 282.8 337.9 278.3 338.2 272.3 338.5 269.3 338.9 266.3 339.9 261.3 342.6 249.8 343.2 246.8 343.5 244.3 343.9 239.3 344.1 227.8 344.3 225.3 344.6 222.8 345.2 219.8 346.0 216.8 346.9 214.3 348.0 211.8 349.4 209.3 351.1 206.8 353.3 204.3 355.5 202.3 358.1 200.3 360.6 198.8 363.1 197.6 366.1 196.5 368.1 196.0 370.6 195.4 375.1 194.8 379.6 194.7 389.6 194.7 392.6 194.6 395.6 194.3 400.6 193.4 410.1 191.1 414.1 190.3 418.1 189.7 422.1 189.3 426.1 189.1 430.1 189.2 434.1 189.4 443.6 190.2 449.1 190.4 454.6 190.3 467.1 189.6 471.1 189.6 475.1 189.9 479.6 190.4 483.6 191.2 487.6 192.2 496.6 194.7 501.6 195.7 504.6 196.1 507.6 196.3 510.6 196.3 518.6 196.0 521.1 196.1 523.6 196.2 526.6 196.7 530.1 197.5 532.6 198.3 535.1 199.3 537.6 200.7 540.1 202.5 542.2 204.3 544.1 206.3 546.0 208.8 547.5 211.3 548.7 213.8 549.8 216.8 550.3 218.8 550.8 221.3 551.0 223.3 551.2 225.8 551.3 229.8 550.8 239.8 550.9 242.8 551.2 245.8 551.6 248.3 552.2 251.3 554.7 260.3 555.6 264.3 556.4 268.8 556.8 272.8 556.9 276.3 556.9 280.3 555.9 293.3 555.8 298.8 556.0 304.3 556.8 313.8 557.0 317.8 557.1 321.8 556.9 325.8 556.6 329.3 555.9 333.3 555.0 337.3 552.6 346.8 552.0 349.8 551.7 352.3 551.5 354.8 551.4 357.8 551.8 367.3 551.8 370.3 551.7 373.3 551.4 375.8 550.8 378.8 550.2 381.3 549.3 383.8 548.4 385.8 546.7 388.8 544.4 391.8 542.1 394.2 539.6 396.3 537.1 397.9 534.1 399.4 530.6 400.7 527.1 401.6 524.1 402.0 520.6 402.3 517.6 402.4 508.6 402.4 505.6 402.5 502.6 402.9 500.1 403.3 497.1 403.9 487.6 406.4 483.6 407.4 479.1 408.2 474.6 408.7 471.1 408.9 467.1 408.9 454.1 408.4 448.6 408.4 443.6 408.5 431.6 409.3Z"/>
<path fill="#ff8f00" d="M469.6 408.3 464.6 408.2 454.1 407.7 449.6 407.6 444.1 407.8 430.6 408.7 426.6 408.8 422.6 408.7 418.6 408.3 414.1 407.6 410.1 406.8 400.6 404.7 395.1 403.8 392.6 403.6 389.6 403.4 377.1 403.4 373.6 403.1 370.6 402.7 366.6 401.7 363.1 400.5 360.1 399.0 357.1 397.2 354.2 394.8 351.8 392.3 349.5 389.3 347.8 386.3 346.7 383.8 345.8 381.3 345.0 378.3 344.4 375.3 344.1 372.8 343.9 369.8 343.9 358.3 343.7 355.3 343.5 352.3 342.5 346.8 339.7 333.8 339.0 329.8 338.6 325.8 338.4 321.8 338.4 317.3 339.2 304.3 339.3 298.8 339.2 293.3 338.6 280.3 338.6 276.3 338.8 272.8 339.2 268.8 339.9 264.3 340.7 260.3 343.0 250.8 343.9 245.8 344.3 242.8 344.4 239.8 344.4 229.8 344.6 225.8 345.2 221.3 345.7 218.8 346.2 216.8 347.3 213.8 348.4 211.3 349.9 208.8 351.7 206.3 353.6 204.2 356.1 202.0 358.6 200.2 361.1 198.8 363.6 197.6 366.1 196.8 368.6 196.1 371.6 195.5 374.1 195.2 377.1 195.0 380.1 195.0 389.6 195.2 392.6 195.1 395.1 194.9 397.6 194.6 400.6 194.0 410.1 191.7 414.1 190.9 418.1 190.2 421.6 189.9 425.6 189.7 430.1 189.8 434.1 190.0 443.6 190.9 449.1 191.1 454.6 191.0 467.1 190.2 470.6 190.2 474.1 190.3 478.6 190.8 483.1 191.6 487.1 192.6 497.1 195.4 500.1 196.1 502.6 196.5 505.1 196.7 508.1 196.8 518.1 196.4 522.1 196.4 524.1 196.5 526.6 196.9 530.6 197.8 533.6 198.8 536.1 200.0 538.1 201.2 540.6 203.0 542.6 204.8 544.4 206.8 546.2 209.3 547.6 211.8 548.7 214.3 549.7 217.3 550.4 220.3 550.8 223.8 551.0 226.3 551.0 228.8 550.3 240.3 550.3 243.3 550.6 246.3 551.0 248.8 551.6 251.3 554.2 260.8 555.4 265.8 556.1 270.8 556.3 273.3 556.4 276.3 556.2 281.3 555.2 293.3 555.0 298.8 555.2 304.3 556.4 317.3 556.5 321.3 556.4 325.3 556.0 329.3 555.3 333.3 554.4 337.3 552.1 346.3 551.5 348.8 551.2 351.3 550.9 354.3 550.8 357.3 551.5 368.3 551.4 372.8 551.1 375.8 550.6 378.8 550.0 381.3 549.1 383.8 547.7 386.8 546.2 389.3 544.2 391.8 542.1 394.0 539.6 396.1 537.1 397.7 534.1 399.2 531.1 400.3 529.1 400.9 526.6 401.4 524.6 401.7 522.1 401.9 518.1 402.0 508.1 401.8 505.1 402.0 502.6 402.2 500.1 402.6 497.6 403.2 486.6 406.1 481.6 407.2 478.6 407.7 475.6 408.0 472.6 408.2 469.6 408.3Z"/>
<path fill="#ff8000" d="M434.6 407.8 430.6 408.1 427.1 408.2 423.6 408.1 420.1 407.9 417.1 407.5 413.6 407.0 410.1 406.2 401.1 404.2 398.1 403.6 395.6 403.2 392.6 403.0 389.6 402.9 379.6 403.0 375.6 402.9 371.1 402.4 367.1 401.6 363.6 400.4 360.6 399.1 357.6 397.3 355.1 395.3 352.6 392.9 350.6 390.5 348.9 387.8 347.3 384.8 346.6 382.8 345.8 380.3 345.2 377.8 344.8 375.3 344.5 372.8 344.3 369.8 344.4 357.8 344.3 354.8 344.1 352.3 343.7 349.8 343.2 346.8 341.0 337.3 340.2 333.3 339.6 329.3 339.2 325.8 339.0 321.8 339.1 317.8 339.3 313.8 340.0 303.8 340.1 298.3 340.0 292.8 339.3 281.8 339.2 277.3 339.4 271.8 340.1 266.3 341.1 261.3 343.8 250.3 344.3 247.3 344.7 244.8 344.9 242.3 345.0 239.3 344.8 227.8 345.0 224.8 345.3 222.3 345.8 219.3 346.5 216.8 347.3 214.3 348.4 211.8 349.8 209.3 351.6 206.8 353.6 204.5 355.6 202.6 358.1 200.7 360.6 199.2 363.1 198.0 366.1 197.0 368.1 196.5 370.6 196.0 373.1 195.6 375.6 195.4 379.6 195.4 389.6 195.8 392.6 195.7 395.6 195.5 398.1 195.1 401.1 194.5 410.1 192.3 414.1 191.4 418.1 190.8 422.1 190.4 426.1 190.3 430.1 190.4 434.1 190.7 443.6 191.6 449.1 191.8 454.6 191.7 464.1 190.9 467.6 190.8 471.6 190.7 475.1 190.9 479.6 191.5 483.6 192.2 487.6 193.3 496.6 195.9 499.1 196.5 501.6 196.9 504.6 197.2 507.6 197.3 510.6 197.2 518.6 196.7 521.1 196.6 523.6 196.8 526.6 197.1 530.1 197.9 532.6 198.6 535.1 199.7 537.6 201.0 540.1 202.8 542.1 204.5 543.8 206.3 545.7 208.8 547.2 211.3 548.4 213.8 549.4 216.8 549.9 218.8 550.3 221.3 550.6 223.3 550.7 225.8 550.6 229.8 549.9 237.3 549.7 240.3 549.8 243.3 550.0 245.8 550.3 248.3 551.0 251.3 553.5 260.3 554.5 264.3 555.3 268.3 555.7 272.3 555.8 275.8 555.7 279.8 555.4 283.8 554.5 293.3 554.3 298.8 554.5 304.3 555.5 313.8 555.9 317.8 556.0 321.8 555.9 325.3 555.5 329.3 554.8 333.3 553.8 337.3 551.6 345.8 551.0 348.3 550.6 350.8 550.3 353.8 550.3 356.8 550.4 359.8 551.1 368.3 551.2 371.3 551.1 373.8 550.7 376.8 550.0 380.3 549.1 383.3 548.0 385.8 546.3 388.8 544.5 391.3 542.1 393.8 539.6 395.9 537.1 397.5 534.1 399.0 531.1 400.1 527.6 401.0 524.6 401.4 521.1 401.7 517.6 401.7 508.1 401.3 505.1 401.4 502.6 401.6 500.1 402.0 497.1 402.6 487.1 405.4 483.1 406.3 478.6 407.1 474.6 407.5 471.1 407.7 467.1 407.7 454.6 406.9 449.1 406.8 443.6 407.1 434.6 407.8Z"/>
<path fill="#ff7000" d="M432.6 407.3 428.6 407.5 425.1 407.6 421.6 407.4 418.1 407.1 415.1 406.7 412.1 406.1 400.1 403.3 397.1 402.8 394.6 402.5 389.6 402.3 379.6 402.6 375.6 402.6 371.1 402.2 367.1 401.3 364.1 400.4 361.1 399.1 358.1 397.4 355.3 395.3 354.1 394.2 352.8 392.8 350.7 390.3 349.1 387.8 347.6 384.8 346.6 382.3 345.9 379.8 345.3 376.8 344.9 373.8 344.7 371.3 344.7 368.8 345.0 359.8 345.0 356.8 344.9 353.8 344.5 350.8 343.6 345.8 341.6 337.3 340.9 333.8 340.2 329.8 339.8 325.8 339.6 321.8 339.7 317.8 339.9 313.8 340.7 304.3 340.9 298.3 340.7 292.8 339.9 281.8 339.8 276.8 340.0 271.3 340.8 265.8 341.8 260.8 344.3 250.8 344.9 247.8 345.2 245.3 345.5 242.8 345.5 239.8 345.2 227.8 345.3 224.8 345.6 222.3 346.1 219.3 346.7 216.8 347.5 214.3 348.6 211.8 350.0 209.3 351.8 206.8 353.6 204.7 355.6 202.8 358.1 200.9 360.6 199.4 363.1 198.3 366.1 197.2 368.1 196.7 370.6 196.2 373.1 195.9 375.6 195.7 379.6 195.7 389.6 196.3 392.6 196.3 395.6 196.1 398.1 195.7 401.1 195.1 410.1 192.8 414.1 192.0 418.1 191.3 422.1 190.9 426.1 190.8 430.1 190.9 433.6 191.2 443.6 192.3 449.1 192.5 454.6 192.4 464.1 191.6 467.6 191.3 471.6 191.3 475.1 191.4 479.6 192.0 483.6 192.8 487.6 193.8 496.6 196.5 499.1 197.1 501.6 197.5 504.6 197.8 507.6 197.9 510.6 197.7 518.6 197.0 521.1 196.9 523.6 197.0 527.1 197.4 530.1 198.0 533.1 199.0 535.6 200.1 538.1 201.5 540.6 203.4 542.2 204.8 544.0 206.8 545.9 209.3 547.3 211.8 548.4 214.3 549.2 216.8 549.7 218.8 550.1 221.3 550.4 223.8 550.4 225.8 550.3 229.8 549.4 237.3 549.2 240.3 549.2 243.3 549.3 245.8 549.7 248.3 550.4 251.3 553.0 260.3 554.0 264.3 554.7 268.3 555.2 272.3 555.3 275.8 555.2 279.8 554.8 283.8 553.7 293.3 553.6 296.3 553.5 298.8 553.6 301.3 553.8 304.3 554.9 313.8 555.3 317.8 555.4 321.8 555.3 325.3 554.9 329.3 554.2 333.3 553.3 337.3 550.9 345.8 550.4 348.3 550.0 350.8 549.7 353.8 549.7 356.8 549.9 359.8 550.8 368.3 550.9 371.3 550.8 373.8 550.4 377.3 549.8 380.3 548.9 383.3 547.8 385.8 546.4 388.3 544.3 391.3 542.1 393.6 539.6 395.7 537.1 397.3 534.1 398.8 531.1 399.9 527.6 400.7 524.6 401.1 521.1 401.4 517.6 401.3 508.1 400.7 505.1 400.8 502.6 401.0 500.1 401.4 497.1 402.0 487.1 404.8 483.1 405.7 478.6 406.5 474.6 406.9 471.1 407.1 467.6 407.1 454.6 406.2 449.1 406.1 443.1 406.3 432.6 407.3Z"/>
<path fill="#ff6100" d="M430.6 406.8 427.1 407.0 423.6 407.0 420.1 406.7 417.1 406.4 411.6 405.4 400.6 402.7 397.6 402.2 395.1 401.9 392.6 401.7 389.6 401.7 379.6 402.2 375.6 402.3 373.1 402.1 371.1 401.9 368.6 401.4 366.6 400.9 363.6 400.0 360.6 398.6 357.6 396.8 355.1 394.8 353.0 392.8 351.0 390.3 349.3 387.8 347.8 384.8 346.9 382.3 346.1 379.3 345.5 376.3 345.2 373.3 345.1 370.8 345.1 368.3 345.5 359.8 345.6 356.8 345.5 353.8 345.2 350.8 344.3 345.8 342.2 337.3 341.4 333.3 340.7 329.3 340.4 325.8 340.2 321.8 340.3 317.8 340.6 313.8 341.4 304.3 341.7 298.3 341.5 292.8 340.5 281.3 340.4 276.3 340.5 273.3 340.7 270.8 341.3 265.8 342.3 261.3 345.0 250.8 345.5 247.8 345.9 245.3 346.1 242.8 346.1 239.8 345.6 230.6 345.5 227.3 345.6 224.3 345.9 221.8 346.4 218.8 347.1 216.3 347.9 213.8 349.1 211.3 350.5 208.8 352.4 206.3 354.1 204.4 356.1 202.6 358.6 200.8 361.1 199.4 363.6 198.3 366.6 197.3 368.6 196.8 371.1 196.4 373.1 196.2 375.6 196.0 379.6 196.1 390.1 196.9 393.1 196.9 395.6 196.7 398.1 196.3 401.1 195.8 410.1 193.4 414.1 192.5 418.1 191.8 422.1 191.5 426.1 191.4 430.1 191.5 433.6 191.8 443.6 193.0 449.1 193.3 454.6 193.1 464.1 192.2 467.6 191.9 471.6 191.8 475.1 192.0 479.6 192.5 483.6 193.3 487.6 194.4 496.6 197.1 499.1 197.7 501.6 198.2 504.6 198.4 507.6 198.4 510.6 198.2 518.6 197.3 521.1 197.2 523.6 197.2 526.6 197.6 530.1 198.2 533.1 199.1 535.6 200.2 537.6 201.4 540.1 203.1 542.1 204.8 543.9 206.8 545.7 209.3 546.9 211.3 548.0 213.8 549.0 216.8 549.5 218.8 549.9 221.3 550.1 223.8 550.2 225.8 549.9 230.3 549.0 237.3 548.7 240.3 548.6 243.3 548.7 245.8 549.1 248.3 549.7 251.3 552.4 260.3 553.5 264.3 554.2 268.3 554.6 272.3 554.8 275.8 554.6 279.8 554.3 283.3 553.0 293.3 552.8 296.3 552.7 298.8 552.8 301.3 553.0 304.3 554.3 313.8 554.7 317.8 554.9 321.8 554.8 325.8 554.4 329.3 553.7 333.3 552.7 337.3 550.3 345.8 549.7 348.3 549.3 350.8 549.1 353.8 549.1 356.8 549.4 359.8 550.4 368.3 550.6 371.3 550.5 373.8 550.2 377.3 549.5 380.8 548.5 383.8 547.4 386.3 545.6 389.3 543.6 391.8 541.6 393.9 539.1 395.8 536.6 397.4 533.6 398.8 530.6 399.8 527.6 400.5 524.1 400.9 520.6 401.0 517.1 400.9 508.1 400.2 505.1 400.2 502.6 400.3 500.1 400.7 497.1 401.3 487.1 404.2 483.1 405.2 478.6 406.0 474.6 406.4 471.1 406.5 467.6 406.5 454.6 405.5 449.1 405.3 443.6 405.6 430.6 406.8Z"/>
<path fill="#ff5100" d="M429.1 406.3 425.6 406.4 422.6 406.3 419.6 406.1 416.6 405.7 411.6 404.8 400.6 402.1 397.6 401.5 395.1 401.2 392.6 401.1 389.6 401.1 379.6 401.8 375.6 401.9 373.1 401.8 371.1 401.6 368.6 401.1 366.6 400.7 363.6 399.7 360.6 398.4 357.6 396.5 355.1 394.6 352.8 392.3 350.8 389.8 349.3 387.3 347.9 384.3 347.0 381.8 346.3 379.3 345.8 376.3 345.5 373.3 345.4 370.8 345.5 368.3 346.2 357.3 346.2 354.3 345.9 351.3 345.6 348.8 345.1 346.3 342.7 336.8 342.0 333.3 341.3 329.3 340.9 325.3 340.8 321.8 340.9 317.8 341.2 313.8 342.2 304.3 342.4 298.8 342.2 293.3 341.1 280.8 341.0 275.8 341.2 270.8 341.9 265.8 342.9 261.3 345.6 250.8 346.2 247.8 346.5 245.3 346.7 242.8 346.7 239.8 346.0 230.8 345.9 227.3 345.9 224.3 346.2 221.8 346.7 218.8 347.3 216.3 348.1 213.8 349.3 211.3 350.7 208.8 352.2 206.8 354.1 204.6 356.1 202.8 358.6 201.0 361.1 199.6 363.6 198.5 366.6 197.5 368.6 197.0 371.1 196.6 373.1 196.4 375.6 196.3 379.6 196.5 390.1 197.4 393.1 197.5 395.6 197.3 398.1 197.0 401.1 196.4 410.1 194.0 414.1 193.0 418.1 192.4 422.1 192.0 426.1 191.9 430.1 192.1 433.6 192.4 443.1 193.7 446.1 193.9 449.1 194.0 451.6 194.0 454.6 193.8 464.1 192.8 468.1 192.4 472.1 192.4 475.6 192.5 479.6 193.0 483.6 193.8 487.6 194.9 496.6 197.8 499.1 198.4 501.6 198.8 504.1 199.0 507.1 199.0 510.1 198.7 518.6 197.6 521.1 197.5 523.6 197.5 527.1 197.8 530.6 198.5 533.6 199.5 536.1 200.6 538.1 201.8 540.6 203.7 542.4 205.3 544.1 207.3 545.9 209.8 547.0 211.8 548.1 214.3 548.8 216.8 549.4 219.3 549.7 221.8 549.9 224.3 549.9 226.3 549.5 230.3 548.4 237.8 548.1 240.3 548.0 243.3 548.1 245.8 548.4 248.3 549.1 251.3 551.9 260.3 553.0 264.3 553.7 268.3 554.1 272.3 554.2 275.8 554.0 279.8 553.7 283.3 552.3 293.3 552.0 296.3 552.0 298.8 552.0 301.3 552.3 304.3 553.7 313.8 554.1 317.8 554.3 321.8 554.2 325.8 553.9 329.3 553.2 333.3 552.1 337.3 549.6 345.8 549.0 348.3 548.6 350.8 548.4 353.8 548.5 356.8 548.9 359.8 550.1 368.3 550.3 371.3 550.3 373.8 549.9 377.3 549.3 380.8 548.3 383.8 547.2 386.3 545.7 388.8 543.6 391.6 541.6 393.7 539.1 395.6 536.6 397.2 533.6 398.6 530.6 399.6 527.6 400.2 524.1 400.6 520.6 400.7 517.1 400.5 508.1 399.6 505.1 399.5 502.6 399.7 500.1 400.0 497.1 400.7 487.1 403.6 483.1 404.6 478.6 405.4 474.6 405.8 471.1 405.9 467.6 405.8 464.1 405.6 454.6 404.7 449.1 404.5 443.6 404.8 433.6 405.9 429.1 406.3Z"/>
<path fill="#ff4200" d="M427.1 405.8 424.1 405.8 421.6 405.7 419.1 405.5 416.1 405.1 411.1 404.1 401.1 401.5 398.1 400.9 395.6 400.6 393.1 400.5 390.1 400.5 379.6 401.4 375.6 401.6 373.1 401.5 370.6 401.2 368.1 400.8 366.1 400.3 363.1 399.3 360.1 397.9 357.6 396.3 355.1 394.3 353.1 392.3 351.1 389.8 349.5 387.3 348.1 384.3 347.2 381.8 346.6 379.3 346.1 376.3 345.8 373.3 345.8 370.8 345.9 368.3 346.8 357.3 346.8 354.3 346.6 351.3 346.3 348.8 345.8 346.3 343.3 336.8 342.5 333.3 341.9 329.3 341.5 325.3 341.4 321.8 341.5 317.8 341.9 313.8 343.0 304.3 343.2 298.8 343.2 295.8 343.0 292.8 341.7 280.8 341.5 275.3 341.8 270.3 342.5 265.8 343.5 261.3 346.3 250.8 346.9 247.8 347.2 245.3 347.3 242.8 347.2 239.8 346.4 230.8 346.2 227.3 346.2 224.3 346.5 221.3 347.0 218.3 347.7 215.8 348.5 213.3 349.7 210.8 351.3 208.3 352.8 206.3 354.6 204.4 356.6 202.6 359.1 200.9 361.6 199.5 364.1 198.5 366.6 197.7 368.6 197.3 371.1 196.9 373.6 196.7 375.6 196.6 380.1 196.9 387.1 197.7 390.1 198.0 393.1 198.1 395.6 197.9 398.1 197.6 401.1 197.0 410.6 194.4 414.6 193.5 418.1 192.9 422.1 192.5 425.6 192.4 429.6 192.6 433.6 193.1 443.6 194.5 446.6 194.7 449.1 194.8 451.6 194.7 454.6 194.5 464.1 193.4 467.6 193.0 471.6 192.9 475.1 193.0 479.1 193.4 483.1 194.2 487.1 195.3 496.6 198.4 499.1 199.0 501.6 199.4 504.1 199.6 507.1 199.5 510.1 199.2 518.6 197.9 521.1 197.7 523.6 197.7 527.1 198.1 530.6 198.7 533.6 199.7 536.1 200.8 538.1 202.0 540.6 203.8 542.2 205.3 544.0 207.3 545.7 209.8 546.9 211.8 547.9 214.3 548.7 216.8 549.2 219.3 549.5 221.8 549.6 224.3 549.6 226.3 549.2 230.3 547.9 237.8 547.5 240.3 547.3 243.3 547.4 245.8 547.7 248.3 548.4 251.3 551.3 260.3 552.4 264.3 553.2 268.3 553.6 272.3 553.7 275.8 553.5 279.8 553.1 283.3 551.5 293.3 551.2 296.3 551.2 298.8 551.2 301.3 551.5 304.3 553.1 314.1 553.6 317.8 553.8 321.8 553.7 325.8 553.3 329.8 552.6 333.3 551.6 337.2 549.0 345.8 548.4 348.3 548.0 350.8 547.8 353.8 547.9 356.8 548.3 359.8 549.7 368.3 550.0 371.3 550.0 373.8 549.7 377.3 549.1 380.8 548.1 383.8 546.8 386.8 545.2 389.3 543.3 391.8 541.1 393.9 538.6 395.8 536.1 397.3 533.6 398.4 530.6 399.4 527.6 400.0 524.1 400.4 520.6 400.4 517.1 400.1 508.6 399.0 506.1 398.9 503.6 398.9 500.6 399.3 497.1 400.0 487.1 403.0 483.1 404.1 479.6 404.7 476.1 405.2 472.1 405.4 468.1 405.3 464.1 405.0 454.6 403.9 451.6 403.8 448.6 403.7 443.6 404.0 432.6 405.4 427.1 405.8Z"/>
<path fill="#ff3200" d="M432.1 404.8 428.6 405.1 425.1 405.3 421.6 405.2 418.1 404.8 415.1 404.4 412.1 403.7 400.6 400.7 397.6 400.2 395.1 399.9 392.6 399.8 389.6 399.9 380.1 401.0 375.6 401.3 373.1 401.2 371.1 401.0 368.6 400.6 366.6 400.2 363.6 399.3 360.6 397.9 358.1 396.4 355.6 394.5 353.6 392.6 351.7 390.3 350.0 387.8 348.5 384.8 347.6 382.3 346.9 379.3 346.4 376.3 346.1 373.3 346.1 370.8 346.3 368.3 347.2 359.8 347.4 356.8 347.5 353.8 347.3 351.3 347.0 348.8 346.3 345.8 343.9 336.8 343.1 333.3 342.4 329.3 342.1 325.3 342.0 321.8 342.2 317.8 342.5 314.3 343.8 304.3 344.0 301.3 344.1 298.8 344.0 295.8 343.7 292.8 342.3 280.8 342.2 277.8 342.1 275.3 342.4 270.3 342.7 267.8 343.1 265.3 344.2 260.8 346.7 251.8 347.3 249.3 347.7 246.8 347.9 243.8 347.9 240.8 347.6 237.8 346.6 229.3 346.5 226.3 346.5 223.8 346.9 220.3 347.6 216.8 348.6 213.8 349.7 211.3 351.1 208.8 353.0 206.3 354.6 204.6 356.6 202.8 359.1 201.1 361.1 200.0 363.6 198.9 366.6 197.9 368.6 197.5 371.1 197.1 373.6 196.9 375.6 196.9 380.1 197.2 387.1 198.2 390.1 198.6 393.1 198.7 395.6 198.6 398.1 198.3 401.1 197.7 410.6 195.0 414.1 194.1 417.6 193.5 421.6 193.0 425.6 193.0 429.6 193.2 433.6 193.7 443.1 195.1 446.1 195.4 449.1 195.6 451.6 195.5 454.6 195.3 464.1 194.0 467.6 193.6 471.6 193.4 475.1 193.5 479.1 193.9 483.1 194.7 487.1 195.9 496.6 199.0 499.1 199.7 501.6 200.1 504.1 200.2 507.1 200.1 510.1 199.7 518.1 198.3 520.6 198.0 523.1 198.0 526.6 198.2 530.1 198.8 533.1 199.6 535.6 200.7 537.6 201.8 540.1 203.6 542.1 205.3 543.4 206.8 545.3 209.3 546.7 211.8 547.8 214.3 548.5 216.8 549.0 219.3 549.3 221.8 549.4 224.3 549.3 226.3 549.2 228.3 548.8 230.8 547.4 237.8 546.9 240.3 546.7 243.3 546.8 245.8 547.1 248.3 547.8 251.3 548.5 253.8 550.8 260.3 551.9 264.3 552.7 268.3 553.1 272.3 553.2 275.8 552.9 279.8 552.4 283.3 550.7 293.3 550.4 296.3 550.3 298.8 550.4 301.3 550.8 304.3 552.4 313.8 553.0 317.8 553.3 321.8 553.2 325.3 552.9 329.3 552.1 333.3 551.1 337.0 548.3 345.8 547.7 348.3 547.3 350.8 547.1 353.8 547.3 356.8 547.8 359.8 549.3 367.8 549.6 370.8 549.7 373.3 549.5 376.8 549.0 380.3 548.1 383.3 546.9 386.3 545.4 388.8 543.5 391.3 541.6 393.3 539.1 395.3 536.6 396.9 534.1 398.0 531.1 399.0 528.1 399.7 524.1 400.1 520.6 400.1 517.1 399.7 508.6 398.5 506.1 398.3 503.6 398.3 501.1 398.5 498.1 399.1 495.1 399.9 488.1 402.1 484.6 403.1 480.6 404.0 476.6 404.6 472.6 404.8 468.1 404.7 464.1 404.3 454.6 403.2 451.6 403.0 449.1 402.9 446.1 403.0 443.1 403.3 432.1 404.8Z"/>
<path fill="#ff2300" d="M431.1 404.3 427.6 404.6 424.1 404.7 420.6 404.6 417.6 404.2 415.1 403.8 412.1 403.1 400.6 400.0 397.6 399.5 395.1 399.2 392.6 399.2 389.6 399.3 380.1 400.6 376.1 400.9 373.6 400.9 371.6 400.8 369.1 400.4 366.6 399.9 363.6 399.0 360.6 397.7 358.1 396.2 355.6 394.3 353.6 392.3 351.6 389.8 350.0 387.3 348.8 384.8 347.9 382.3 347.2 379.8 346.7 376.8 346.4 373.3 346.5 370.8 346.6 368.3 347.8 359.8 348.1 356.8 348.1 353.8 348.0 351.3 347.7 348.8 347.0 345.8 344.6 337.1 343.7 333.3 343.0 329.3 342.6 325.3 342.6 321.8 342.8 317.8 343.1 314.3 344.6 304.3 344.8 301.3 344.9 298.8 344.8 295.8 344.5 292.8 343.3 283.8 342.9 280.3 342.7 277.3 342.7 274.8 342.8 272.3 343.0 269.8 343.7 265.3 344.8 260.8 347.4 251.8 348.0 249.3 348.4 246.8 348.6 243.8 348.5 240.8 348.2 237.8 347.0 229.3 346.8 226.3 346.8 223.8 347.2 220.3 347.8 216.8 348.8 213.8 349.9 211.3 351.3 208.8 352.8 206.8 354.6 204.8 356.6 203.0 358.6 201.6 361.1 200.1 363.6 199.1 366.6 198.1 369.1 197.7 371.6 197.3 374.1 197.2 376.1 197.2 380.1 197.6 387.6 198.8 390.1 199.1 393.1 199.3 395.6 199.2 398.1 198.9 401.1 198.3 410.6 195.5 414.1 194.6 417.6 194.0 421.6 193.6 425.6 193.5 429.6 193.7 433.6 194.3 443.6 196.0 446.6 196.2 449.1 196.3 451.6 196.3 454.6 196.0 464.1 194.6 467.6 194.1 471.6 193.9 475.1 194.0 479.1 194.4 483.1 195.2 487.1 196.4 496.6 199.7 499.1 200.3 501.6 200.8 504.1 200.9 507.1 200.7 510.1 200.2 518.1 198.6 521.1 198.3 523.6 198.2 527.1 198.5 530.6 199.1 533.6 200.0 536.1 201.1 538.1 202.3 540.6 204.1 542.4 205.8 543.7 207.3 545.4 209.8 546.5 211.8 547.6 214.3 548.3 216.8 548.8 219.3 549.1 221.8 549.2 224.3 549.1 226.3 548.9 228.3 548.4 230.8 546.8 237.8 546.4 240.3 546.0 243.3 546.1 245.8 546.4 248.3 547.1 251.3 547.9 253.8 550.2 260.3 551.4 264.3 552.2 268.3 552.6 272.3 552.7 275.8 552.4 279.8 551.8 283.8 549.9 293.3 549.6 296.3 549.5 298.8 549.6 301.3 550.0 304.3 551.8 313.8 552.5 317.8 552.8 321.8 552.7 325.3 552.4 329.3 551.6 333.3 550.4 337.3 547.6 345.8 547.0 348.3 546.6 350.8 546.5 353.8 546.7 356.8 547.2 359.8 548.9 367.8 549.3 370.8 549.5 373.3 549.3 376.8 548.8 380.3 547.9 383.3 546.7 386.3 545.2 388.8 543.3 391.3 541.3 393.3 539.1 395.1 536.6 396.7 534.1 397.9 531.1 398.8 528.1 399.4 524.1 399.8 520.6 399.8 516.8 399.3 508.1 397.8 505.6 397.6 503.1 397.6 500.1 397.9 497.1 398.6 494.1 399.5 487.1 401.8 483.1 402.9 480.1 403.6 476.6 404.0 472.6 404.2 468.1 404.1 464.1 403.7 454.6 402.4 451.6 402.1 449.1 402.1 446.1 402.2 443.1 402.5 431.1 404.3Z"/>
<path fill="#ff1300" d="M430.1 403.8 426.6 404.1 423.6 404.1 420.1 404.0 417.1 403.6 414.6 403.1 411.6 402.4 401.1 399.4 398.1 398.8 395.6 398.5 393.1 398.5 390.1 398.7 387.6 399.0 380.1 400.2 376.1 400.6 373.6 400.6 371.6 400.5 369.1 400.2 366.6 399.7 363.6 398.8 361.1 397.7 358.6 396.3 355.9 394.3 353.8 392.3 351.8 389.8 350.2 387.3 349.0 384.8 348.1 382.3 347.4 379.3 346.9 375.8 346.8 372.8 346.8 370.3 347.1 367.8 348.3 359.8 348.7 356.8 348.8 353.8 348.7 351.3 348.4 348.8 347.7 345.8 345.1 336.8 344.3 333.3 343.5 329.3 343.2 325.3 343.1 321.8 343.4 317.8 343.8 314.3 345.4 304.3 345.6 301.3 345.7 298.8 345.6 295.8 345.3 292.8 343.9 283.8 343.5 280.3 343.3 277.3 343.2 274.8 343.3 272.3 343.5 269.8 344.2 265.3 345.4 260.8 348.1 251.8 348.7 249.3 349.1 246.8 349.3 243.8 349.1 240.8 348.7 237.8 347.4 229.3 347.1 226.3 347.1 223.8 347.4 220.3 348.0 216.8 349.0 213.8 350.1 211.3 351.2 209.3 353.0 206.8 354.6 205.0 356.6 203.2 359.1 201.5 361.6 200.1 364.1 199.1 366.6 198.4 369.1 197.9 371.6 197.6 374.1 197.5 376.1 197.5 380.1 198.0 387.6 199.4 390.1 199.7 393.1 200.0 396.1 199.9 398.6 199.5 401.1 199.0 410.6 196.1 414.1 195.1 417.6 194.5 421.6 194.1 425.6 194.0 429.6 194.3 433.6 194.9 443.1 196.6 446.1 197.0 449.1 197.1 451.6 197.1 454.6 196.8 464.1 195.2 467.6 194.7 471.6 194.4 475.1 194.5 479.1 194.9 483.3 195.8 487.1 196.9 496.6 200.4 499.1 201.0 501.6 201.4 504.1 201.6 507.1 201.3 509.6 200.9 515.6 199.5 518.1 199.0 520.6 198.6 523.1 198.4 526.6 198.6 530.6 199.2 533.6 200.1 536.1 201.2 538.1 202.4 540.6 204.3 542.2 205.8 543.5 207.3 545.3 209.8 546.4 211.8 547.4 214.3 548.2 216.8 548.6 219.3 548.8 221.8 548.9 224.3 548.8 226.3 548.6 228.3 548.1 230.7 546.3 237.8 545.7 240.8 545.3 243.8 545.4 246.3 545.7 248.8 546.4 251.3 547.2 253.8 549.7 260.3 550.9 264.3 551.6 267.8 552.1 271.8 552.2 275.8 551.8 279.8 551.1 283.8 549.1 293.3 548.8 296.3 548.7 298.8 548.8 301.3 549.2 304.3 551.2 313.8 551.9 317.8 552.2 321.8 552.2 325.3 551.9 329.3 551.1 333.3 549.9 337.3 546.9 345.8 546.2 348.3 545.8 350.8 545.7 353.3 546.0 356.3 546.6 359.3 548.1 365.3 548.6 367.8 549.1 370.8 549.2 373.3 549.1 376.8 548.5 380.8 547.6 383.8 546.5 386.3 545.0 388.8 543.1 391.3 541.1 393.3 539.1 394.9 536.6 396.5 534.1 397.7 531.6 398.5 528.6 399.1 524.6 399.5 522.6 399.6 520.6 399.5 516.6 398.9 508.1 397.2 505.6 396.9 503.1 396.9 500.1 397.2 497.1 397.9 494.1 398.8 487.1 401.3 483.1 402.4 480.1 403.0 476.6 403.5 472.6 403.7 468.1 403.5 464.1 403.0 454.6 401.6 451.6 401.3 449.1 401.3 446.1 401.4 443.1 401.7 433.9 403.3 430.1 403.8Z"/>
<path fill="#ff0400" d="M429.1 403.3 425.6 403.6 422.6 403.6 419.6 403.4 416.6 403.0 414.1 402.5 411.6 401.9 401.1 398.7 398.1 398.1 395.6 397.8 393.1 397.8 390.1 398.0 387.6 398.4 380.1 399.8 376.1 400.2 374.1 400.3 371.6 400.2 369.1 399.9 366.6 399.5 363.6 398.6 361.1 397.5 358.6 396.1 356.1 394.2 354.1 392.3 352.1 389.9 350.4 387.3 349.2 384.8 348.3 382.3 347.6 379.3 347.2 375.8 347.1 372.8 347.2 370.3 347.5 367.8 348.9 359.8 349.4 356.8 349.5 353.8 349.4 351.3 349.1 348.8 348.5 345.8 345.7 336.8 344.7 332.8 344.0 328.8 343.7 325.3 343.7 321.8 344.0 317.8 344.4 314.3 346.2 304.3 346.5 301.3 346.6 298.8 346.5 296.3 346.2 293.3 344.6 283.8 344.1 280.3 343.9 277.3 343.8 274.3 344.1 269.8 344.8 265.3 345.9 260.8 348.8 251.8 349.4 249.3 349.8 246.8 349.9 243.8 349.8 240.8 349.3 237.8 347.7 229.3 347.4 226.3 347.4 223.8 347.6 220.3 348.3 216.8 349.2 213.8 349.8 212.3 350.5 210.8 352.1 208.3 353.6 206.3 355.1 204.7 357.1 203.1 359.6 201.4 361.6 200.3 364.1 199.3 366.6 198.6 369.1 198.1 371.6 197.8 374.1 197.7 376.1 197.8 380.1 198.3 387.6 199.9 390.6 200.4 393.6 200.6 396.1 200.6 398.6 200.2 401.6 199.5 410.1 196.8 414.1 195.7 417.6 195.0 421.6 194.6 425.6 194.5 429.6 194.8 433.6 195.5 443.6 197.5 446.6 197.9 449.1 198.0 451.6 197.9 454.6 197.5 464.1 195.7 468.1 195.2 472.6 194.9 476.6 195.1 480.1 195.6 483.6 196.4 487.6 197.7 494.1 200.2 496.6 201.1 499.6 201.9 502.6 202.2 504.6 202.2 507.1 201.9 509.6 201.4 515.1 200.0 518.0 199.3 520.6 198.9 523.1 198.7 526.6 198.8 530.6 199.4 533.6 200.3 536.1 201.4 538.1 202.6 540.6 204.4 542.1 205.8 543.4 207.3 545.1 209.8 546.3 211.8 547.3 214.3 548.0 216.8 548.4 219.3 548.6 221.8 548.7 224.3 548.5 226.3 548.3 228.3 547.7 230.8 545.7 237.8 545.0 240.8 544.6 243.8 544.7 246.3 545.0 248.8 545.7 251.3 546.5 253.8 549.1 260.3 550.4 264.3 551.2 267.8 551.6 271.8 551.6 275.8 551.3 279.8 550.5 283.8 548.8 290.8 548.3 293.3 547.9 296.3 547.8 298.8 547.9 301.3 548.3 304.3 550.7 314.3 551.4 318.3 551.8 322.3 551.8 324.3 551.6 326.8 551.3 329.8 550.5 333.3 549.3 337.3 546.8 343.8 546.0 346.3 545.3 349.3 545.0 351.8 545.1 354.3 545.4 356.8 546.0 359.3 547.6 365.1 548.2 367.8 548.8 370.8 549.0 373.3 548.8 376.8 548.3 380.8 547.4 383.8 546.3 386.3 544.8 388.8 542.9 391.3 541.1 393.1 539.1 394.7 536.6 396.3 534.1 397.5 531.1 398.4 528.6 398.9 526.1 399.2 524.1 399.3 520.6 399.1 516.6 398.5 510.1 396.9 507.6 396.5 505.1 396.2 502.6 396.2 500.1 396.5 497.1 397.1 494.1 398.1 487.1 400.7 483.6 401.7 480.1 402.5 477.1 402.9 473.1 403.2 468.6 403.0 464.6 402.5 454.6 400.8 451.6 400.5 449.1 400.4 446.6 400.5 443.6 400.8 433.1 402.8 429.1 403.3Z"/>
<path fill="#f30000" d="M428.6 402.8 425.6 403.0 422.6 403.0 419.6 402.9 416.6 402.4 414.1 401.9 411.6 401.3 403.6 398.7 401.1 398.0 398.1 397.3 395.6 397.1 393.1 397.1 390.1 397.4 387.6 397.8 380.6 399.3 378.1 399.7 376.1 399.9 374.1 400.0 371.6 399.9 369.1 399.7 366.6 399.2 363.6 398.3 361.1 397.3 358.6 395.8 356.1 394.0 354.1 392.1 352.2 389.8 350.6 387.3 349.4 384.8 348.4 381.8 347.9 379.3 347.5 375.8 347.4 372.8 347.5 370.3 347.9 367.8 349.5 359.8 350.0 356.8 350.3 353.8 350.2 351.3 349.9 348.8 349.3 346.3 348.4 343.3 346.3 336.8 345.3 332.8 344.6 329.3 344.3 325.3 344.3 321.8 344.6 317.8 345.1 314.2 347.0 304.3 347.3 301.3 347.4 298.8 347.3 295.8 346.9 292.8 345.2 283.8 344.7 280.3 344.4 277.3 344.3 274.3 344.6 269.8 344.8 267.8 345.3 265.3 346.5 260.8 349.5 251.8 350.1 249.3 350.5 246.8 350.7 244.3 350.5 241.3 350.0 238.3 348.6 232.0 348.1 229.3 347.7 226.3 347.7 223.8 347.9 220.3 348.5 216.8 349.4 213.8 350.0 212.3 350.7 210.8 352.3 208.3 353.8 206.3 355.3 204.8 357.1 203.3 359.6 201.5 361.6 200.5 364.1 199.5 366.6 198.8 369.1 198.3 371.6 198.1 374.1 198.0 376.1 198.1 378.1 198.3 380.6 198.8 387.6 200.5 390.6 201.0 393.6 201.3 396.1 201.3 398.6 201.0 401.6 200.2 410.2 197.3 414.1 196.2 417.6 195.5 421.6 195.1 425.6 195.0 429.6 195.4 433.6 196.1 443.1 198.2 446.1 198.6 449.1 198.8 451.6 198.7 454.6 198.3 464.3 196.3 468.6 195.6 472.6 195.4 475.1 195.5 477.1 195.6 480.6 196.1 484.1 197.0 487.8 198.3 494.1 200.9 496.6 201.8 499.6 202.6 502.1 202.9 504.6 202.9 507.1 202.6 509.6 202.0 515.1 200.4 517.6 199.7 520.6 199.1 523.1 198.9 526.6 199.0 530.6 199.6 533.6 200.4 536.1 201.5 538.1 202.7 540.6 204.6 542.1 206.0 543.2 207.3 545.0 209.8 546.1 211.8 547.1 214.3 547.8 216.8 548.2 219.3 548.4 222.3 548.5 224.3 548.3 226.3 547.9 228.8 547.2 231.3 545.0 238.3 544.4 240.8 543.9 243.8 543.9 246.3 544.2 248.8 544.9 251.3 545.8 253.8 548.6 260.4 549.9 264.3 550.7 267.8 551.1 271.8 551.2 275.8 550.7 279.8 549.9 283.8 548.0 290.8 547.5 293.3 547.0 296.3 546.9 298.8 547.0 301.3 547.5 304.3 548.1 306.8 550.0 313.8 550.9 318.3 551.2 320.8 551.3 322.8 551.2 325.3 551.1 327.3 550.7 330.3 549.9 333.8 548.7 337.3 546.1 343.8 545.2 346.3 544.5 349.3 544.2 351.8 544.3 354.3 544.7 356.8 545.4 359.3 547.1 364.9 547.9 367.8 548.5 370.8 548.7 373.3 548.6 376.8 548.1 380.8 547.2 383.8 546.6 385.3 545.9 386.8 544.3 389.3 542.6 391.5 540.7 393.3 538.6 394.9 536.6 396.1 534.1 397.3 531.6 398.1 528.6 398.7 526.1 398.9 524.1 399.0 520.6 398.8 516.6 398.1 510.1 396.4 507.6 395.8 505.1 395.5 502.6 395.4 499.6 395.8 496.6 396.5 494.1 397.4 487.6 399.9 483.6 401.2 480.1 402.0 477.1 402.4 472.6 402.6 468.6 402.4 464.3 401.8 454.6 399.9 451.6 399.6 449.1 399.5 446.6 399.6 443.6 400.0 433.1 402.2 428.6 402.8Z"/>
<path fill="#e40000" d="M428.1 402.3 425.1 402.5 422.1 402.5 419.1 402.3 416.6 401.9 414.1 401.4 411.6 400.7 403.6 398.0 401.1 397.2 398.1 396.6 395.6 396.3 393.1 396.3 390.1 396.7 387.6 397.2 380.6 398.9 378.1 399.3 376.1 399.6 374.1 399.7 371.6 399.6 369.1 399.4 366.6 399.0 363.6 398.1 361.1 397.1 358.6 395.6 356.1 393.8 354.1 391.8 352.5 389.8 350.9 387.3 349.6 384.8 348.8 382.3 348.1 379.3 347.7 375.8 347.7 372.8 347.9 370.3 348.3 367.8 350.2 359.3 350.7 356.8 351.0 354.3 351.0 351.8 350.7 349.3 350.1 346.3 349.3 343.8 346.9 336.8 345.9 333.3 345.3 330.3 344.9 326.8 344.8 322.3 345.1 318.3 345.7 314.3 347.8 304.3 348.2 301.3 348.3 298.8 348.2 296.3 347.9 293.3 345.9 283.8 345.3 280.3 344.9 276.8 344.9 273.8 345.0 271.3 345.2 269.3 345.5 267.3 346.0 264.8 347.1 260.8 350.3 251.8 350.9 249.3 351.3 246.8 351.4 244.3 351.2 241.3 350.6 238.3 348.5 229.8 348.1 226.8 347.9 224.3 348.1 220.8 348.7 216.8 349.6 213.8 350.2 212.3 350.9 210.8 352.5 208.3 354.0 206.3 355.5 204.8 357.1 203.4 359.6 201.7 361.6 200.6 364.1 199.7 366.6 199.0 369.1 198.6 371.6 198.3 374.1 198.3 376.1 198.4 378.1 198.7 380.6 199.2 388.1 201.2 390.6 201.7 393.6 202.0 396.1 202.0 398.6 201.7 401.1 201.1 403.6 200.3 410.4 197.8 414.1 196.7 417.6 196.0 421.6 195.5 425.6 195.5 429.6 195.9 433.6 196.7 440.6 198.5 443.6 199.1 446.6 199.5 449.1 199.7 451.6 199.6 454.6 199.1 464.1 196.9 468.1 196.2 470.6 196.0 472.6 195.9 475.1 195.9 477.1 196.1 480.6 196.6 484.1 197.5 487.7 198.8 494.1 201.6 496.6 202.5 499.6 203.4 502.1 203.7 504.6 203.7 507.1 203.3 509.6 202.6 515.0 200.8 517.6 200.0 520.6 199.4 523.1 199.2 526.6 199.2 530.6 199.7 533.6 200.6 536.1 201.7 538.6 203.2 540.1 204.3 541.2 205.3 543.1 207.3 545.1 210.3 546.4 212.8 547.4 215.8 547.9 218.3 548.2 221.8 548.2 224.8 548.0 226.8 547.7 228.3 546.6 232.2 544.4 238.3 543.8 240.3 543.2 242.8 543.1 245.3 543.2 247.8 543.5 249.3 544.0 250.8 544.9 253.3 548.1 260.6 548.9 262.8 549.5 264.8 550.0 266.8 550.4 268.8 550.6 270.8 550.7 273.3 550.6 276.8 550.1 280.3 549.2 284.3 547.2 290.8 546.6 293.3 546.1 296.3 545.9 298.8 546.1 301.3 546.6 304.3 547.3 306.8 549.4 313.8 550.3 318.3 550.7 320.8 550.8 322.8 550.8 325.3 550.6 327.3 550.2 330.3 549.4 333.8 548.1 337.5 545.4 343.8 544.5 346.3 543.8 348.8 543.4 351.3 543.5 353.8 543.9 356.3 544.6 358.8 546.6 364.6 547.4 367.3 548.1 370.3 548.4 372.8 548.4 376.3 548.2 378.8 547.9 380.8 547.0 383.8 546.5 385.3 545.7 386.8 544.1 389.3 542.5 391.3 540.6 393.2 538.6 394.7 536.6 395.9 534.1 397.1 531.1 398.0 528.6 398.5 526.1 398.7 524.1 398.8 522.6 398.7 520.6 398.5 516.6 397.7 510.1 395.7 507.6 395.1 505.1 394.7 502.6 394.6 500.1 394.9 497.1 395.6 494.1 396.7 487.6 399.3 483.6 400.7 480.1 401.5 477.1 401.9 475.1 402.0 472.6 402.1 468.6 401.8 464.1 401.1 454.6 399.1 451.6 398.7 449.1 398.6 446.6 398.8 443.6 399.2 441.1 399.7 433.1 401.5 430.6 402.0 428.1 402.3Z"/>
<path fill="#d50000" d="M427.6 401.8 424.6 402.0 421.6 402.0 418.6 401.7 416.1 401.3 413.6 400.7 411.1 400.0 403.6 397.2 401.1 396.4 398.6 395.9 396.1 395.5 393.6 395.5 390.6 395.9 388.1 396.5 380.6 398.5 378.1 399.0 376.1 399.3 374.1 399.4 371.6 399.4 368.6 399.1 366.1 398.6 363.6 397.9 361.1 396.9 358.6 395.4 356.1 393.5 354.3 391.8 352.7 389.8 351.1 387.3 349.9 384.8 348.9 381.8 348.4 379.3 348.0 375.8 348.0 372.3 348.3 369.8 348.8 367.3 350.9 359.3 351.4 356.8 351.7 354.3 351.8 351.8 351.5 349.3 350.9 346.3 350.1 343.8 347.6 337.0 346.5 333.3 345.9 330.3 345.4 326.8 345.3 324.3 345.3 322.3 345.7 318.3 346.4 314.3 348.7 304.3 349.1 301.3 349.2 298.8 349.1 296.3 348.7 293.3 348.2 290.8 346.5 283.8 345.9 280.3 345.5 276.8 345.4 273.8 345.5 271.3 345.7 269.3 346.0 267.3 346.5 264.8 347.7 260.8 351.0 251.8 351.7 249.3 352.1 246.8 352.2 244.3 351.9 241.3 351.2 238.3 349.6 232.6 348.9 229.8 348.4 226.8 348.2 224.3 348.3 220.8 348.9 216.8 349.7 213.8 350.3 212.3 351.1 210.8 352.3 208.8 353.8 206.8 355.2 205.3 357.1 203.6 359.6 201.9 361.6 200.8 364.1 199.8 366.6 199.2 369.1 198.8 371.6 198.6 374.1 198.5 376.1 198.7 378.1 199.0 380.6 199.5 388.1 201.7 390.6 202.4 393.6 202.8 396.1 202.8 398.6 202.5 401.1 201.8 403.6 201.0 410.5 198.3 414.1 197.2 417.6 196.4 421.6 196.0 425.6 196.0 429.6 196.5 433.7 197.3 441.1 199.4 443.6 199.9 446.6 200.4 449.1 200.6 451.6 200.4 454.6 200.0 464.1 197.5 468.1 196.8 470.1 196.5 472.6 196.4 475.1 196.4 477.1 196.6 480.6 197.1 484.1 198.0 487.6 199.3 494.1 202.3 496.6 203.3 499.6 204.2 502.1 204.5 504.6 204.4 507.1 204.0 509.6 203.2 514.7 201.3 517.6 200.4 520.6 199.7 523.1 199.4 526.6 199.4 530.6 199.9 533.6 200.7 535.1 201.3 536.6 202.1 539.6 204.1 541.6 205.8 543.3 207.8 545.3 210.8 546.5 213.3 547.4 216.3 547.8 218.8 548.0 221.8 548.0 224.8 547.8 226.3 547.4 228.3 546.1 232.5 543.8 238.3 542.9 240.8 542.4 243.3 542.2 245.3 542.4 247.8 542.7 249.3 543.2 250.8 544.2 253.3 547.6 260.7 548.4 262.8 549.1 264.8 549.6 266.8 549.9 268.8 550.2 272.8 550.1 276.8 549.6 280.3 548.6 284.1 546.4 290.8 545.7 293.3 545.1 296.3 545.0 298.8 545.1 301.3 545.7 304.3 546.4 306.8 548.7 313.8 549.4 316.3 549.8 318.3 550.2 320.8 550.3 322.8 550.3 325.3 550.1 327.8 549.7 330.8 548.7 334.3 547.4 337.8 544.6 343.8 543.6 346.3 542.9 348.8 542.6 351.3 542.7 353.8 543.1 356.3 543.9 358.8 546.1 364.5 546.9 366.8 547.7 369.8 548.1 372.8 548.2 374.3 548.2 376.3 548.0 378.8 547.7 380.8 546.9 383.8 546.3 385.3 545.5 386.8 543.9 389.3 542.4 391.3 540.6 393.0 538.6 394.5 536.6 395.8 534.1 396.9 531.6 397.7 529.1 398.2 526.6 398.4 524.1 398.5 522.6 398.5 520.6 398.2 518.5 397.8 516.1 397.1 510.1 395.1 507.6 394.4 505.1 393.9 502.6 393.8 500.1 394.0 497.6 394.6 495.1 395.5 488.6 398.3 485.1 399.6 481.1 400.8 477.6 401.3 475.6 401.5 473.1 401.6 470.6 401.5 468.6 401.3 464.1 400.5 454.6 398.2 451.6 397.8 449.1 397.7 446.6 397.8 443.6 398.3 440.6 399.0 433.1 400.9 430.1 401.5 427.6 401.8Z"/>
<path fill="#c50000" d="M427.1 401.3 424.1 401.5 421.1 401.4 418.1 401.1 415.6 400.7 413.1 400.0 410.9 399.3 403.6 396.5 401.1 395.6 398.6 395.0 396.1 394.7 393.6 394.7 390.6 395.2 388.1 395.8 380.6 398.1 378.1 398.6 376.1 398.9 374.1 399.1 371.6 399.1 368.6 398.8 366.1 398.4 363.6 397.7 361.1 396.6 358.6 395.2 356.1 393.3 354.1 391.3 352.6 389.3 351.3 387.3 350.1 384.8 349.2 382.3 348.6 379.3 348.3 375.3 348.3 372.3 348.6 369.8 349.2 367.3 349.8 364.8 351.5 359.3 352.1 356.8 352.5 354.3 352.6 351.8 352.4 349.3 351.7 346.3 350.8 343.8 348.3 337.3 347.1 333.5 346.4 330.3 346.0 327.3 345.9 325.3 345.8 322.8 345.9 320.8 346.2 318.3 347.1 313.9 349.0 306.8 349.6 304.3 350.1 301.3 350.2 298.8 350.1 296.3 349.6 293.3 349.0 290.8 347.2 283.8 346.5 280.3 346.0 276.8 345.9 273.8 346.0 271.3 346.2 269.3 346.5 267.3 347.0 264.8 348.3 260.8 351.8 251.8 352.5 249.3 352.9 246.8 353.0 244.3 352.6 241.3 352.0 238.8 350.1 232.8 349.3 229.8 348.7 226.8 348.5 224.3 348.6 220.8 349.1 216.8 349.9 213.8 350.5 212.3 351.3 210.8 353.2 207.8 355.1 205.6 357.1 203.8 360.1 201.8 362.6 200.6 365.6 199.6 368.1 199.1 371.6 198.8 374.6 198.8 378.1 199.3 381.9 200.3 387.6 202.2 390.1 202.9 392.6 203.4 394.6 203.6 396.1 203.6 397.6 203.4 400.6 202.8 403.6 201.7 410.7 198.8 413.1 198.0 415.1 197.4 417.1 197.0 419.1 196.7 423.1 196.5 426.6 196.6 430.1 197.1 434.1 198.0 441.1 200.2 443.6 200.8 446.6 201.3 449.1 201.5 451.6 201.3 454.6 200.8 457.1 200.2 463.6 198.3 468.1 197.3 470.1 197.0 472.6 196.9 475.1 196.9 477.6 197.1 480.6 197.6 484.1 198.5 488.1 200.1 494.1 203.0 496.6 204.1 498.1 204.6 499.6 205.0 502.1 205.3 504.1 205.3 506.6 204.8 509.1 204.0 514.5 201.8 517.3 200.8 520.6 199.9 523.1 199.6 526.6 199.6 530.6 200.1 533.6 200.9 535.1 201.5 536.6 202.2 540.1 204.6 541.6 206.0 542.8 207.3 545.2 210.8 546.1 212.8 546.7 214.3 547.2 216.3 547.5 218.3 547.8 221.3 547.8 223.3 547.7 224.8 547.4 226.8 547.1 228.3 545.8 232.3 543.1 238.3 542.2 240.8 541.5 243.3 541.3 245.3 541.5 247.8 541.8 249.3 542.3 250.8 543.4 253.3 546.9 260.3 547.7 262.3 548.4 264.3 549.0 266.3 549.4 268.3 549.6 270.3 549.7 272.3 549.7 276.3 549.4 278.3 549.0 280.3 547.9 284.3 545.5 290.8 544.7 293.3 544.1 296.3 543.9 298.8 544.1 301.3 544.8 304.3 545.4 306.3 548.1 313.7 548.8 316.3 549.3 318.3 549.7 320.8 549.8 322.8 549.8 325.3 549.7 327.8 549.2 330.8 548.2 334.3 546.8 337.8 543.9 343.8 542.8 346.3 542.0 348.8 541.7 351.3 541.8 353.8 542.3 356.3 543.2 358.8 545.6 364.4 546.5 366.8 547.4 369.8 547.9 372.8 548.0 374.3 547.9 376.3 547.8 378.8 547.5 380.8 546.7 383.8 546.1 385.3 545.4 386.8 543.8 389.3 542.2 391.3 540.6 392.8 538.6 394.3 536.6 395.6 534.6 396.6 531.6 397.5 529.1 398.0 526.6 398.2 524.1 398.3 522.6 398.2 520.6 397.9 518.6 397.5 516.1 396.7 510.1 394.5 507.6 393.6 505.1 393.1 502.6 392.9 500.1 393.2 497.6 393.8 495.1 394.7 488.4 397.8 485.1 399.1 483.1 399.7 481.1 400.3 477.6 400.8 475.6 401.0 473.1 401.1 470.6 401.0 468.6 400.7 464.1 399.9 457.1 398.0 454.6 397.4 451.6 396.9 449.1 396.7 446.6 396.9 443.6 397.4 441.1 398.0 432.6 400.4 429.6 401.0 427.1 401.3Z"/>
<path fill="#b60000" d="M426.6 400.8 424.1 401.0 421.1 400.9 418.1 400.6 415.6 400.1 413.1 399.5 410.6 398.6 403.6 395.7 401.1 394.8 398.6 394.2 396.1 393.8 393.6 393.9 390.6 394.4 388.1 395.1 381.1 397.5 378.6 398.2 376.1 398.6 374.1 398.8 371.6 398.8 368.6 398.6 366.1 398.2 363.6 397.5 361.1 396.4 358.6 394.9 356.4 393.3 354.6 391.6 353.2 389.8 351.5 387.3 350.3 384.8 349.3 381.8 348.9 379.3 348.5 375.3 348.6 372.3 349.0 369.8 349.7 366.8 352.2 359.3 352.9 356.8 353.4 354.3 353.5 351.8 353.3 349.3 352.5 346.3 351.6 343.8 348.9 337.3 347.7 333.8 346.9 330.3 346.5 327.3 346.4 325.3 346.4 322.8 346.5 320.8 346.8 318.3 347.8 313.8 349.9 306.8 350.5 304.3 351.0 301.3 351.2 298.8 351.0 296.3 350.5 293.3 349.9 290.8 348.0 284.3 347.0 280.3 346.5 276.8 346.4 273.3 346.5 270.8 346.7 268.8 347.2 266.3 347.7 264.3 349.1 260.2 352.6 251.8 353.4 249.3 353.8 246.8 353.8 244.3 353.3 241.3 352.7 238.8 350.6 232.9 349.8 230.3 349.1 227.3 348.7 224.3 348.8 220.8 349.3 216.8 350.1 213.8 350.7 212.3 351.5 210.8 353.4 207.8 355.1 205.8 357.1 204.0 360.1 202.0 362.6 200.8 365.6 199.8 368.1 199.3 371.6 199.0 374.6 199.1 376.3 199.3 378.1 199.6 382.2 200.8 388.1 203.0 390.1 203.6 392.6 204.2 395.1 204.4 397.6 204.3 399.1 204.0 400.6 203.6 403.1 202.6 410.6 199.4 414.6 198.0 416.6 197.6 418.6 197.2 422.6 196.9 426.6 197.1 430.1 197.6 434.1 198.6 441.1 201.0 443.6 201.7 446.6 202.3 449.1 202.5 451.6 202.3 454.6 201.7 457.1 201.0 463.8 198.8 468.1 197.8 470.1 197.5 472.6 197.3 475.1 197.3 477.6 197.5 480.6 198.0 484.1 199.0 488.1 200.7 494.6 204.0 497.1 205.1 499.6 205.9 502.1 206.3 504.1 206.2 506.6 205.6 509.1 204.7 514.3 202.3 516.6 201.4 520.1 200.3 522.6 199.9 524.1 199.8 526.1 199.8 530.6 200.2 533.6 201.0 535.1 201.6 536.6 202.4 540.1 204.8 541.6 206.2 543.0 207.8 545.0 210.8 546.0 212.8 546.5 214.3 547.1 216.3 547.4 218.3 547.6 221.3 547.6 223.3 547.5 224.8 547.2 226.8 546.8 228.3 545.4 232.3 542.4 238.3 541.4 240.8 540.6 243.3 540.4 244.8 540.4 245.8 540.4 246.8 540.6 248.3 541.4 250.8 542.5 253.3 546.1 259.9 547.1 262.1 547.9 264.3 548.5 266.3 548.9 268.3 549.2 270.3 549.3 272.3 549.2 276.3 548.9 278.3 548.5 280.3 548.0 282.3 547.1 284.8 544.7 290.8 543.7 293.3 543.0 296.3 542.8 298.8 543.0 301.3 543.6 303.8 544.5 306.3 547.3 313.3 548.1 315.8 548.8 318.3 549.2 320.8 549.3 322.8 549.3 325.8 549.1 328.3 548.6 331.3 547.6 334.5 546.1 338.0 542.8 344.3 541.8 346.3 541.0 348.8 540.8 349.8 540.7 351.3 540.8 353.8 541.5 356.3 542.5 358.8 545.1 364.3 545.9 366.3 547.1 369.9 547.6 372.8 547.7 374.3 547.7 376.3 547.3 380.8 546.5 383.8 545.9 385.3 545.2 386.8 543.9 388.8 542.1 391.2 540.6 392.6 538.6 394.1 536.6 395.4 534.6 396.4 531.6 397.4 529.6 397.7 526.6 398.0 524.1 398.0 522.6 397.9 520.6 397.6 518.6 397.1 516.1 396.3 509.6 393.6 507.1 392.7 504.6 392.1 502.1 392.0 499.6 392.3 497.1 393.1 494.6 394.1 488.1 397.3 484.1 398.9 480.6 399.9 477.6 400.4 475.1 400.5 472.6 400.6 470.6 400.4 468.1 400.1 466.1 399.7 463.6 399.1 457.1 397.1 454.6 396.4 451.6 395.9 449.1 395.7 446.6 395.9 444.1 396.3 441.6 397.0 435.6 398.9 432.6 399.8 429.6 400.4 426.6 400.8Z"/>
<path fill="#a60000" d="M426.6 400.3 424.1 400.5 421.1 400.4 418.1 400.1 415.6 399.6 413.1 398.9 410.6 398.0 403.6 394.9 401.1 393.9 398.6 393.2 396.1 392.9 393.6 393.0 390.6 393.6 388.1 394.4 381.6 396.9 379.1 397.7 376.6 398.2 374.1 398.5 372.1 398.6 368.6 398.4 366.1 398.0 363.6 397.3 361.1 396.2 359.1 395.1 356.6 393.3 355.0 391.8 353.4 389.8 351.7 387.3 350.5 384.8 349.5 381.8 349.1 379.3 348.8 375.3 348.9 372.3 349.3 369.8 350.1 366.9 351.1 364.0 353.1 358.8 353.8 356.3 354.3 353.8 354.4 351.3 354.1 348.8 353.4 346.3 352.4 343.8 349.6 337.5 348.3 333.8 347.5 330.8 347.0 327.8 346.9 325.3 346.9 322.8 347.0 320.8 347.4 318.3 347.8 316.3 348.4 313.8 350.8 306.8 351.5 304.3 352.1 301.3 352.2 298.8 352.1 296.3 351.5 293.3 350.8 290.8 348.6 284.2 347.6 280.3 347.1 276.8 346.9 273.3 347.0 270.8 347.2 268.8 347.7 266.3 348.2 264.3 349.7 260.3 353.5 251.8 354.3 249.3 354.7 246.8 354.7 244.3 354.5 242.8 354.1 241.3 353.4 238.8 351.1 233.0 350.3 230.8 349.5 227.8 349.1 224.8 349.0 223.3 349.0 221.3 349.2 218.8 349.5 216.8 350.3 213.8 350.9 212.3 351.6 210.8 353.6 207.8 355.3 205.8 357.1 204.2 360.1 202.2 362.6 200.9 365.6 200.0 367.6 199.6 371.1 199.3 373.1 199.3 374.6 199.4 376.1 199.5 378.1 200.0 382.4 201.3 388.1 203.7 390.6 204.5 393.1 205.1 395.1 205.3 397.6 205.2 399.1 204.9 400.6 204.4 403.1 203.4 410.1 200.1 412.2 199.3 414.6 198.5 416.6 198.0 418.6 197.7 422.6 197.4 426.6 197.6 430.1 198.1 434.2 199.3 441.1 201.8 443.6 202.6 446.6 203.3 449.1 203.5 451.6 203.3 454.1 202.8 456.6 202.0 463.6 199.5 465.9 198.8 468.1 198.3 470.1 198.0 472.6 197.8 475.6 197.8 478.1 198.0 481.1 198.6 484.6 199.7 488.2 201.3 494.6 204.8 497.1 206.0 499.6 206.9 501.1 207.1 502.1 207.2 504.1 207.1 506.6 206.5 509.1 205.4 514.2 202.8 516.1 202.0 519.6 200.7 521.1 200.4 522.6 200.1 524.1 200.0 526.1 200.0 529.1 200.2 531.1 200.5 533.1 201.0 534.6 201.5 536.6 202.5 539.6 204.5 541.1 205.8 542.5 207.3 544.9 210.8 545.9 212.8 546.4 214.3 546.9 216.3 547.2 218.3 547.3 220.8 547.3 224.3 547.0 226.3 546.5 228.3 545.6 230.8 544.7 232.8 541.5 238.8 540.3 241.3 539.5 243.8 539.3 245.8 539.4 247.3 539.6 248.3 539.8 249.3 540.4 250.8 541.7 253.3 545.5 259.8 546.5 261.8 547.3 263.8 547.9 265.8 548.4 267.8 548.7 269.8 548.8 271.8 548.8 274.3 548.7 276.3 548.4 278.3 548.0 280.3 547.4 282.3 546.6 284.4 543.5 291.3 542.5 293.8 541.8 296.3 541.6 298.8 541.9 301.3 542.5 303.8 543.5 306.3 546.6 313.1 547.4 315.3 548.1 317.8 548.6 320.3 548.8 322.3 548.9 325.3 548.7 328.3 548.1 331.3 547.0 334.8 545.3 338.3 541.9 344.3 540.9 346.3 540.0 348.8 539.8 349.8 539.6 351.3 539.7 353.3 540.4 355.8 541.4 358.3 544.4 363.8 545.3 365.8 546.6 369.3 547.0 370.8 547.3 372.3 547.5 373.8 547.5 375.8 547.4 378.8 547.1 380.8 546.4 383.8 545.8 385.3 545.0 386.8 543.7 388.8 542.1 391.0 540.6 392.5 538.6 394.0 536.6 395.3 534.6 396.2 531.6 397.2 529.6 397.5 526.6 397.7 524.1 397.8 522.6 397.7 520.5 397.3 518.1 396.6 515.6 395.7 509.1 392.6 507.1 391.8 504.6 391.1 503.6 391.0 502.1 391.0 499.6 391.3 497.1 392.1 494.6 393.3 488.1 396.7 484.6 398.2 481.1 399.3 478.1 399.8 475.6 400.0 472.6 400.1 470.6 399.9 468.1 399.6 466.1 399.1 463.6 398.5 456.6 396.1 454.6 395.5 451.6 394.9 449.1 394.7 446.6 394.9 444.1 395.4 441.6 396.1 435.3 398.3 432.6 399.1 429.6 399.9 426.6 400.3Z"/>
<path fill="#970000" d="M426.6 399.8 423.6 400.0 420.6 399.9 418.1 399.6 415.6 399.1 413.1 398.4 410.6 397.4 403.6 394.1 401.1 393.0 398.6 392.3 396.1 392.0 393.6 392.1 391.1 392.6 388.6 393.5 381.6 396.5 379.1 397.3 376.6 397.9 374.1 398.3 372.1 398.3 368.6 398.1 366.1 397.8 363.6 397.1 361.1 396.0 359.1 394.8 356.6 393.0 354.8 391.3 353.2 389.3 351.6 386.8 350.7 384.8 349.7 381.8 349.3 379.3 349.1 374.8 349.3 371.8 349.8 369.3 350.7 366.3 351.6 364.0 353.8 358.8 354.7 356.3 355.2 353.8 355.4 351.8 355.1 349.3 354.8 347.8 354.3 346.3 353.2 343.8 350.1 337.2 348.7 333.3 348.1 331.3 347.7 329.3 347.5 327.3 347.4 325.3 347.5 321.3 347.7 319.3 348.1 317.3 349.3 313.3 351.7 306.8 352.5 304.3 353.1 301.3 353.3 298.8 353.1 296.3 352.5 293.3 351.7 290.8 349.1 283.8 348.4 281.3 348.0 279.3 347.6 277.3 347.4 274.8 347.4 272.3 347.6 269.8 348.1 266.8 349.1 263.3 350.6 259.6 353.5 253.8 354.6 251.3 355.3 248.8 355.7 246.3 355.5 243.8 355.0 241.3 354.1 238.8 351.6 233.1 350.7 230.8 349.8 227.8 349.3 224.8 349.2 223.3 349.3 221.3 349.4 218.8 349.7 216.8 350.5 213.8 351.1 212.3 351.8 210.8 353.8 207.8 355.5 205.8 357.1 204.4 360.1 202.3 362.6 201.1 365.6 200.2 367.6 199.8 371.1 199.5 373.1 199.5 374.6 199.6 376.6 199.9 378.1 200.3 380.6 201.1 382.5 201.8 388.1 204.3 390.6 205.3 393.1 206.0 395.6 206.3 397.6 206.1 400.1 205.5 402.6 204.5 408.9 201.3 412.3 199.8 414.1 199.2 416.1 198.6 418.1 198.2 419.6 198.0 422.1 197.9 425.1 197.9 427.1 198.1 429.6 198.6 431.6 199.1 434.1 199.9 441.1 202.7 443.6 203.6 446.6 204.4 449.1 204.6 451.6 204.4 454.1 203.8 456.6 202.9 463.1 200.3 465.6 199.4 467.6 198.9 469.6 198.5 471.6 198.3 474.1 198.2 476.6 198.3 478.6 198.5 480.1 198.8 482.1 199.3 484.1 200.0 486.0 200.8 488.0 201.8 495.1 206.0 497.1 207.0 499.6 207.9 501.1 208.2 502.1 208.3 504.1 208.1 505.1 207.9 506.6 207.4 508.6 206.5 514.2 203.3 516.1 202.4 520.1 200.9 522.6 200.4 524.1 200.2 526.1 200.2 529.1 200.4 531.1 200.6 533.1 201.1 534.6 201.7 536.6 202.7 540.1 205.0 541.1 206.0 542.4 207.3 544.7 210.8 545.7 212.8 546.2 214.3 546.8 216.3 547.1 220.3 547.2 222.8 547.1 224.3 546.8 226.3 546.1 228.5 545.1 231.1 544.3 232.8 540.3 239.3 539.3 241.3 538.7 242.8 538.4 243.8 538.2 245.8 538.2 247.3 538.4 248.3 538.9 249.8 539.3 250.8 540.4 252.8 544.6 259.3 545.7 261.3 546.6 263.3 547.3 265.3 547.9 267.3 548.2 269.3 548.4 271.3 548.4 273.8 548.3 276.3 548.0 278.3 547.5 280.3 546.8 282.3 545.8 284.8 542.5 291.3 541.3 293.8 540.6 296.3 540.4 297.3 540.3 298.8 540.4 300.3 540.6 301.3 541.3 303.8 542.5 306.3 545.8 312.8 546.8 315.3 547.6 317.8 548.2 320.3 548.4 322.3 548.4 325.8 548.2 328.8 547.5 331.8 546.5 334.8 545.6 336.7 544.6 338.5 540.9 344.3 539.8 346.3 539.3 347.3 538.8 348.8 538.5 350.3 538.4 351.3 538.5 352.3 538.7 353.8 539.3 355.8 540.6 358.3 543.6 363.4 544.9 365.8 546.3 369.3 547.0 371.8 547.2 373.3 547.3 374.8 547.2 377.8 547.0 380.8 546.4 383.3 545.8 384.8 544.9 386.8 542.5 390.3 541.1 391.8 539.6 393.1 536.6 395.1 534.6 396.1 533.1 396.6 531.1 397.1 530.1 397.3 527.1 397.5 524.1 397.5 522.6 397.4 520.6 397.0 518.3 396.3 515.6 395.2 513.7 394.3 509.1 391.8 506.6 390.7 505.1 390.2 504.1 390.0 502.1 389.9 501.1 390.0 499.6 390.3 497.1 391.1 494.6 392.4 488.6 395.8 486.6 396.8 484.6 397.7 481.1 398.8 478.1 399.3 475.6 399.6 472.6 399.6 470.6 399.4 468.1 399.0 466.1 398.6 463.6 397.8 456.6 395.1 454.1 394.3 451.6 393.8 449.1 393.6 446.6 393.8 444.1 394.3 441.6 395.1 436.1 397.3 433.1 398.4 429.6 399.3 426.6 399.8Z"/>
<path fill="#8a0000" d="M426.1 399.4 423.1 399.5 420.1 399.4 417.6 399.1 415.1 398.5 413.0 397.8 410.5 396.8 408.5 395.8 403.1 393.0 401.1 392.0 398.6 391.2 397.6 391.0 396.1 390.9 393.6 391.1 391.1 391.7 388.6 392.7 383.3 395.3 381.6 396.0 379.1 396.9 376.6 397.6 374.1 398.0 372.1 398.0 368.6 397.9 366.1 397.6 364.1 397.0 361.6 396.1 359.1 394.6 356.6 392.8 355.0 391.3 353.5 389.3 351.8 386.8 350.9 384.8 350.0 381.8 349.6 379.3 349.3 374.8 349.4 373.3 349.6 371.8 350.2 369.3 351.4 365.8 352.1 364.1 354.6 358.8 355.6 356.3 356.3 353.8 356.4 351.8 356.4 350.3 356.2 349.3 355.8 347.8 355.3 346.3 354.4 344.3 350.8 337.3 349.9 335.3 349.2 333.3 348.6 331.3 348.2 329.3 348.0 327.3 347.9 325.3 348.0 321.3 348.3 319.3 348.7 317.3 349.9 313.3 352.8 306.3 353.7 303.8 354.3 301.3 354.5 298.8 354.3 296.3 353.7 293.8 352.8 291.3 350.0 284.3 349.1 281.8 348.5 279.3 348.2 277.3 347.9 274.8 347.9 271.8 348.1 269.3 348.7 266.3 349.6 263.3 351.1 259.8 354.3 253.8 355.5 251.3 356.4 248.8 356.7 246.3 356.7 245.3 356.5 243.8 355.9 241.3 354.9 238.8 352.4 233.8 351.3 231.3 350.2 227.8 349.6 224.9 349.5 223.3 349.5 221.3 349.9 216.8 350.7 213.8 351.3 212.3 352.0 210.8 354.0 207.8 355.6 205.9 357.1 204.6 360.1 202.5 362.6 201.3 365.6 200.3 367.6 200.0 370.6 199.8 374.1 199.8 376.1 200.1 378.1 200.6 380.6 201.5 382.6 202.3 388.1 205.1 390.6 206.2 393.1 207.0 394.6 207.2 395.6 207.3 397.1 207.2 398.1 207.0 399.6 206.6 401.1 206.1 403.1 205.1 409.6 201.5 413.1 200.0 416.6 199.0 419.6 198.5 422.6 198.3 425.1 198.4 427.1 198.6 429.6 199.1 432.1 199.8 434.6 200.7 441.6 203.9 444.1 204.8 446.6 205.5 449.1 205.7 451.6 205.5 454.1 204.8 456.1 204.1 463.1 200.9 465.6 200.0 467.6 199.4 469.6 199.0 471.6 198.8 474.1 198.7 477.1 198.8 479.1 199.0 480.6 199.4 482.6 199.9 484.6 200.7 486.6 201.6 488.7 202.8 495.1 206.9 497.1 208.1 499.6 209.1 501.1 209.4 502.1 209.5 503.1 209.4 504.6 209.2 506.6 208.5 508.6 207.4 515.1 203.2 518.3 201.8 521.1 200.9 523.1 200.5 524.1 200.4 527.6 200.5 530.6 200.7 533.1 201.3 534.6 201.8 536.6 202.8 540.1 205.2 541.1 206.1 542.2 207.3 544.6 210.8 545.6 212.8 546.1 214.3 546.6 216.3 546.9 219.3 547.0 222.3 546.9 224.3 546.5 226.3 545.9 228.3 544.6 231.3 543.8 232.8 539.4 239.3 538.2 241.3 537.5 242.8 537.2 243.8 536.8 245.8 536.9 247.3 537.1 248.3 537.4 249.3 538.1 250.8 539.3 252.8 543.6 258.7 544.9 260.8 545.9 262.8 546.7 264.8 547.4 267.3 547.7 268.8 547.9 270.8 548.0 273.8 547.8 276.3 547.5 278.3 546.8 280.8 545.8 283.3 544.9 285.3 541.0 291.8 540.0 293.8 539.4 295.3 539.1 296.3 538.9 297.8 538.8 298.8 538.9 299.8 539.2 301.3 539.4 302.3 540.0 303.8 541.1 305.8 544.1 310.9 545.1 312.7 546.3 315.3 547.1 317.7 547.7 320.3 547.9 322.3 548.0 325.8 547.8 328.8 547.5 330.3 546.9 332.3 545.7 335.3 544.9 336.8 543.6 339.0 539.5 344.8 538.3 346.8 537.9 347.8 537.4 349.3 537.1 351.3 537.3 353.3 537.7 354.8 538.2 355.8 539.3 357.8 543.1 363.5 544.2 365.3 545.6 368.4 546.6 371.3 547.0 373.3 547.0 374.3 547.0 377.8 546.8 380.8 546.2 383.3 545.7 384.8 544.7 386.8 542.3 390.3 540.9 391.8 539.6 392.9 536.8 394.8 535.6 395.4 533.1 396.4 530.6 397.0 527.6 397.2 524.1 397.3 523.1 397.2 520.6 396.7 517.9 395.8 515.1 394.5 508.6 390.6 506.6 389.6 504.6 388.9 503.1 388.7 502.1 388.7 501.1 388.8 499.6 389.1 497.1 390.0 495.1 391.1 488.6 395.2 485.1 396.9 481.6 398.2 478.6 398.8 475.6 399.1 472.6 399.1 470.6 398.9 468.1 398.5 466.1 398.0 463.6 397.1 456.6 394.1 454.1 393.2 451.6 392.6 449.1 392.4 447.1 392.5 444.6 393.1 442.1 393.9 435.5 396.8 432.9 397.8 429.4 398.8 426.1 399.4Z"/>
<path fill="#8a0000" d="M426.6 398.8 423.6 399.0 420.1 398.9 417.6 398.6 415.1 398.0 412.6 397.1 410.1 396.0 407.9 394.8 403.1 392.0 401.1 391.0 398.6 390.1 397.6 389.9 396.1 389.8 395.1 389.8 393.6 390.0 391.1 390.7 388.6 391.9 382.2 395.3 379.6 396.3 376.6 397.3 374.1 397.7 372.6 397.8 369.1 397.7 366.1 397.3 364.1 396.8 361.6 395.9 359.7 394.8 356.8 392.8 355.1 391.1 354.0 389.8 352.3 387.3 351.1 384.8 350.6 383.3 350.1 381.3 349.8 379.3 349.6 376.8 349.6 374.3 349.7 372.8 350.0 371.3 350.7 368.8 351.8 365.8 352.6 364.1 355.5 358.8 356.6 356.3 357.4 353.8 357.6 351.8 357.5 350.3 357.3 349.3 356.9 347.8 356.3 346.3 355.3 344.3 351.6 337.7 350.7 335.8 349.9 333.8 349.2 331.8 348.8 329.8 348.5 327.8 348.4 325.8 348.4 323.3 348.5 321.3 348.8 319.3 349.3 317.3 349.9 315.3 350.8 312.8 353.9 306.3 354.9 303.8 355.5 301.3 355.8 298.8 355.5 296.3 354.9 293.8 353.9 291.3 350.6 284.3 349.7 281.8 349.2 279.8 348.7 277.3 348.5 275.3 348.4 272.3 348.6 269.3 349.2 266.3 350.3 262.8 352.1 259.1 355.5 253.3 356.6 251.3 357.5 248.8 357.8 247.3 357.8 246.3 357.7 244.3 357.4 242.8 357.0 241.8 355.9 239.3 353.1 234.1 352.0 231.8 350.6 228.1 350.2 226.8 349.9 225.3 349.8 223.8 349.7 221.8 349.9 218.8 350.1 216.8 350.9 213.8 351.4 212.3 352.2 210.8 354.2 207.8 355.6 206.1 357.1 204.8 360.1 202.7 362.1 201.7 364.1 200.9 366.6 200.3 370.1 200.0 372.6 200.0 374.1 200.0 376.1 200.4 378.1 200.9 380.5 201.8 382.7 202.8 388.6 206.1 391.1 207.3 393.6 208.1 395.1 208.4 396.1 208.4 397.6 208.2 398.6 208.0 401.1 207.1 403.1 206.0 409.3 202.3 412.6 200.7 414.1 200.1 416.1 199.5 419.1 199.0 422.1 198.8 425.1 198.8 427.1 199.0 429.6 199.6 432.0 200.3 434.5 201.3 436.6 202.3 441.6 204.9 444.1 206.0 446.6 206.7 448.1 207.0 449.1 207.0 450.1 207.0 451.6 206.7 454.1 206.0 456.1 205.1 462.6 201.8 465.1 200.7 467.6 199.9 469.6 199.5 471.6 199.2 474.1 199.1 477.1 199.2 479.1 199.5 481.1 199.9 483.1 200.6 485.1 201.4 486.9 202.3 489.3 203.8 495.1 208.0 497.1 209.2 498.6 210.0 499.6 210.4 500.6 210.6 502.1 210.8 503.1 210.8 504.1 210.6 506.1 209.9 508.1 208.7 512.8 205.3 515.1 203.7 517.9 202.3 521.1 201.1 523.1 200.7 524.1 200.6 528.1 200.7 531.1 200.9 532.1 201.2 533.1 201.4 534.6 201.9 536.6 202.9 539.1 204.7 539.6 204.9 541.1 206.3 542.5 207.8 542.7 208.3 544.5 210.8 545.5 212.8 546.0 214.3 546.2 215.3 546.5 216.3 546.7 218.3 546.8 222.3 546.7 224.3 546.3 226.3 545.6 228.3 544.2 231.3 543.6 232.4 541.1 235.9 537.9 239.8 536.6 241.8 535.8 243.3 535.5 244.3 535.3 245.3 535.3 246.3 535.3 247.3 535.7 248.8 536.7 250.8 538.1 252.8 541.1 256.3 542.6 258.2 544.1 260.5 545.1 262.2 546.0 264.3 546.7 266.3 547.2 268.3 547.4 269.8 547.5 273.3 547.4 276.3 547.0 278.3 546.3 280.8 545.2 283.3 544.1 285.4 542.6 287.7 539.4 292.3 538.3 294.3 537.8 295.3 537.4 296.8 537.1 298.8 537.4 300.8 537.8 302.3 538.3 303.3 539.4 305.3 542.6 309.9 544.1 312.2 545.5 314.8 546.4 317.3 547.1 319.8 547.5 321.8 547.5 325.3 547.3 328.8 547.0 330.3 546.5 332.3 545.9 333.8 544.9 335.8 543.6 338.0 542.6 339.5 538.3 344.8 536.9 346.8 536.3 347.8 535.8 349.3 535.6 350.3 535.5 351.3 535.6 352.3 535.8 353.3 536.3 354.8 536.8 355.8 538.1 357.8 541.1 361.6 543.6 365.0 544.3 366.3 545.1 368.0 546.3 371.3 546.8 373.3 546.8 374.3 546.8 377.8 546.6 380.8 546.0 383.3 545.5 384.8 544.6 386.8 542.2 390.3 540.6 391.9 539.6 392.8 536.6 394.8 534.6 395.7 533.1 396.3 530.6 396.8 527.1 397.0 523.6 397.0 521.1 396.6 520.2 396.3 517.1 395.1 515.1 394.1 508.6 389.5 506.6 388.3 504.6 387.6 503.6 387.4 502.1 387.3 500.6 387.5 499.6 387.7 498.6 388.1 497.1 388.8 495.1 390.0 489.1 394.2 485.6 396.2 483.6 397.0 482.1 397.5 480.1 398.1 478.6 398.4 475.6 398.6 472.6 398.6 470.6 398.4 468.1 398.0 465.6 397.2 463.1 396.3 461.0 395.3 456.6 393.1 454.1 392.0 451.6 391.3 450.6 391.1 449.1 391.1 447.1 391.2 444.6 391.8 442.1 392.8 436.1 395.8 433.1 397.1 429.6 398.2 426.6 398.8Z"/>
</g></g>
<circle cx="446.2" cy="300.4" r="144.2" fill="none" stroke="#000" stroke-width="6.2"/>
<circle cx="446.2" cy="300.4" r="144.2" fill="none" stroke="#fff" stroke-width="4.4"/>
<rect x="586.5" y="297.3" width="7.4" height="7.3" fill="#0000c8"/>
<path d="M587.6 297.3H593.9M587.6 304.6H593.9" stroke="#000" stroke-width="1.1"/>
<circle cx="370.0" cy="220.2" r="19.0" fill="#fff" stroke="#000" stroke-width="1.3"/>
<circle cx="422.4" cy="220.2" r="19.0" fill="#fff" stroke="#000" stroke-width="1.3"/>
<circle cx="474.8" cy="220.2" r="19.0" fill="#fff" stroke="#000" stroke-width="1.3"/>
<circle cx="527.2" cy="220.2" r="19.0" fill="#fff" stroke="#000" stroke-width="1.3"/>
<circle cx="370.0" cy="272.6" r="19.0" fill="#fff" stroke="#000" stroke-width="1.3"/>
<circle cx="422.4" cy="272.6" r="19.0" fill="#fff" stroke="#000" stroke-width="1.3"/>
<circle cx="474.8" cy="272.6" r="19.0" fill="#fff" stroke="#000" stroke-width="1.3"/>
<circle cx="527.2" cy="272.6" r="19.0" fill="#fff" stroke="#000" stroke-width="1.3"/>
<circle cx="370.0" cy="325.0" r="19.0" fill="#fff" stroke="#000" stroke-width="1.3"/>
<circle cx="422.4" cy="325.0" r="19.0" fill="#fff" stroke="#000" stroke-width="1.3"/>
<circle cx="474.8" cy="325.0" r="19.0" fill="#fff" stroke="#000" stroke-width="1.3"/>
<circle cx="527.2" cy="325.0" r="19.0" fill="#fff" stroke="#000" stroke-width="1.3"/>
<circle cx="370.0" cy="377.4" r="19.0" fill="#fff" stroke="#000" stroke-width="1.3"/>
<circle cx="422.4" cy="377.4" r="19.0" fill="#fff" stroke="#000" stroke-width="1.3"/>
<circle cx="474.8" cy="377.4" r="19.0" fill="#fff" stroke="#000" stroke-width="1.3"/>
<circle cx="527.2" cy="377.4" r="19.0" fill="#fff" stroke="#000" stroke-width="1.3"/>
<rect x="205.2" y="613.4" width="485.9" height="32.9" fill="url(#jetg)" stroke="#000" stroke-width="1.5"/>
<path d="M250.5 613.4v5.8M250.5 646.3v-5.8M295.0 613.4v5.8M295.0 646.3v-5.8M339.5 613.4v5.8M339.5 646.3v-5.8M384.0 613.4v5.8M384.0 646.3v-5.8M428.5 613.4v5.8M428.5 646.3v-5.8M473.0 613.4v5.8M473.0 646.3v-5.8M517.5 613.4v5.8M517.5 646.3v-5.8M562.0 613.4v5.8M562.0 646.3v-5.8M606.5 613.4v5.8M606.5 646.3v-5.8M651.0 613.4v5.8M651.0 646.3v-5.8" stroke="#000" stroke-width="2"/>
<text x="111.21" y="642.00" font-size="36" fill="#000" stroke="#000" textLength="88.70" lengthAdjust="spacingAndGlyphs">0 mM</text>
<text x="709.46" y="641.50" font-size="36" fill="#000" stroke="#000">500 μM</text>
<text x="279.81" y="685.80" font-size="37" fill="#000" stroke="#000" textLength="356.38" lengthAdjust="spacingAndGlyphs">Calcium Concentration</text>
<text x="19.75" y="805.80" font-size="42" fill="#231f20" stroke="#231f20">B.</text>
<rect x="112.4" y="791.35" width="690.1" height="667.1" fill="none" stroke="#231f20" stroke-width="8.6"/>
<path d="M94 851.3H110M94 972.8H110M94 1094.2H110M94 1215.7H110M94 1337.1H110M94 1458.35H110" stroke="#231f20" stroke-width="9"/>
<path d="M114.0 1460V1475.6M270.0 1460V1475.6M426.0 1460V1475.6M582.0 1460V1475.6M738.0 1460V1475.6" stroke="#231f20" stroke-width="11.7"/>
<text x="38.85" y="863.35" font-size="35.2" fill="#231f20" stroke="#231f20">0.5</text>
<text x="38.40" y="984.80" font-size="35.2" fill="#231f20" stroke="#231f20">0.4</text>
<text x="38.91" y="1106.25" font-size="35.2" fill="#231f20" stroke="#231f20">0.3</text>
<text x="39.14" y="1227.70" font-size="35.2" fill="#231f20" stroke="#231f20">0.2</text>
<text x="39.09" y="1349.15" font-size="35.2" fill="#231f20" stroke="#231f20">0.1</text>
<text x="67.34" y="1462.30" font-size="35.5" fill="#231f20" stroke="#231f20">0</text>
<text x="103.33" y="1508.10" font-size="35.5" fill="#231f20" stroke="#231f20">0</text>
<text x="258.84" y="1508.10" font-size="35.5" fill="#231f20" stroke="#231f20">1</text>
<text x="415.33" y="1508.10" font-size="35.5" fill="#231f20" stroke="#231f20">2</text>
<text x="571.43" y="1508.10" font-size="35.5" fill="#231f20" stroke="#231f20">3</text>
<text x="727.44" y="1508.10" font-size="35.5" fill="#231f20" stroke="#231f20">4</text>
<text x="299.01" y="1550.60" font-size="36.5" fill="#000" stroke="#000" textLength="307.16" lengthAdjust="spacingAndGlyphs">Time (relative units)</text>
<text transform="translate(30.10 1389.67) rotate(-90)" x="0" y="0" font-size="36.8" fill="#231f20" stroke="#231f20" textLength="488.74" lengthAdjust="spacingAndGlyphs">Average [Ca<tspan dy="-14.00" font-size="22.6">2 +</tspan><tspan dy="14.00">&#160;] in Lumen (mM)</tspan></text>
<text x="627.95" y="976.10" font-size="36" fill="#231f20" stroke="#231f20" textLength="136.20" lengthAdjust="spacingAndGlyphs">#&#160;of&#160;ILVs</text>
<rect x="621.7" y="982.9" width="147.6" height="2.9" fill="#231f20"/>
<path d="M114.0 851.3 115.6 854.4 117.1 856.8 118.7 858.8 120.2 860.5 121.8 862.0 123.4 863.5 124.9 864.9 126.5 866.2 128.0 867.5 129.6 868.8 131.2 870.0 132.7 871.3 135.8 873.8 140.8 877.6 145.7 881.3 150.6 884.9 155.6 888.5 160.5 892.0 165.4 895.4 170.3 898.7 175.3 902.0 180.2 905.2 185.1 908.3 190.0 911.4 195.0 914.3 199.9 917.3 204.8 920.1 209.8 922.9 214.7 925.7 219.6 928.4 224.5 931.0 229.5 933.6 234.4 936.1 239.3 938.6 244.2 941.0 249.2 943.4 254.1 945.7 259.0 948.0 264.0 950.2 268.9 952.4 273.8 954.6 278.7 956.7 283.7 958.7 288.6 960.7 293.5 962.7 298.5 964.6 303.4 966.5 308.3 968.4 313.2 970.2 318.2 972.0 323.1 973.7 328.0 975.4 332.9 977.1 337.9 978.7 342.8 980.3 347.7 981.9 352.7 983.4 357.6 984.9 362.5 986.4 367.4 987.9 372.4 989.3 377.3 990.7 382.2 992.0 387.1 993.4 392.1 994.7 397.0 996.0 401.9 997.2 406.9 998.5 411.8 999.7 416.7 1000.8 421.6 1002.0 426.6 1003.1 431.5 1004.3 436.4 1005.3 441.4 1006.4 446.3 1007.5 451.2 1008.5 456.1 1009.5 461.1 1010.5 466.0 1011.4 470.9 1012.4 475.8 1013.3 480.8 1014.2 485.7 1015.1 490.6 1016.0 495.6 1016.8 500.5 1017.7 505.4 1018.5 510.3 1019.3 515.3 1020.1 520.2 1020.9 525.1 1021.6 530.0 1022.4 535.0 1023.1 539.9 1023.8 544.8 1024.5 549.8 1025.2 554.7 1025.8 559.6 1026.5 564.5 1027.1 569.5 1027.8 574.4 1028.4 579.3 1029.0 584.3 1029.6 589.2 1030.2 594.1 1030.8 599.0 1031.3 604.0 1031.9 608.9 1032.4 613.8 1032.9 618.7 1033.4 623.7 1033.9 628.6 1034.4 633.5 1034.9 638.5 1035.4 643.4 1035.9 648.3 1036.3 653.2 1036.8 658.2 1037.2 663.1 1037.6 668.0 1038.1 672.9 1038.5" fill="none" stroke="#231f20" stroke-width="8.5" stroke-linejoin="round"/>
<path d="M114.0 851.3 115.6 854.5 117.1 857.1 118.7 859.3 120.2 861.2 121.8 863.0 123.4 864.7 124.9 866.4 126.5 868.0 128.0 869.6 129.6 871.1 131.2 872.7 132.7 874.2 135.8 877.3 140.8 882.1 145.7 886.8 150.6 891.5 155.6 896.0 160.5 900.5 165.4 904.9 170.3 909.3 175.3 913.5 180.2 917.7 185.1 921.8 190.0 925.8 195.0 929.7 199.9 933.6 204.8 937.4 209.8 941.1 214.7 944.7 219.6 948.3 224.5 951.8 229.5 955.2 234.4 958.6 239.3 961.9 244.2 965.1 249.2 968.3 254.1 971.3 259.0 974.4 264.0 977.4 268.9 980.3 273.8 983.1 278.7 985.9 283.7 988.7 288.6 991.3 293.5 994.0 298.5 996.5 303.4 999.1 308.3 1001.5 313.2 1003.9 318.2 1006.3 323.1 1008.6 328.0 1010.9 332.9 1013.1 337.9 1015.3 342.8 1017.4 347.7 1019.5 352.7 1021.5 357.6 1023.5 362.5 1025.5 367.4 1027.4 372.4 1029.3 377.3 1031.1 382.2 1032.9 387.1 1034.7 392.1 1036.4 397.0 1038.1 401.9 1039.7 406.9 1041.3 411.8 1042.9 416.7 1044.4 421.6 1046.0 426.6 1047.4 431.5 1048.9 436.4 1050.3 441.4 1051.7 446.3 1053.1 451.2 1054.4 456.1 1055.7 461.1 1057.0 466.0 1058.2 470.9 1059.4 475.8 1060.6 480.8 1061.8 485.7 1062.9 490.6 1064.0 495.6 1065.1 500.5 1066.2 505.4 1067.2 510.3 1068.3 515.3 1069.3 520.2 1070.3 525.1 1071.2 530.0 1072.2 535.0 1073.1 539.9 1074.0 544.8 1074.9 549.8 1075.7 554.7 1076.6 559.6 1077.4 564.5 1078.2 569.5 1079.0 574.4 1079.7 579.3 1080.5 584.3 1081.2 589.2 1082.0 594.1 1082.7 599.0 1083.4 604.0 1084.0 608.9 1084.7 613.8 1085.3 618.7 1086.0 623.7 1086.6 628.6 1087.2 633.5 1087.8 638.5 1088.4 643.4 1088.9 648.3 1089.5 653.2 1090.0 658.2 1090.6 663.1 1091.1 668.0 1091.6 672.9 1092.1" fill="none" stroke="#231f20" stroke-width="8.5" stroke-linejoin="round"/>
<path d="M114.0 851.3 115.6 854.6 117.1 857.3 118.7 859.6 120.2 861.7 121.8 863.7 123.4 865.6 124.9 867.4 126.5 869.2 128.0 871.0 129.6 872.7 131.2 874.5 132.7 876.2 135.8 879.7 140.8 885.2 145.7 890.6 150.6 895.9 155.6 901.1 160.5 906.3 165.4 911.4 170.3 916.4 175.3 921.4 180.2 926.2 185.1 931.0 190.0 935.7 195.0 940.3 199.9 944.8 204.8 949.2 209.8 953.6 214.7 957.9 219.6 962.1 224.5 966.2 229.5 970.2 234.4 974.2 239.3 978.1 244.2 981.9 249.2 985.6 254.1 989.3 259.0 992.9 264.0 996.4 268.9 999.9 273.8 1003.3 278.7 1006.6 283.7 1009.8 288.6 1013.0 293.5 1016.2 298.5 1019.2 303.4 1022.2 308.3 1025.1 313.2 1028.0 318.2 1030.8 323.1 1033.6 328.0 1036.3 332.9 1038.9 337.9 1041.5 342.8 1044.1 347.7 1046.6 352.7 1049.0 357.6 1051.4 362.5 1053.7 367.4 1056.0 372.4 1058.2 377.3 1060.4 382.2 1062.6 387.1 1064.7 392.1 1066.7 397.0 1068.7 401.9 1070.7 406.9 1072.6 411.8 1074.5 416.7 1076.3 421.6 1078.1 426.6 1079.9 431.5 1081.6 436.4 1083.3 441.4 1085.0 446.3 1086.6 451.2 1088.2 456.1 1089.7 461.1 1091.3 466.0 1092.8 470.9 1094.2 475.8 1095.6 480.8 1097.0 485.7 1098.4 490.6 1099.7 495.6 1101.0 500.5 1102.3 505.4 1103.5 510.3 1104.7 515.3 1105.9 520.2 1107.1 525.1 1108.2 530.0 1109.4 535.0 1110.5 539.9 1111.5 544.8 1112.6 549.8 1113.6 554.7 1114.6 559.6 1115.6 564.5 1116.5 569.5 1117.5 574.4 1118.4 579.3 1119.3 584.3 1120.1 589.2 1121.0 594.1 1121.8 599.0 1122.6 604.0 1123.4 608.9 1124.2 613.8 1125.0 618.7 1125.7 623.7 1126.5 628.6 1127.2 633.5 1127.9 638.5 1128.6 643.4 1129.2 648.3 1129.9 653.2 1130.5 658.2 1131.2 663.1 1131.8 668.0 1132.4 672.9 1132.9" fill="none" stroke="#231f20" stroke-width="8.5" stroke-linejoin="round"/>
<path d="M114.0 851.3 115.6 855.1 117.1 858.2 118.7 861.0 120.2 863.5 121.8 865.9 123.4 868.2 124.9 870.4 126.5 872.6 128.0 874.8 129.6 876.9 131.2 879.1 132.7 881.2 135.8 885.4 140.8 892.0 145.7 898.5 150.6 904.9 155.6 911.2 160.5 917.4 165.4 923.4 170.3 929.4 175.3 935.3 180.2 941.0 185.1 946.6 190.0 952.2 195.0 957.6 199.9 962.9 204.8 968.2 209.8 973.3 214.7 978.3 219.6 983.3 224.5 988.1 229.5 992.8 234.4 997.5 239.3 1002.0 244.2 1006.5 249.2 1010.9 254.1 1015.1 259.0 1019.3 264.0 1023.5 268.9 1027.5 273.8 1031.4 278.7 1035.3 283.7 1039.1 288.6 1042.8 293.5 1046.4 298.5 1050.0 303.4 1053.5 308.3 1056.9 313.2 1060.3 318.2 1063.5 323.1 1066.8 328.0 1069.9 332.9 1073.0 337.9 1076.0 342.8 1078.9 347.7 1081.8 352.7 1084.7 357.6 1087.4 362.5 1090.2 367.4 1092.8 372.4 1095.4 377.3 1098.0 382.2 1100.5 387.1 1102.9 392.1 1105.3 397.0 1107.6 401.9 1109.9 406.9 1112.2 411.8 1114.4 416.7 1116.5 421.6 1118.6 426.6 1120.7 431.5 1122.7 436.4 1124.7 441.4 1126.6 446.3 1128.5 451.2 1130.3 456.1 1132.1 461.1 1133.9 466.0 1135.7 470.9 1137.3 475.8 1139.0 480.8 1140.6 485.7 1142.2 490.6 1143.8 495.6 1145.3 500.5 1146.8 505.4 1148.3 510.3 1149.7 515.3 1151.1 520.2 1152.5 525.1 1153.8 530.0 1155.1 535.0 1156.4 539.9 1157.6 544.8 1158.9 549.8 1160.1 554.7 1161.2 559.6 1162.4 564.5 1163.5 569.5 1164.6 574.4 1165.7 579.3 1166.7 584.3 1167.8 589.2 1168.8 594.1 1169.8 599.0 1170.7 604.0 1171.7 608.9 1172.6 613.8 1173.5 618.7 1174.4 623.7 1175.3 628.6 1176.1 633.5 1176.9 638.5 1177.8 643.4 1178.5 648.3 1179.3 653.2 1180.1 658.2 1180.8 663.1 1181.5 668.0 1182.3 672.9 1183.0" fill="none" stroke="#231f20" stroke-width="8.5" stroke-linejoin="round"/>
<path d="M114.0 851.3 115.6 855.4 117.1 858.9 118.7 862.0 120.2 864.9 121.8 867.6 123.4 870.2 124.9 872.7 126.5 875.2 128.0 877.7 129.6 880.1 131.2 882.6 132.7 885.0 135.8 889.8 140.8 897.2 145.7 904.6 150.6 911.8 155.6 918.9 160.5 925.8 165.4 932.6 170.3 939.3 175.3 945.9 180.2 952.4 185.1 958.7 190.0 964.9 195.0 971.0 199.9 977.0 204.8 982.9 209.8 988.6 214.7 994.2 219.6 999.8 224.5 1005.2 229.5 1010.5 234.4 1015.7 239.3 1020.8 244.2 1025.8 249.2 1030.7 254.1 1035.5 259.0 1040.2 264.0 1044.8 268.9 1049.3 273.8 1053.7 278.7 1058.1 283.7 1062.3 288.6 1066.5 293.5 1070.6 298.5 1074.6 303.4 1078.5 308.3 1082.3 313.2 1086.1 318.2 1089.8 323.1 1093.4 328.0 1096.9 332.9 1100.4 337.9 1103.8 342.8 1107.1 347.7 1110.4 352.7 1113.5 357.6 1116.7 362.5 1119.7 367.4 1122.7 372.4 1125.7 377.3 1128.5 382.2 1131.4 387.1 1134.1 392.1 1136.8 397.0 1139.5 401.9 1142.0 406.9 1144.6 411.8 1147.1 416.7 1149.5 421.6 1151.9 426.6 1154.2 431.5 1156.5 436.4 1158.7 441.4 1160.9 446.3 1163.1 451.2 1165.2 456.1 1167.2 461.1 1169.3 466.0 1171.2 470.9 1173.2 475.8 1175.1 480.8 1176.9 485.7 1178.7 490.6 1180.5 495.6 1182.3 500.5 1184.0 505.4 1185.6 510.3 1187.3 515.3 1188.9 520.2 1190.4 525.1 1192.0 530.0 1193.5 535.0 1194.9 539.9 1196.4 544.8 1197.8 549.8 1199.2 554.7 1200.5 559.6 1201.8 564.5 1203.1 569.5 1204.4 574.4 1205.6 579.3 1206.9 584.3 1208.1 589.2 1209.2 594.1 1210.4 599.0 1211.5 604.0 1212.6 608.9 1213.6 613.8 1214.7 618.7 1215.7 623.7 1216.7 628.6 1217.7 633.5 1218.7 638.5 1219.6 643.4 1220.5 648.3 1221.4 653.2 1222.3 658.2 1223.2 663.1 1224.0 668.0 1224.9 672.9 1225.7" fill="none" stroke="#231f20" stroke-width="8.5" stroke-linejoin="round"/>
<path d="M114.0 851.3 115.6 855.6 117.1 859.3 118.7 862.6 120.2 865.7 121.8 868.6 123.4 871.5 124.9 874.3 126.5 877.0 128.0 879.8 129.6 882.5 131.2 885.2 132.7 887.9 135.8 893.3 140.8 901.7 145.7 910.0 150.6 918.1 155.6 926.1 160.5 934.0 165.4 941.8 170.3 949.4 175.3 956.9 180.2 964.3 185.1 971.6 190.0 978.7 195.0 985.6 199.9 992.5 204.8 999.2 209.8 1005.8 214.7 1012.3 219.6 1018.6 224.5 1024.8 229.5 1030.9 234.4 1036.9 239.3 1042.8 244.2 1048.5 249.2 1054.2 254.1 1059.7 259.0 1065.1 264.0 1070.4 268.9 1075.6 273.8 1080.7 278.7 1085.7 283.7 1090.6 288.6 1095.4 293.5 1100.1 298.5 1104.7 303.4 1109.2 308.3 1113.7 313.2 1118.0 318.2 1122.2 323.1 1126.4 328.0 1130.5 332.9 1134.4 337.9 1138.4 342.8 1142.2 347.7 1145.9 352.7 1149.6 357.6 1153.2 362.5 1156.7 367.4 1160.1 372.4 1163.5 377.3 1166.8 382.2 1170.0 387.1 1173.2 392.1 1176.3 397.0 1179.3 401.9 1182.3 406.9 1185.2 411.8 1188.1 416.7 1190.8 421.6 1193.6 426.6 1196.2 431.5 1198.9 436.4 1201.4 441.4 1203.9 446.3 1206.4 451.2 1208.8 456.1 1211.1 461.1 1213.4 466.0 1215.7 470.9 1217.9 475.8 1220.0 480.8 1222.1 485.7 1224.2 490.6 1226.2 495.6 1228.2 500.5 1230.1 505.4 1232.0 510.3 1233.9 515.3 1235.7 520.2 1237.5 525.1 1239.2 530.0 1240.9 535.0 1242.6 539.9 1244.2 544.8 1245.8 549.8 1247.4 554.7 1248.9 559.6 1250.4 564.5 1251.8 569.5 1253.3 574.4 1254.7 579.3 1256.0 584.3 1257.4 589.2 1258.7 594.1 1260.0 599.0 1261.2 604.0 1262.4 608.9 1263.6 613.8 1264.8 618.7 1266.0 623.7 1267.1 628.6 1268.2 633.5 1269.3 638.5 1270.3 643.4 1271.3 648.3 1272.3 653.2 1273.3 658.2 1274.3 663.1 1275.2 668.0 1276.2 672.9 1277.1" fill="none" stroke="#231f20" stroke-width="8.5" stroke-linejoin="round"/>
<path d="M114.0 851.3 115.6 856.3 117.1 860.6 118.7 864.5 120.2 868.2 121.8 871.6 123.4 875.0 124.9 878.3 126.5 881.5 128.0 884.7 129.6 887.9 131.2 891.0 132.7 894.2 135.8 900.3 140.8 909.9 145.7 919.3 150.6 928.5 155.6 937.6 160.5 946.4 165.4 955.1 170.3 963.6 175.3 971.9 180.2 980.1 185.1 988.1 190.0 995.9 195.0 1003.6 199.9 1011.1 204.8 1018.5 209.8 1025.7 214.7 1032.8 219.6 1039.7 224.5 1046.5 229.5 1053.2 234.4 1059.7 239.3 1066.1 244.2 1072.3 249.2 1078.5 254.1 1084.5 259.0 1090.4 264.0 1096.1 268.9 1101.8 273.8 1107.3 278.7 1112.8 283.7 1118.1 288.6 1123.3 293.5 1128.4 298.5 1133.4 303.4 1138.3 308.3 1143.1 313.2 1147.8 318.2 1152.4 323.1 1156.9 328.0 1161.3 332.9 1165.6 337.9 1169.9 342.8 1174.0 347.7 1178.1 352.7 1182.1 357.6 1186.0 362.5 1189.8 367.4 1193.6 372.4 1197.2 377.3 1200.8 382.2 1204.4 387.1 1207.8 392.1 1211.2 397.0 1214.5 401.9 1217.7 406.9 1220.9 411.8 1224.0 416.7 1227.1 421.6 1230.1 426.6 1233.0 431.5 1235.9 436.4 1238.7 441.4 1241.4 446.3 1244.1 451.2 1246.8 456.1 1249.4 461.1 1251.9 466.0 1254.4 470.9 1256.8 475.8 1259.2 480.8 1261.5 485.7 1263.8 490.6 1266.0 495.6 1268.2 500.5 1270.4 505.4 1272.5 510.3 1274.6 515.3 1276.6 520.2 1278.5 525.1 1280.5 530.0 1282.4 535.0 1284.2 539.9 1286.1 544.8 1287.9 549.8 1289.6 554.7 1291.3 559.6 1293.0 564.5 1294.6 569.5 1296.2 574.4 1297.8 579.3 1299.4 584.3 1300.9 589.2 1302.4 594.1 1303.8 599.0 1305.2 604.0 1306.6 608.9 1308.0 613.8 1309.3 618.7 1310.6 623.7 1311.9 628.6 1313.2 633.5 1314.4 638.5 1315.6 643.4 1316.8 648.3 1317.9 653.2 1319.1 658.2 1320.2 663.1 1321.3 668.0 1322.3 672.9 1323.4" fill="none" stroke="#231f20" stroke-width="8.5" stroke-linejoin="round"/>
<path d="M114.0 851.3 115.6 856.2 117.1 860.6 118.7 864.6 120.2 868.4 121.8 872.1 123.4 875.8 124.9 879.4 126.5 882.9 128.0 886.4 129.6 890.0 131.2 893.5 132.7 897.0 135.8 903.9 140.8 914.8 145.7 925.6 150.6 936.3 155.6 946.8 160.5 957.1 165.4 967.3 170.3 977.3 175.3 987.1 180.2 996.8 185.1 1006.3 190.0 1015.7 195.0 1024.9 199.9 1033.9 204.8 1042.7 209.8 1051.4 214.7 1059.9 219.6 1068.3 224.5 1076.5 229.5 1084.5 234.4 1092.4 239.3 1100.2 244.2 1107.7 249.2 1115.2 254.1 1122.4 259.0 1129.6 264.0 1136.6 268.9 1143.4 273.8 1150.1 278.7 1156.7 283.7 1163.2 288.6 1169.5 293.5 1175.7 298.5 1181.7 303.4 1187.7 308.3 1193.5 313.2 1199.1 318.2 1204.7 323.1 1210.2 328.0 1215.5 332.9 1220.7 337.9 1225.9 342.8 1230.9 347.7 1235.8 352.7 1240.6 357.6 1245.3 362.5 1249.9 367.4 1254.4 372.4 1258.8 377.3 1263.1 382.2 1267.3 387.1 1271.4 392.1 1275.5 397.0 1279.4 401.9 1283.3 406.9 1287.1 411.8 1290.8 416.7 1294.4 421.6 1297.9 426.6 1301.4 431.5 1304.8 436.4 1308.1 441.4 1311.4 446.3 1314.5 451.2 1317.6 456.1 1320.7 461.1 1323.6 466.0 1326.6 470.9 1329.4 475.8 1332.2 480.8 1334.9 485.7 1337.6 490.6 1340.2 495.6 1342.7 500.5 1345.2 505.4 1347.6 510.3 1350.0 515.3 1352.3 520.2 1354.6 525.1 1356.8 530.0 1359.0 535.0 1361.1 539.9 1363.2 544.8 1365.2 549.8 1367.2 554.7 1369.2 559.6 1371.1 564.5 1372.9 569.5 1374.7 574.4 1376.5 579.3 1378.3 584.3 1380.0 589.2 1381.6 594.1 1383.2 599.0 1384.8 604.0 1386.4 608.9 1387.9 613.8 1389.4 618.7 1390.8 623.7 1392.2 628.6 1393.6 633.5 1395.0 638.5 1396.3 643.4 1397.6 648.3 1398.8 653.2 1400.1 658.2 1401.3 663.1 1402.5 668.0 1403.6 672.9 1404.7" fill="none" stroke="#231f20" stroke-width="8.5" stroke-linejoin="round"/>
<text x="685.77" y="1049.00" font-size="35" fill="#231f20" stroke="#231f20">16</text>
<text x="685.88" y="1103.20" font-size="35" fill="#231f20" stroke="#231f20">12</text>
<text x="696.08" y="1155.70" font-size="35" fill="#231f20" stroke="#231f20">9</text>
<text x="695.95" y="1201.70" font-size="35" fill="#231f20" stroke="#231f20">6</text>
<text x="696.18" y="1243.50" font-size="35" fill="#231f20" stroke="#231f20">4</text>
<text x="696.07" y="1284.80" font-size="35" fill="#231f20" stroke="#231f20">2</text>
<text x="695.59" y="1334.70" font-size="35" fill="#231f20" stroke="#231f20">1</text>
<text x="696.07" y="1418.40" font-size="35" fill="#231f20" stroke="#231f20">0</text>
<text x="20.97" y="1600.50" font-size="42" fill="#231f20" stroke="#231f20">C.</text>
<rect x="119.8" y="1590.2" width="689.4" height="666.3" fill="none" stroke="#231f20" stroke-width="8.9"/>
<path d="M97.8 2227.5H116M97.8 2120.3H116M97.8 2013.1H116M97.8 1905.9H116M97.8 1798.7H116M97.8 1691.5H116" stroke="#231f20" stroke-width="8.6"/>
<path d="M238.5 2258V2277.4M394.9 2258V2277.4M551.3 2258V2277.4M707.7 2258V2277.4" stroke="#231f20" stroke-width="11.2"/>
<text x="71.44" y="2239.80" font-size="35.5" fill="#231f20" stroke="#231f20">0</text>
<text x="42.24" y="2132.60" font-size="35.5" fill="#231f20" stroke="#231f20">0.2</text>
<text x="41.49" y="2025.40" font-size="35.5" fill="#231f20" stroke="#231f20">0.4</text>
<text x="42.01" y="1918.20" font-size="35.5" fill="#231f20" stroke="#231f20">0.6</text>
<text x="41.99" y="1811.00" font-size="35.5" fill="#231f20" stroke="#231f20">0.8</text>
<text x="41.84" y="1703.80" font-size="35.5" fill="#231f20" stroke="#231f20">1.0</text>
<text x="228.33" y="2309.60" font-size="35.5" fill="#231f20" stroke="#231f20">0</text>
<text x="384.24" y="2309.60" font-size="35.5" fill="#231f20" stroke="#231f20">1</text>
<text x="541.13" y="2309.60" font-size="35.5" fill="#231f20" stroke="#231f20">2</text>
<text x="697.63" y="2309.60" font-size="35.5" fill="#231f20" stroke="#231f20">3</text>
<text x="309.71" y="2342.20" font-size="36.5" fill="#000" stroke="#000" textLength="308.16" lengthAdjust="spacingAndGlyphs">Time (relative units)</text>
<text transform="translate(37.80 2191.38) rotate(-90)" x="0" y="0" font-size="37" fill="#231f20" stroke="#231f20" textLength="499.68" lengthAdjust="spacingAndGlyphs">Relative Near-Endosomal [Ca<tspan dy="-13.80" font-size="23.9">2+</tspan><tspan dy="13.80">]</tspan></text>
<text x="152.45" y="1637.00" font-size="35.5" fill="#231f20" stroke="#231f20" textLength="136.20" lengthAdjust="spacingAndGlyphs">#&#160;of&#160;ILVs</text>
<rect x="146.8" y="1643.8" width="147.4" height="3.5" fill="#231f20"/>
<path d="M238.5 1691.5 243.1 1700.5 247.8 1709.0 252.4 1717.2 257.0 1725.3 261.7 1733.2 266.3 1740.9 270.9 1748.4 275.5 1755.8 280.2 1763.1 284.8 1770.2 289.4 1777.2 294.1 1784.1 298.7 1790.8 303.3 1797.5 308.0 1804.0 312.6 1810.4 317.2 1816.7 321.8 1822.9 326.5 1828.9 331.1 1834.9 335.7 1840.8 340.4 1846.6 345.0 1852.2 349.6 1857.8 354.3 1863.3 358.9 1868.7 363.5 1874.0 368.1 1879.3 372.8 1884.4 377.4 1889.5 382.0 1894.4 386.7 1899.3 391.3 1904.1 395.9 1908.9 400.6 1913.5 405.2 1918.1 409.8 1922.6 414.4 1927.1 419.1 1931.4 423.7 1935.7 428.3 1939.9 433.0 1944.1 437.6 1948.2 442.2 1952.2 446.9 1956.2 451.5 1960.1 456.1 1963.9 460.8 1967.7 465.4 1971.4 470.0 1975.1 474.6 1978.7 479.3 1982.2 483.9 1985.7 488.5 1989.2 493.2 1992.5 497.8 1995.9 502.4 1999.1 507.1 2002.4 511.7 2005.5 516.3 2008.7 520.9 2011.7 525.6 2014.8 530.2 2017.7 534.8 2020.7 539.5 2023.6 544.1 2026.4 548.7 2029.2 553.4 2032.0 558.0 2034.7 562.6 2037.3 567.2 2040.0 571.9 2042.6 576.5 2045.1 581.1 2047.6 585.8 2050.1 590.4 2052.5 595.0 2054.9 599.7 2057.3 604.3 2059.6 608.9 2061.9 613.5 2064.1 618.2 2066.3 622.8 2068.5 627.4 2070.7 632.1 2072.8 636.7 2074.9 641.3 2076.9 646.0 2078.9 650.6 2080.9 655.2 2082.9 659.9 2084.8 664.5 2086.7 669.1 2088.6 673.7 2090.4 678.4 2092.2 683.0 2094.0 687.6 2095.8 692.3 2097.5 696.9 2099.2 701.5 2100.9 706.2 2102.5 710.8 2104.1 715.4 2105.7 720.0 2107.3 724.7 2108.9 729.3 2110.4 733.9 2111.9 738.6 2113.4 743.2 2114.8 747.8 2116.3 752.5 2117.7 757.1 2119.1 761.7 2120.5 766.3 2121.8 771.0 2123.2 775.6 2124.5 780.2 2125.8 784.9 2127.0 789.5 2128.3" fill="none" stroke="#000" stroke-width="7.5" stroke-linecap="round" stroke-linejoin="round"/>
<path d="M238.5 1874.0 243.1 1878.9 247.8 1884.0 252.4 1889.1 257.0 1894.3 261.7 1899.3 266.3 1904.4 270.9 1909.4 275.5 1914.4 280.2 1919.3 284.8 1924.1 289.4 1928.9 294.1 1933.7 298.7 1938.3 303.3 1942.9 308.0 1947.5 312.6 1952.0 317.2 1956.4 321.8 1960.8 326.5 1965.1 331.1 1969.3 335.7 1973.5 340.4 1977.6 345.0 1981.7 349.6 1985.7 354.3 1989.6 358.9 1993.5 363.5 1997.3 368.1 2001.1 372.8 2004.8 377.4 2008.4 382.0 2012.0 386.7 2015.5 391.3 2019.0 395.9 2022.4 400.6 2025.8 405.2 2029.1 409.8 2032.4 414.4 2035.6 419.1 2038.8 423.7 2041.9 428.3 2045.0 433.0 2048.0 437.6 2050.9 442.2 2053.9 446.9 2056.7 451.5 2059.6 456.1 2062.3 460.8 2065.1 465.4 2067.8 470.0 2070.4 474.6 2073.0 479.3 2075.6 483.9 2078.1 488.5 2080.6 493.2 2083.0 497.8 2085.4 502.4 2087.8 507.1 2090.1 511.7 2092.4 516.3 2094.6 520.9 2096.8 525.6 2099.0 530.2 2101.1 534.8 2103.2 539.5 2105.3 544.1 2107.3 548.7 2109.3 553.4 2111.3 558.0 2113.2 562.6 2115.1 567.2 2117.0 571.9 2118.8 576.5 2120.6 581.1 2122.4 585.8 2124.1 590.4 2125.9 595.0 2127.5 599.7 2129.2 604.3 2130.8 608.9 2132.4 613.5 2134.0 618.2 2135.6 622.8 2137.1 627.4 2138.6 632.1 2140.0 636.7 2141.5 641.3 2142.9 646.0 2144.3 650.6 2145.7 655.2 2147.0 659.9 2148.4 664.5 2149.7 669.1 2150.9 673.7 2152.2 678.4 2153.4 683.0 2154.7 687.6 2155.8 692.3 2157.0 696.9 2158.2 701.5 2159.3 706.2 2160.4 710.8 2161.5 715.4 2162.6 720.0 2163.7 724.7 2164.7 729.3 2165.7 733.9 2166.7 738.6 2167.7 743.2 2168.7 747.8 2169.6 752.5 2170.6 757.1 2171.5 761.7 2172.4 766.3 2173.3 771.0 2174.2 775.6 2175.0 780.2 2175.9 784.9 2176.7 789.5 2177.5" fill="none" stroke="#000" stroke-width="7.5" stroke-linecap="round" stroke-linejoin="round"/>
<path d="M238.5 2046.5 243.1 2049.4 247.8 2052.7 252.4 2056.1 257.0 2059.6 261.7 2063.0 266.3 2066.5 270.9 2069.9 275.5 2073.3 280.2 2076.6 284.8 2080.0 289.4 2083.2 294.1 2086.5 298.7 2089.7 303.3 2092.8 308.0 2095.9 312.6 2098.9 317.2 2101.9 321.8 2104.8 326.5 2107.6 331.1 2110.5 335.7 2113.2 340.4 2115.9 345.0 2118.6 349.6 2121.2 354.3 2123.7 358.9 2126.2 363.5 2128.6 368.1 2131.0 372.8 2133.3 377.4 2135.6 382.0 2137.8 386.7 2140.0 391.3 2142.2 395.9 2144.2 400.6 2146.3 405.2 2148.3 409.8 2150.2 414.4 2152.1 419.1 2154.0 423.7 2155.8 428.3 2157.6 433.0 2159.3 437.6 2161.0 442.2 2162.6 446.9 2164.2 451.5 2165.8 456.1 2167.4 460.8 2168.8 465.4 2170.3 470.0 2171.7 474.6 2173.1 479.3 2174.5 483.9 2175.8 488.5 2177.1 493.2 2178.4 497.8 2179.6 502.4 2180.8 507.1 2181.9 511.7 2183.1 516.3 2184.2 520.9 2185.3 525.6 2186.3 530.2 2187.4 534.8 2188.4 539.5 2189.3 544.1 2190.3 548.7 2191.2 553.4 2192.1 558.0 2193.0 562.6 2193.8 567.2 2194.7 571.9 2195.5 576.5 2196.3 581.1 2197.1 585.8 2197.8 590.4 2198.5 595.0 2199.3 599.7 2199.9 604.3 2200.6 608.9 2201.3 613.5 2201.9 618.2 2202.5 622.8 2203.2 627.4 2203.7 632.1 2204.3 636.7 2204.9 641.3 2205.4 646.0 2206.0 650.6 2206.5 655.2 2207.0 659.9 2207.5 664.5 2207.9 669.1 2208.4 673.7 2208.9 678.4 2209.3 683.0 2209.7 687.6 2210.1 692.3 2210.6 696.9 2210.9 701.5 2211.3 706.2 2211.7 710.8 2212.1 715.4 2212.4 720.0 2212.8 724.7 2213.1 729.3 2213.4 733.9 2213.7 738.6 2214.0 743.2 2214.3 747.8 2214.6 752.5 2214.9 757.1 2215.2 761.7 2215.5 766.3 2215.7 771.0 2216.0 775.6 2216.2 780.2 2216.5 784.9 2216.7 789.5 2216.9" fill="none" stroke="#000" stroke-width="7.5" stroke-linecap="round" stroke-linejoin="round"/>
<path d="M238.5 2203.4 243.1 2204.6 247.8 2205.7 252.4 2206.8 257.0 2207.8 261.7 2208.8 266.3 2209.7 270.9 2210.5 275.5 2211.4 280.2 2212.1 284.8 2212.9 289.4 2213.6 294.1 2214.2 298.7 2214.8 303.3 2215.4 308.0 2216.0 312.6 2216.5 317.2 2217.0 321.8 2217.5 326.5 2217.9 331.1 2218.3 335.7 2218.7 340.4 2219.1 345.0 2219.5 349.6 2219.8 354.3 2220.1 358.9 2220.4 363.5 2220.7 368.1 2221.0 372.8 2221.2 377.4 2221.5 382.0 2221.7 386.7 2221.9 391.3 2222.1 395.9 2222.3 400.6 2222.5 405.2 2222.7 409.8 2222.9 414.4 2223.0 419.1 2223.2 423.7 2223.3 428.3 2223.4 433.0 2223.6 437.6 2223.7 442.2 2223.8 446.9 2223.9 451.5 2224.0 456.1 2224.1 460.8 2224.2 465.4 2224.3 470.0 2224.4 474.6 2224.4 479.3 2224.5 483.9 2224.6 488.5 2224.6 493.2 2224.7 497.8 2224.8 502.4 2224.8 507.1 2224.9 511.7 2224.9 516.3 2225.0 520.9 2225.0 525.6 2225.0 530.2 2225.1 534.8 2225.1 539.5 2225.2 544.1 2225.2 548.7 2225.2 553.4 2225.3 558.0 2225.3 562.6 2225.3 567.2 2225.3 571.9 2225.4 576.5 2225.4 581.1 2225.4 585.8 2225.4 590.4 2225.4 595.0 2225.5 599.7 2225.5 604.3 2225.5 608.9 2225.5 613.5 2225.5 618.2 2225.5 622.8 2225.6 627.4 2225.6 632.1 2225.6 636.7 2225.6 641.3 2225.6 646.0 2225.6 650.6 2225.6 655.2 2225.6 659.9 2225.6 664.5 2225.6 669.1 2225.7 673.7 2225.7 678.4 2225.7 683.0 2225.7 687.6 2225.7 692.3 2225.7 696.9 2225.7 701.5 2225.7 706.2 2225.7 710.8 2225.7 715.4 2225.7 720.0 2225.7 724.7 2225.7 729.3 2225.7 733.9 2225.7 738.6 2225.7 743.2 2225.7 747.8 2225.7 752.5 2225.7 757.1 2225.7 761.7 2225.7 766.3 2225.7 771.0 2225.7 775.6 2225.7 780.2 2225.7 784.9 2225.8 789.5 2225.8" fill="none" stroke="#000" stroke-width="7.5" stroke-linecap="round" stroke-linejoin="round"/>
<path d="M238.5 2225.8 243.1 2225.8 247.8 2225.8 252.4 2225.8 257.0 2225.8 261.7 2225.8 266.3 2225.8 270.9 2225.8 275.5 2225.8 280.2 2225.8 284.8 2225.8 289.4 2225.8 294.1 2225.8 298.7 2225.8 303.3 2225.8 308.0 2225.8 312.6 2225.8 317.2 2225.8 321.8 2225.8 326.5 2225.8 331.1 2225.8 335.7 2225.8 340.4 2225.8 345.0 2225.8 349.6 2225.8 354.3 2225.8 358.9 2225.8 363.5 2225.8 368.1 2225.8 372.8 2225.8 377.4 2225.8 382.0 2225.8 386.7 2225.8 391.3 2225.8 395.9 2225.8 400.6 2225.8 405.2 2225.8 409.8 2225.8 414.4 2225.8 419.1 2225.8 423.7 2225.8 428.3 2225.8 433.0 2225.8 437.6 2225.8 442.2 2225.8 446.9 2225.8 451.5 2225.8 456.1 2225.8 460.8 2225.8 465.4 2225.8 470.0 2225.8 474.6 2225.8 479.3 2225.8 483.9 2225.8 488.5 2225.8 493.2 2225.8 497.8 2225.8 502.4 2225.8 507.1 2225.8 511.7 2225.8 516.3 2225.8 520.9 2225.8 525.6 2225.8 530.2 2225.8 534.8 2225.8 539.5 2225.8 544.1 2225.8 548.7 2225.8 553.4 2225.8 558.0 2225.8 562.6 2225.8 567.2 2225.8 571.9 2225.8 576.5 2225.8 581.1 2225.8 585.8 2225.8 590.4 2225.8 595.0 2225.8 599.7 2225.8 604.3 2225.8 608.9 2225.8 613.5 2225.8 618.2 2225.8 622.8 2225.8 627.4 2225.8 632.1 2225.8 636.7 2225.8 641.3 2225.8 646.0 2225.8 650.6 2225.8 655.2 2225.8 659.9 2225.8 664.5 2225.8 669.1 2225.8 673.7 2225.8 678.4 2225.8 683.0 2225.8 687.6 2225.8 692.3 2225.8 696.9 2225.8 701.5 2225.8 706.2 2225.8 710.8 2225.8 715.4 2225.8 720.0 2225.8 724.7 2225.8 729.3 2225.8 733.9 2225.8 738.6 2225.8 743.2 2225.8 747.8 2225.8 752.5 2225.8 757.1 2225.8 761.7 2225.8 766.3 2225.8 771.0 2225.8 775.6 2225.8 780.2 2225.8 784.9 2225.8 789.5 2225.8" fill="none" stroke="#000" stroke-width="7.5" stroke-linecap="round" stroke-linejoin="round"/>
<text x="177.98" y="1695.80" font-size="35.5" fill="#231f20" stroke="#231f20">16</text>
<text x="188.43" y="1878.40" font-size="35.5" fill="#231f20" stroke="#231f20">8</text>
<text x="188.54" y="2047.60" font-size="35.5" fill="#231f20" stroke="#231f20">4</text>
<text x="188.43" y="2193.90" font-size="35.5" fill="#231f20" stroke="#231f20">2</text>
<text x="188.43" y="2237.20" font-size="35.5" fill="#231f20" stroke="#231f20">0</text>
</svg></body></html>
